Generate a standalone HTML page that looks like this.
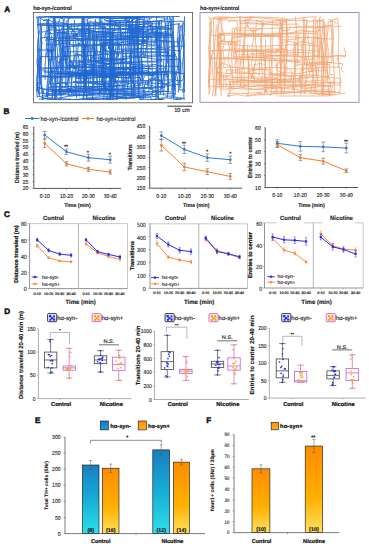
<!DOCTYPE html>
<html><head><meta charset="utf-8"><style>
html,body{margin:0;padding:0;background:#fff;}
svg{display:block;font-family:"Liberation Sans", sans-serif;text-rendering:geometricPrecision;-webkit-font-smoothing:antialiased;}
</style></head><body>
<svg width="369" height="550" viewBox="0 0 369 550">
<rect width="369" height="550" fill="#fff"/>
<text transform="translate(4.30 11.85) scale(0.1)" x="0" y="0" font-size="82.0" text-anchor="start" fill="#111" font-weight="bold" stroke="#111" stroke-width="5.00">A</text>
<text transform="translate(3.60 114.15) scale(0.1)" x="0" y="0" font-size="82.0" text-anchor="start" fill="#111" font-weight="bold" stroke="#111" stroke-width="5.00">B</text>
<text transform="translate(4.00 217.35) scale(0.1)" x="0" y="0" font-size="82.0" text-anchor="start" fill="#111" font-weight="bold" stroke="#111" stroke-width="5.00">C</text>
<text transform="translate(4.20 313.95) scale(0.1)" x="0" y="0" font-size="82.0" text-anchor="start" fill="#111" font-weight="bold" stroke="#111" stroke-width="5.00">D</text>
<text transform="translate(34.90 422.65) scale(0.1)" x="0" y="0" font-size="82.0" text-anchor="start" fill="#111" font-weight="bold" stroke="#111" stroke-width="5.00">E</text>
<text transform="translate(206.30 422.85) scale(0.1)" x="0" y="0" font-size="82.0" text-anchor="start" fill="#111" font-weight="bold" stroke="#111" stroke-width="5.00">F</text>
<text transform="translate(33.20 9.99) scale(0.1)" x="0" y="0" font-size="58.0" text-anchor="start" fill="#111" font-weight="bold" stroke="#111" stroke-width="1.00" textLength="386.0" lengthAdjust="spacingAndGlyphs">hα-syn-/control</text>
<rect x="33.50" y="12.50" width="159.10" height="90.30" fill="none" stroke="#555" stroke-width="0.8" />
<path d="M84.8,84.7 L85.1,82.2 L85.2,79.7 L85.3,77.1 L85.3,74.6 L85.2,72.0 L84.9,69.5 L84.6,66.9 L84.3,64.4 L84.0,61.8 L83.8,59.3 L83.8,56.7 L83.9,54.2 L84.1,51.7 L84.5,49.1 L84.9,46.6 L85.3,44.0 L82.1,45.5 L78.9,44.3 M122.7,80.2 L123.1,77.5 L123.4,74.9 L123.4,72.3 L122.9,69.8 L122.3,67.2 L121.8,64.6 L121.7,62.0 L122.0,59.4 L122.4,56.8 L122.6,54.2 L122.3,51.6 L121.7,49.0 L121.1,46.5 L120.7,43.9 L118.0,43.7 L115.3,42.6 L112.5,43.3 L109.9,42.7 L107.2,42.0 L104.4,42.8 M119.7,25.9 L119.9,28.5 L120.3,31.0 L120.6,33.6 L120.9,36.2 L121.2,38.7 L121.4,41.3 L121.6,43.8 L121.6,46.4 L121.5,49.0 L121.4,51.5 L121.2,54.1 L121.0,56.7 L120.9,59.2 L120.7,61.8 L120.6,64.4 L120.6,66.9 L120.7,69.5 L120.9,72.0 L121.1,74.6 L121.4,77.1 L121.8,79.7 L122.1,82.3 L122.3,84.8 L122.5,87.4 L122.7,89.9 L120.1,90.3 L117.5,89.6 L114.9,89.3 L112.4,89.8 L109.8,90.5 L107.2,90.7 L104.6,90.2 L102.1,89.7 M180.9,34.8 L180.7,37.4 L181.1,40.1 L181.7,42.7 L181.9,45.3 L181.5,47.9 L180.6,50.5 L179.9,53.1 L179.7,55.7 L180.1,58.3 L180.7,60.9 L180.9,63.6 L180.5,66.2 L179.6,68.7 L178.9,71.3 L178.7,73.9 L181.2,73.7 L183.7,73.5 L184.5,73.3 L184.5,73.2 L184.5,73.1 L184.5,73.1 L184.5,73.1 L184.5,73.2 L184.5,73.3 M50.7,88.5 L50.6,85.9 L50.7,83.3 L50.7,80.7 L50.8,78.1 L50.9,75.5 L50.9,72.9 L50.9,70.3 L50.9,67.7 L50.9,65.1 L50.9,62.6 L51.0,60.0 L51.1,57.4 L51.3,54.8 L51.5,52.2 L51.7,49.6 L52.0,47.0 L52.2,44.4 L52.3,41.8 M167.3,97.6 L167.6,95.0 L167.9,92.5 L168.2,90.0 L168.5,87.5 L168.5,85.0 L168.3,82.4 L168.0,79.9 L167.7,77.4 L167.6,74.8 L167.7,72.3 L168.0,69.8 L168.4,67.3 L168.7,64.8 L168.8,62.2 L168.7,59.7 L168.4,57.2 L168.2,54.7 L168.0,52.1 L168.0,49.6 L168.2,47.1 L170.8,46.9 L173.4,46.7 L176.0,46.3 L178.5,46.1 L181.2,46.1 L183.7,45.9 L184.5,45.6 L184.5,45.5 L184.5,45.5 M163.9,78.5 L164.2,75.9 L164.6,73.3 L165.1,70.7 L165.7,68.1 L166.3,65.5 L166.8,62.9 L167.2,60.3 L167.4,57.7 L167.5,55.0 L167.4,52.4 L167.1,49.8 L166.9,47.2 L166.6,44.5 L166.5,41.9 L166.4,39.3 L166.5,36.7 L166.7,34.0 L166.8,31.4 L163.9,32.0 L160.9,32.6 L157.9,32.3 L155.0,31.4 L152.1,30.6 M178.3,24.4 L178.3,26.9 L178.2,29.4 L178.0,32.0 L177.8,34.5 L177.8,37.0 L178.0,39.5 L178.3,42.0 L178.8,44.5 L179.3,47.0 L179.7,49.4 L180.0,51.9 L180.0,54.5 L179.9,57.0 L179.6,59.5 L179.2,62.0 L178.9,64.5 L178.8,67.0 L178.8,69.5 L179.0,72.0 L179.3,74.5 L179.6,77.0 L179.8,79.5 L179.8,82.0 L179.6,84.5 L179.2,87.0 L178.7,89.5 L178.2,92.0 M95.3,19.6 L95.5,22.2 L95.5,24.7 L95.4,27.2 L95.3,29.8 L95.1,32.3 L94.8,34.8 L94.7,37.3 L94.6,39.8 L94.5,42.4 L94.6,44.9 L94.6,47.5 L94.7,50.0 L94.8,52.5 L94.7,55.1 L94.5,57.6 L94.2,60.1 L93.8,62.6 L93.3,65.1 L92.8,67.6 L92.3,70.1 L91.8,72.6 L89.3,71.6 L86.8,72.7 M92.5,33.9 L92.6,36.5 L92.8,39.1 L92.9,41.7 L93.0,44.3 L93.2,46.9 L93.3,49.4 L93.3,52.0 L93.4,54.6 L93.5,57.2 L93.5,59.8 L93.5,62.4 L93.6,65.0 L93.5,67.6 L93.5,70.2 L93.5,72.8 L93.4,75.4 L93.4,78.0 L93.3,80.5 L93.2,83.1 L93.1,85.7 L92.9,88.3 L92.8,90.9 L92.6,93.5 L92.5,96.1 L92.3,98.7 L95.0,98.9 L97.6,99.5 L100.2,99.3 M177.3,38.4 L177.3,41.0 L177.5,43.6 L177.8,46.1 L178.2,48.7 L178.5,51.2 L178.6,53.8 L178.7,56.3 L178.6,58.9 L178.6,61.5 L178.5,64.0 L178.7,66.6 L178.9,69.1 L179.1,71.7 L179.2,74.3 L179.3,76.8 L179.2,79.4 L179.0,82.0 L178.8,84.5 L178.7,87.1 L178.8,89.7 L181.3,89.9 L183.9,89.6 L184.5,89.6 L184.5,90.0 L184.5,90.6 L184.5,91.0 L184.5,90.9 L184.5,90.6 L184.5,90.3 M156.6,17.1 L156.5,19.7 L156.4,22.3 L156.3,24.9 L156.2,27.4 L156.2,30.0 L156.2,32.6 L156.3,35.2 L156.4,37.7 L156.5,40.3 L156.7,42.9 L156.9,45.4 L157.0,48.0 L157.2,50.6 L157.3,53.1 L157.4,55.7 L157.4,58.3 L157.4,60.8 L157.4,63.4 L157.4,66.0 L157.3,68.6 L157.2,71.1 L157.2,73.7 L157.2,76.3 L157.2,78.8 L157.3,81.4 L157.4,84.0 L157.5,86.6 L157.7,89.1 L157.9,91.7 L158.2,94.3 L158.5,96.8 L158.8,99.4 L161.5,98.5 L164.3,99.2 M143.6,98.7 L143.7,96.1 L143.7,93.6 L143.5,91.1 L143.2,88.6 L142.8,86.0 L142.6,83.5 L142.5,81.0 L142.6,78.4 L142.7,75.9 L142.7,73.4 L142.5,70.8 L142.2,68.3 L141.9,65.8 L141.6,63.3 L141.6,60.7 L141.6,58.2 L141.7,55.7 L141.8,53.1 L141.6,50.6 L141.3,48.1 M37.1,18.1 L37.3,20.6 L37.4,23.1 L37.6,25.6 L37.9,28.2 L38.1,30.7 L38.3,33.2 L38.5,35.8 L38.7,38.3 L38.9,40.8 L39.0,43.3 L39.2,45.9 L39.3,48.4 L39.4,50.9 L39.5,53.5 L39.6,56.0 L39.6,58.5 L39.6,61.1 L39.6,63.6 L39.6,66.1 L39.5,68.7 L39.5,71.2 L39.5,73.7 L39.4,76.3 L39.4,78.8 L39.4,81.3 L39.3,83.9 L39.3,86.4 L39.3,88.9 L39.3,91.5 L39.3,94.0 L39.3,96.5 M100.8,18.1 L100.7,20.7 L100.7,23.3 L100.8,25.9 L100.8,28.5 L101.0,31.1 L101.1,33.6 L101.3,36.2 L101.5,38.8 L101.7,41.4 L101.9,44.0 L102.0,46.6 L102.1,49.2 L102.2,51.8 L102.3,54.4 L102.3,57.0 L102.3,59.6 L102.2,62.2 L102.1,64.8 L102.0,67.4 L101.9,70.0 L101.9,72.6 L101.8,75.2 L101.8,77.8 L101.9,80.4 L101.9,82.9 M41.0,26.0 L41.1,28.5 L41.1,31.0 L41.1,33.5 L41.1,36.0 L41.1,38.5 L41.1,41.0 L41.1,43.5 L41.1,46.0 L41.1,48.5 L41.1,51.0 L41.1,53.5 L41.1,56.0 L41.1,58.5 L41.1,61.1 L41.2,63.6 L41.2,66.1 L41.2,68.6 L41.3,71.1 L41.3,73.6 L41.4,76.1 L41.5,78.6 L41.6,81.1 L41.6,83.6 L41.7,86.1 L41.8,88.6 L39.0,87.4 L37.0,88.8 M68.0,73.2 L67.9,70.6 L67.8,68.1 L67.9,65.5 L67.9,63.0 L67.9,60.4 L67.7,57.9 L67.6,55.4 L67.5,52.8 L67.5,50.3 L67.7,47.7 L67.8,45.2 L68.0,42.7 L68.1,40.1 L68.1,37.6 L68.1,35.0 L68.2,32.5 L68.4,30.0 L68.6,27.4 L71.4,28.4 L74.2,29.5 L77.1,28.6 L79.9,29.4 L82.8,29.1 M165.6,23.3 L165.6,25.8 L165.6,28.4 L165.7,31.0 L165.7,33.5 L165.7,36.1 L165.8,38.7 L165.8,41.3 L165.9,43.8 L165.9,46.4 L166.0,49.0 L166.0,51.5 L166.0,54.1 L166.0,56.7 L165.9,59.2 L165.9,61.8 L165.8,64.4 L165.7,66.9 L165.5,69.5 L165.4,72.1 L165.2,74.6 L165.0,77.2 L164.8,79.8 L164.6,82.3 L164.3,84.9 L164.1,87.4 L163.9,90.0 L163.6,92.6 L163.4,95.1 M115.8,36.5 L116.0,39.2 L116.1,41.8 L116.0,44.4 L115.8,47.0 L115.4,49.6 L115.0,52.1 L114.6,54.7 L114.4,57.3 L114.3,59.9 L114.4,62.5 L114.6,65.2 L114.8,67.8 L115.0,70.4 L115.1,73.0 L115.1,75.6 L114.8,78.2 L114.3,80.8 L113.8,83.4 L113.1,85.9 L112.5,88.5 L112.1,91.1 L111.8,93.7 L109.3,93.6 L106.7,93.4 L104.2,93.3 L101.6,93.3 L99.1,93.3 L96.6,93.3 L94.0,93.3 L91.5,93.4 L88.9,93.5 M102.9,27.6 L102.9,30.2 L103.1,32.8 L103.4,35.4 L103.7,38.0 L103.9,40.6 L104.0,43.2 L103.9,45.8 L103.6,48.4 L103.2,51.0 L102.8,53.6 L102.6,56.2 L102.4,58.8 L102.5,61.4 L102.8,64.0 L103.3,66.6 L103.8,69.2 L104.3,71.8 L104.7,74.4 L104.9,77.0 L104.9,79.6 L104.8,82.2 L104.6,84.8 L104.5,87.4 M161.6,61.7 L161.3,59.2 L160.6,56.8 L159.6,54.3 L159.0,51.8 L158.8,49.3 L159.1,46.8 L159.5,44.3 L159.6,41.7 L159.2,39.3 L158.4,36.8 L157.8,34.3 L157.7,31.8 L158.1,29.3 L158.7,26.7 L159.1,24.2 L159.0,21.7 M59.9,94.7 L60.0,92.2 L60.1,89.6 L60.1,87.0 L60.3,84.5 L60.5,82.0 L60.7,79.4 L61.0,76.9 L61.4,74.3 L61.7,71.8 L62.1,69.2 L62.4,66.7 L62.6,64.2 L62.8,61.6 L62.9,59.1 L62.9,56.5 L62.8,53.9 L62.6,51.4 L62.5,48.8 L62.3,46.3 L62.1,43.7 L62.0,41.2 L61.9,38.6 L61.9,36.0 L61.9,33.5 L62.0,30.9 L62.1,28.4 L62.2,25.8 L59.5,25.8 L56.7,25.7 L54.0,25.6 L51.2,25.5 L48.4,25.3 L45.7,25.1 L42.9,24.9 L40.2,24.7 L37.4,24.5 M83.8,16.8 L83.9,19.3 L84.0,21.9 L84.2,24.5 L84.4,27.0 L84.6,29.6 L84.9,32.1 L85.1,34.7 L85.3,37.3 L85.4,39.8 L85.5,42.4 L85.5,45.0 L85.4,47.5 L85.3,50.1 L85.2,52.6 L85.0,55.2 L84.9,57.8 L84.8,60.3 L84.7,62.9 L84.7,65.4 L84.6,68.0 L84.6,70.6 L84.6,73.1 L84.5,75.7 L84.4,78.3 L84.3,80.8 L84.1,83.4 L83.8,85.9 L81.1,87.0 L78.4,87.1 L75.6,87.2 L72.9,87.9 L70.2,88.6 L67.4,88.3 L64.6,87.7 L61.9,87.9 L59.1,88.2 M76.6,34.8 L77.3,37.4 L78.0,40.1 L78.3,42.7 L78.3,45.3 L78.0,48.0 L77.8,50.7 L77.9,53.3 L78.3,55.9 L78.9,58.6 L79.3,61.2 L79.5,63.8 L79.2,66.5 L78.7,69.2 L78.3,71.8 L78.2,74.5 M50.0,84.9 L50.1,82.3 L50.3,79.7 L50.5,77.1 L50.7,74.5 L50.7,71.9 L50.6,69.3 L50.4,66.7 L50.1,64.2 L49.7,61.6 L49.2,59.0 L48.8,56.5 L48.3,53.9 L47.9,51.4 L47.5,48.8 M46.5,95.8 L46.6,93.2 L46.7,90.7 L46.9,88.2 L47.1,85.6 L47.3,83.1 L47.6,80.5 L47.9,78.0 L48.1,75.5 L48.3,72.9 L48.5,70.4 L48.5,67.8 L48.5,65.3 L48.5,62.8 L48.3,60.2 L48.2,57.7 L48.1,55.1 L47.9,52.6 L47.8,50.1 L47.8,47.5 L47.8,45.0 L47.8,42.5 L47.9,39.9 L47.9,37.4 L48.0,34.8 L48.0,32.3 L48.0,29.8 L47.9,27.2 L47.8,24.7 L47.6,22.1 L47.3,19.6 L43.6,20.2 L40.2,18.3 M67.3,90.4 L67.2,87.9 L67.2,85.4 L67.4,82.9 L67.8,80.4 L68.3,77.9 L69.0,75.4 L69.6,72.9 L70.1,70.4 L70.4,67.9 L70.4,65.3 L70.3,62.8 L69.9,60.3 L69.6,57.8 L69.2,55.2 L69.0,52.7 L69.0,50.2 L69.2,47.7 L69.4,45.1 L69.7,42.6 L70.0,40.1 L70.1,37.6 L70.0,35.1 M112.9,33.3 L112.8,35.8 L112.7,38.3 L112.7,40.9 L112.7,43.4 L112.8,45.9 L112.8,48.4 L112.8,51.0 L112.8,53.5 L112.8,56.0 L112.8,58.5 L112.9,61.1 L113.1,63.6 L113.2,66.1 L113.3,68.6 L113.4,71.2 L113.5,73.7 L113.5,76.2 L113.7,78.7 L110.7,77.3 L107.5,77.8 L104.4,77.7 M88.0,58.5 L87.6,55.9 L87.8,53.4 L88.4,50.8 L88.7,48.3 L88.5,45.7 L88.0,43.1 L87.7,40.5 L88.0,38.0 L88.7,35.4 L89.3,32.9 L89.4,30.3 L89.1,27.7 L88.9,25.1 L89.2,22.6 M135.8,72.4 L135.7,69.8 L135.5,67.2 L135.4,64.5 L135.3,61.9 L135.1,59.3 L134.9,56.7 L134.8,54.0 L134.7,51.4 L134.7,48.8 L134.8,46.2 L134.9,43.5 L134.9,40.9 L134.9,38.3 L135.0,35.7 L135.1,33.0 L135.3,30.4 L135.5,27.8 L135.8,25.2 M117.7,98.2 L117.5,95.7 L117.3,93.2 L117.0,90.7 L116.7,88.1 L116.4,85.6 L116.0,83.1 L115.8,80.6 L115.6,78.1 L115.6,75.6 L115.7,73.0 L115.8,70.5 L116.0,68.0 L116.1,65.5 L116.2,62.9 L116.3,60.4 L116.4,57.9 L116.5,55.4 L116.6,52.8 L114.2,51.6 L111.6,51.9 L109.1,51.5 L106.7,50.4 L104.1,50.7 L101.5,51.8 M81.9,18.0 L82.0,20.6 L81.9,23.2 L81.8,25.8 L81.7,28.4 L81.6,31.0 L81.7,33.6 L81.9,36.1 L82.3,38.7 L82.7,41.3 L83.2,43.8 L83.6,46.4 L83.9,49.0 L84.0,51.6 L84.0,54.2 L83.8,56.7 L83.5,59.3 L83.2,61.9 L83.0,64.5 L82.8,67.1 L82.8,69.7 L83.0,72.3 L83.2,74.9 L83.5,77.4 L83.8,80.0 L84.0,82.6 M143.3,23.7 L143.3,26.2 L143.2,28.7 L143.0,31.2 L142.8,33.7 L142.5,36.2 L142.2,38.7 L141.8,41.2 L141.5,43.7 L141.2,46.2 L141.0,48.7 L140.9,51.3 L140.9,53.8 L141.0,56.3 L141.1,58.8 L141.2,61.3 L141.3,63.9 L141.4,66.4 L141.4,68.9 L141.3,71.4 L141.2,73.9 L141.1,76.4 L140.9,78.9 L140.8,81.5 M111.9,19.9 L112.0,22.4 L112.1,24.9 L112.2,27.5 L112.3,30.0 L112.3,32.5 L112.4,35.1 L112.6,37.6 L112.8,40.1 L113.1,42.6 L113.3,45.2 L113.6,47.7 L113.8,50.2 L114.0,52.8 L114.2,55.3 L114.2,57.8 L114.2,60.4 L114.2,62.9 L114.1,65.4 L113.9,68.0 L113.8,70.5 L113.8,73.0 L113.7,75.6 L113.7,78.1 L113.8,80.6 L113.8,83.2 L113.9,85.7 L114.0,88.2 L114.0,90.8 L113.9,93.3 L113.9,95.8 L113.7,98.4 M131.9,18.4 L132.1,20.9 L132.4,23.4 L132.7,25.9 L132.9,28.4 L133.1,30.9 L133.3,33.4 L133.5,35.9 L133.6,38.4 L133.8,40.8 L133.9,43.3 L134.0,45.8 L134.2,48.3 L134.3,50.8 L134.5,53.3 L134.6,55.8 L137.2,55.8 L139.8,56.0 L142.1,54.6 L144.6,54.3 M134.6,87.2 L134.2,84.6 L133.6,82.1 L132.9,79.5 L132.6,76.9 L132.6,74.3 L132.7,71.6 L132.7,69.0 L132.3,66.4 L131.8,63.9 L131.5,61.3 L131.5,58.6 L131.8,56.0 L132.1,53.4 L132.1,50.7 M109.7,31.2 L109.7,33.8 L109.7,36.5 L109.7,39.1 L109.7,41.7 L109.8,44.3 L110.0,46.9 L110.1,49.5 L110.3,52.1 L110.4,54.7 L110.5,57.4 L110.6,60.0 L110.7,62.6 L110.8,65.2 L110.8,67.8 L110.8,70.4 L110.8,73.0 L110.9,75.7 L111.0,78.3 L111.1,80.9 L111.2,83.5 L114.1,83.1 L116.9,82.7 L119.8,82.6 L122.6,82.7 L125.4,82.9 L128.3,83.4 L131.1,84.0 M51.7,35.6 L51.3,38.2 L51.1,40.7 L51.1,43.3 L51.2,45.9 L51.5,48.5 L51.7,51.1 L51.7,53.7 L51.6,56.3 L51.2,58.9 L50.8,61.5 L50.5,64.1 L50.4,66.7 L50.5,69.2 L50.7,71.8 L50.9,74.4 L51.0,77.0 L50.8,79.6 L54.0,78.0 L57.4,77.3 M76.6,97.4 L76.5,94.8 L76.3,92.2 L76.2,89.7 L76.1,87.1 L76.0,84.5 L75.9,81.9 L75.8,79.4 L75.8,76.8 L75.8,74.2 L75.8,71.7 L75.9,69.1 L76.1,66.5 L76.2,64.0 L76.4,61.4 L76.7,58.8 L76.9,56.3 L77.2,53.7 M112.0,97.8 L111.8,95.2 L111.6,92.7 L111.5,90.1 L111.5,87.5 L111.6,84.9 L111.8,82.3 L112.1,79.8 L112.5,77.2 L112.9,74.6 L113.2,72.1 L113.5,69.5 L113.8,66.9 L113.9,64.3 L113.9,61.7 L113.8,59.2 L113.6,56.6 L113.4,54.0 L113.2,51.4 L113.0,48.8 L112.9,46.2 L112.8,43.6 L112.9,41.1 L113.1,38.5 L113.4,35.9 L113.8,33.3 L114.1,30.8 L114.5,28.2 L114.9,25.6 L115.1,23.1 L115.3,20.5 L112.5,20.0 L109.7,21.0 L107.0,20.7 L104.3,19.5 M86.7,97.7 L86.5,95.2 L86.4,92.7 L86.4,90.1 L86.4,87.6 L86.5,85.1 L86.7,82.5 L86.8,80.0 L86.8,77.4 L86.8,74.9 L86.6,72.4 L86.3,69.9 L86.0,67.4 L85.6,64.8 L85.3,62.3 L84.9,59.8 L84.7,57.3 L84.6,54.8 L84.5,52.2 L84.5,49.7 L84.4,47.2 L84.3,44.6 M48.5,19.3 L48.6,21.9 L48.7,24.4 L48.8,27.0 L48.9,29.6 L49.0,32.1 L49.0,34.7 L49.0,37.2 L49.0,39.8 L49.0,42.3 L48.9,44.9 L48.9,47.5 L48.8,50.0 L48.8,52.6 L48.7,55.1 L48.7,57.7 L48.6,60.2 L48.6,62.8 L48.6,65.4 L48.5,67.9 L48.5,70.5 L48.5,73.0 L48.4,75.6 L48.3,78.1 L48.3,80.7 L48.2,83.3 L48.1,85.8 L47.9,88.4 L47.8,90.9 L47.6,93.5 L47.4,96.0 L47.2,98.6 M101.1,42.9 L101.6,45.4 L102.1,48.0 L102.4,50.6 L102.4,53.2 L102.2,55.7 L102.0,58.3 L102.0,60.9 L102.2,63.5 L102.5,66.0 L102.8,68.6 L102.9,71.2 L102.7,73.8 L102.3,76.3 L101.8,78.9 L101.4,81.5 L101.3,84.0 L101.3,86.6 L101.4,89.2 L101.4,91.8 L98.5,90.6 L95.4,90.0 L92.3,89.9 M79.6,96.0 L79.3,93.5 L78.8,90.9 L78.5,88.4 L78.7,85.9 L79.0,83.3 L79.0,80.8 L78.7,78.2 L78.4,75.7 L78.4,73.1 L78.7,70.6 L79.1,68.0 L79.2,65.5 L78.9,62.9 L78.7,60.4 L81.3,61.3 L83.9,60.9 L86.5,60.4 L89.1,60.2 L91.6,60.5 L94.2,60.9 L96.8,61.0 M110.9,95.3 L111.0,92.7 L111.0,90.2 L111.1,87.7 L111.2,85.1 L111.2,82.6 L111.2,80.0 L111.2,77.5 L111.2,75.0 L111.2,72.4 L111.2,69.9 L111.1,67.3 L111.1,64.8 L111.0,62.3 L111.0,59.7 L111.0,57.2 L110.9,54.7 L110.9,52.1 L110.9,49.6 L110.8,47.0 L110.8,44.5 L110.7,42.0 L110.7,39.4 L110.6,36.9 L110.5,34.3 L110.4,31.8 L110.3,29.3 L110.2,26.7 L110.1,24.2 L109.9,21.7 L112.6,21.2 L115.2,20.6 L117.9,20.4 L120.6,20.5 L123.3,20.3 L126.0,20.6 M98.0,85.6 L97.6,83.1 L97.2,80.5 L96.9,77.9 L96.6,75.4 L96.4,72.8 L96.2,70.3 L96.1,67.7 L96.1,65.1 L96.1,62.6 L96.2,60.0 L96.3,57.4 L96.4,54.9 L96.4,52.3 L96.5,49.8 L96.5,47.2 L96.5,44.6 L96.5,42.1 L96.5,39.5 L96.5,36.9 L96.5,34.4 L96.6,31.8 L94.1,30.9 L91.6,30.6 L89.1,30.1 L86.6,29.6 L84.1,29.5 L81.5,30.0 L79.0,30.4 M82.9,99.2 L83.2,96.7 L83.4,94.1 L83.7,91.6 L83.8,89.0 L83.9,86.5 L83.9,83.9 L83.8,81.4 L83.7,78.9 L83.5,76.3 L83.3,73.8 L83.2,71.2 L83.1,68.7 L83.1,66.1 L83.1,63.6 L83.2,61.1 L83.3,58.5 L83.5,56.0 L83.6,53.4 L83.8,50.9 L83.8,48.3 L83.8,45.8 L83.8,43.2 L83.6,40.7 L83.4,38.2 L83.1,35.6 L82.8,33.1 L82.5,30.5 L82.2,28.0 L82.1,25.5 L84.7,24.8 L87.3,25.6 L89.9,26.1 L92.6,25.8 L95.3,25.2 L97.9,25.5 L100.4,26.6 L103.0,27.6 L105.6,27.6 M137.6,18.6 L137.6,21.1 L137.6,23.6 L137.7,26.1 L137.8,28.6 L137.9,31.1 L137.9,33.6 L138.0,36.1 L138.1,38.6 L138.2,41.1 L138.3,43.6 L138.4,46.1 L138.4,48.6 L138.4,51.1 L138.4,53.6 L138.4,56.1 L138.5,58.6 L138.5,61.1 L138.5,63.7 L138.6,66.2 L138.7,68.7 L138.7,71.2 L138.8,73.7 L138.9,76.2 L139.0,78.7 L139.0,81.2 L139.1,83.7 L139.1,86.2 L139.1,88.7 L139.1,91.2 L139.1,93.7 L139.1,96.2 L139.1,98.7 L141.7,99.0 L144.3,99.3 L146.9,99.5 L149.5,99.5 L152.1,99.5 L154.7,99.5 L157.3,99.5 L159.9,99.5 L162.5,99.5 M51.9,97.5 L52.5,95.0 L52.7,92.4 L52.2,89.9 L51.6,87.4 L51.1,84.9 L51.1,82.3 L51.7,79.8 L52.4,77.2 L52.7,74.7 L52.5,72.1 L51.8,69.6 L51.0,67.1 L50.5,64.6 L50.6,62.0 L51.1,59.5 L51.6,56.9 L51.6,54.4 L51.0,51.9 L50.1,49.4 L47.2,50.0 L44.4,50.1 L41.6,49.9 L38.7,49.3 M82.5,40.8 L82.4,43.4 L82.4,46.1 L82.4,48.7 L82.5,51.3 L82.7,54.0 L82.9,56.6 L83.0,59.2 L83.0,61.9 L82.8,64.5 L82.5,67.2 L82.2,69.8 L81.8,72.4 L81.6,75.1 L84.5,75.4 L87.4,74.1 L90.4,74.5 L93.3,74.8 M46.7,21.5 L46.7,24.0 L46.8,26.6 L46.9,29.1 L46.9,31.6 L46.9,34.1 L46.9,36.6 L46.9,39.2 L46.8,41.7 L46.7,44.2 L46.5,46.7 L46.3,49.2 L46.1,51.7 L45.9,54.3 L45.7,56.8 L45.5,59.3 L45.4,61.8 L45.2,64.3 L45.2,66.8 L45.1,69.3 L45.1,71.9 L45.2,74.4 L45.2,76.9 L45.2,79.4 M126.7,19.0 L126.5,21.5 L126.2,24.0 L126.0,26.5 L125.8,29.0 L125.7,31.5 L125.6,34.0 L125.5,36.5 L125.4,39.1 L125.4,41.6 L125.4,44.1 L125.4,46.6 L125.5,49.1 L125.5,51.6 L125.6,54.2 L125.7,56.7 L125.7,59.2 L125.8,61.7 L125.8,64.2 L125.8,66.7 L125.8,69.2 L125.7,71.8 L125.6,74.3 L125.5,76.8 L125.3,79.3 L125.2,81.8 L125.0,84.3 L124.8,86.8 L124.6,89.3 L124.3,91.8 L124.1,94.3 L123.9,96.8 L121.2,96.8 L118.6,96.8 L115.9,96.2 L113.3,95.5 L110.6,95.5 M48.4,24.4 L48.5,27.0 L48.8,29.6 L49.1,32.2 L49.1,34.8 L49.0,37.4 L48.7,40.0 L48.5,42.6 L48.6,45.1 L48.9,47.7 L49.1,50.3 L49.2,52.9 L49.1,55.5 L48.8,58.1 L48.6,60.7 L48.6,63.3 L48.8,65.9 M102.1,58.6 L102.4,56.0 L102.6,53.4 L102.9,50.9 L103.1,48.3 L103.2,45.7 L103.2,43.1 L103.2,40.6 L103.1,38.0 L103.0,35.4 L102.8,32.8 L102.7,30.3 L102.6,27.7 L102.4,25.1 L102.2,22.5 L101.9,20.0 M82.6,17.4 L82.5,19.9 L82.4,22.4 L82.3,24.9 L82.2,27.5 L82.1,30.0 L82.0,32.5 L81.9,35.0 L81.9,37.6 L81.8,40.1 L81.8,42.6 L81.8,45.1 L81.7,47.7 L81.7,50.2 L81.6,52.7 L81.5,55.2 L81.4,57.8 L81.3,60.3 L81.2,62.8 L81.1,65.3 L81.1,67.9 L81.0,70.4 L81.0,72.9 L81.0,75.4 L81.0,78.0 L81.0,80.5 L81.0,83.0 L80.9,85.5 L80.8,88.1 L80.7,90.6 L78.3,91.2 L75.7,91.0 L73.1,90.3 L70.6,89.8 L68.1,90.1 L65.6,91.2 L63.2,92.4 M173.3,44.2 L173.5,46.7 L173.7,49.3 L173.6,51.8 L173.3,54.4 L172.9,56.9 L172.6,59.5 L172.3,62.0 L172.1,64.6 L172.2,67.1 L172.3,69.7 L172.6,72.3 L172.9,74.8 L173.1,77.4 L173.2,80.0 L173.1,82.5 L172.7,85.1 L172.3,87.6 L171.7,90.1 M83.6,16.6 L83.3,19.3 L83.1,21.9 L83.1,24.5 L83.3,27.1 L83.6,29.7 L84.0,32.3 L84.5,34.9 L85.0,37.5 L85.3,40.1 L85.5,42.7 L85.5,45.3 L85.4,47.9 L85.2,50.5 L85.0,53.2 L84.9,55.8 L85.0,58.4 L85.2,61.0 L85.6,63.6 L88.3,64.6 L90.9,64.6 L93.6,64.5 L96.3,65.0 L99.0,65.8 L101.6,66.0 L104.3,65.3 L107.1,64.5 L109.8,64.4 M38.1,17.5 L38.4,20.1 L38.7,22.7 L38.9,25.3 L39.0,27.8 L38.9,30.4 L38.8,33.0 L38.5,35.5 L38.2,38.1 L37.9,40.6 L37.7,43.2 L37.6,45.8 L37.6,48.3 L37.7,50.9 L37.9,53.5 L38.1,56.1 L38.3,58.6 L38.5,61.2 L38.5,63.8 L38.4,66.3 L38.1,68.9 L37.8,71.5 L37.4,74.0 L37.0,76.6 L37.0,79.1 L37.0,81.7 L37.0,84.3 L37.0,86.8 L37.0,89.4 L37.0,92.0 L37.0,94.6 L37.0,97.1 L39.6,96.2 L42.1,97.4 L44.7,97.1 L47.3,96.4 L49.7,97.9 L52.2,98.7 M85.1,17.4 L84.8,19.9 L84.7,22.5 L84.6,25.1 L84.6,27.6 L84.8,30.2 L85.0,32.8 L85.3,35.3 L85.6,37.9 L86.0,40.5 L86.2,43.0 L86.4,45.6 L86.4,48.2 L86.3,50.7 L86.1,53.3 L85.8,55.8 L85.5,58.4 L85.1,61.0 L84.9,63.5 L84.7,66.1 L84.6,68.6 L84.6,71.2 L84.8,73.8 L84.9,76.3 L85.1,78.9 L85.2,81.5 L85.2,84.0 L85.2,86.6 L85.0,89.2 L84.7,91.7 L84.3,94.3 L83.8,96.8 L83.4,99.4 L86.6,99.5 L89.8,99.5 L93.1,99.5 M148.9,91.8 L148.9,89.2 L148.9,86.6 L148.8,84.0 L148.8,81.5 L148.8,78.9 L148.7,76.3 L148.6,73.7 L148.5,71.2 L148.3,68.6 L148.1,66.0 L147.9,63.5 L147.8,60.9 L147.6,58.3 L147.4,55.8 L147.3,53.2 L147.1,50.6 L147.1,48.0 L147.0,45.5 L147.1,42.9 L147.1,40.3 L147.2,37.7 L147.3,35.2 L147.5,32.6 L147.6,30.0 L147.8,27.4 L147.9,24.9 L148.0,22.3 L148.1,19.7 L145.3,20.5 L142.8,18.9 L140.1,19.5 L137.4,19.7 M155.9,99.3 L156.2,96.8 L156.4,94.3 L156.7,91.8 L157.0,89.2 L157.2,86.7 L157.4,84.2 L157.5,81.6 L157.6,79.1 L157.6,76.6 L157.6,74.1 L157.6,71.5 L157.5,69.0 L157.3,66.5 L157.2,63.9 L157.0,61.4 L156.8,58.9 L156.6,56.4 L156.4,53.8 L156.3,51.3 L156.2,48.8 L156.1,46.2 L156.0,43.7 L156.0,41.2 L156.0,38.7 L156.0,36.1 L156.0,33.6 L152.2,32.7 L148.6,33.6 M62.9,31.8 L62.8,34.3 L62.7,36.9 L62.7,39.4 L62.6,41.9 L62.5,44.5 L62.5,47.0 L62.4,49.5 L62.3,52.1 L62.2,54.6 L62.0,57.1 L61.9,59.6 L61.7,62.2 L61.5,64.7 L61.3,67.2 L61.1,69.7 L60.9,72.3 L60.7,74.8 L60.5,77.3 L60.4,79.8 L60.3,82.4 L60.2,84.9 L60.1,87.4 L60.1,90.0 L60.0,92.5 L60.0,95.0 L63.1,94.5 L66.0,93.4 M97.3,87.6 L97.2,85.1 L97.1,82.5 L96.9,79.9 L96.8,77.3 L96.6,74.7 L96.5,72.1 L96.3,69.5 L96.2,67.0 L96.0,64.4 L95.9,61.8 L95.8,59.2 L95.7,56.6 L95.5,54.0 L95.4,51.4 L95.2,48.9 L95.0,46.3 L94.9,43.7 L94.8,41.1 L94.7,38.5 L94.5,35.9 M59.9,91.4 L60.0,88.8 L60.1,86.2 L60.1,83.6 L60.1,81.0 L60.2,78.4 L60.2,75.8 L60.3,73.2 L60.3,70.6 L60.4,68.0 L60.4,65.4 L60.5,62.8 L60.5,60.2 L60.5,57.6 L60.5,55.0 L60.4,52.4 L60.3,49.8 L60.1,47.2 L59.9,44.6 L59.7,42.0 L59.4,39.4 L59.1,36.8 L58.8,34.2 L58.4,31.7 M167.5,17.0 L167.3,19.6 L167.2,22.2 L167.2,24.7 L167.3,27.3 L167.5,29.9 L167.6,32.4 L167.8,35.0 L167.8,37.5 L167.8,40.1 L167.7,42.7 L167.7,45.2 L167.8,47.8 L167.9,50.4 L168.2,52.9 L168.4,55.5 L168.6,58.0 L168.7,60.6 L168.7,63.2 L168.8,65.7 L168.8,68.3 L169.0,70.9 L166.4,72.0 L163.5,71.3 L161.0,72.8 M39.2,30.8 L39.0,33.3 L38.7,35.9 L38.5,38.4 L38.4,40.9 L38.2,43.4 L38.1,46.0 L38.0,48.5 L37.9,51.0 L37.9,53.5 L37.8,56.1 L37.8,58.6 L37.7,61.1 L37.7,63.7 L37.6,66.2 L37.5,68.7 L37.4,71.2 L37.3,73.8 L37.2,76.3 L37.1,78.8 L37.0,81.4 L37.0,83.9 L37.0,86.4 L37.0,88.9 L37.0,91.5 L37.0,90.7 L37.0,90.6 L37.0,91.1 L37.0,90.9 L37.0,90.0 L37.0,89.4 M55.8,99.4 L55.8,96.9 L55.7,94.4 L55.7,91.9 L55.7,89.4 L55.7,86.9 L55.7,84.4 L55.7,81.9 L55.8,79.4 L55.8,76.9 L55.9,74.3 L56.0,71.8 L56.0,69.3 L56.0,66.8 L56.0,64.3 L55.9,61.8 L55.8,59.3 L55.6,56.8 L55.4,54.3 L55.3,51.8 L55.1,49.3 L54.9,46.8 L54.7,44.3 L54.5,41.8 L54.4,39.3 L54.3,36.8 L54.2,34.3 L54.1,31.8 L53.9,29.3 L53.8,26.8 L53.6,24.3 L53.4,21.8 L53.2,19.3 M60.1,91.2 L60.3,88.6 L60.5,86.0 L60.8,83.5 L61.2,80.9 L61.6,78.3 L61.9,75.7 L62.2,73.2 L62.5,70.6 L62.7,68.0 L62.8,65.4 L62.9,62.8 L62.8,60.2 L62.7,57.7 L62.6,55.1 L62.5,52.5 L62.4,49.9 L62.3,47.3 L62.3,44.7 L62.3,42.1 L62.5,39.5 L62.6,37.0 L62.8,34.4 L63.0,31.8 L63.2,29.2 L63.3,26.6 L63.3,24.1 L63.3,21.5 L63.2,18.9 L60.7,18.3 L58.4,16.6 L55.8,17.0 L53.2,16.8 L50.6,17.5 M160.6,94.1 L160.7,91.5 L160.9,89.0 L161.2,86.4 L161.4,83.8 L161.6,81.3 L161.7,78.7 L161.6,76.1 L161.4,73.6 L161.1,71.0 L160.7,68.4 L160.4,65.9 L160.2,63.3 L160.2,60.7 L160.2,58.2 L160.4,55.6 L160.7,53.0 L161.0,50.5 L161.2,47.9 L161.3,45.3 L161.3,42.8 L161.1,40.2 L160.8,37.7 L160.5,35.1 L160.3,32.5 L160.1,30.0 L160.0,27.4 L162.5,27.5 L165.0,27.6 L167.5,27.8 L170.0,28.1 M109.2,45.6 L109.4,48.2 L109.6,50.9 L109.7,53.5 L109.8,56.2 L109.9,58.8 L110.0,61.4 L110.0,64.1 L110.0,66.7 L110.0,69.4 L109.9,72.0 L109.9,74.6 L109.8,77.3 L109.7,79.9 L109.5,82.6 L109.4,85.2 L109.2,87.9 L109.0,90.5 L112.4,90.2 L115.8,90.6 M83.2,17.6 L83.1,20.2 L83.0,22.7 L83.0,25.3 L82.9,27.9 L83.0,30.4 L83.0,33.0 L83.1,35.5 L83.2,38.1 L83.3,40.7 L83.5,43.2 L83.7,45.8 L83.9,48.3 L84.1,50.9 L84.3,53.4 L84.5,56.0 L84.7,58.5 L84.8,61.1 L85.0,63.7 L85.1,66.2 L85.1,68.8 L85.2,71.3 L85.2,73.9 L85.2,76.5 L85.2,79.0 L85.2,81.6 L85.2,84.1 L85.3,86.7 M139.6,22.4 L139.3,24.9 L138.7,27.5 L138.0,30.0 L137.6,32.6 L137.6,35.2 L137.8,37.8 L138.1,40.4 L138.1,42.9 L137.7,45.5 L137.3,48.1 L137.0,50.6 L137.2,53.2 L137.6,55.8 L138.2,58.4 L138.4,61.0 L141.1,61.4 L143.9,61.2 L146.6,61.2 L149.3,61.3 L152.0,61.4 L154.7,61.2 L157.4,60.6 L160.1,59.6 M110.3,96.3 L110.2,93.8 L110.1,91.2 L110.1,88.7 L110.2,86.1 L110.3,83.6 L110.4,81.0 L110.5,78.5 L110.7,76.0 L110.9,73.4 L111.0,70.9 L111.2,68.3 L111.3,65.8 L111.4,63.2 L111.4,60.7 L111.4,58.1 L111.3,55.6 L111.2,53.0 L111.0,50.5 L110.9,47.9 L110.7,45.4 L110.5,42.8 L110.4,40.3 L110.2,37.7 L110.1,35.2 L110.0,32.6 L110.0,30.1 L110.1,27.5 L110.2,25.0 L110.3,22.4 L110.5,19.9 L110.7,17.3 M137.1,17.4 L137.1,19.9 L137.1,22.4 L137.1,24.9 L137.1,27.4 L137.1,29.9 L137.0,32.4 L136.8,34.9 L136.7,37.5 L136.5,40.0 L136.3,42.5 L136.1,45.0 L136.0,47.5 L136.0,50.0 L136.0,52.5 L136.0,55.0 L136.0,57.5 L136.1,60.0 L136.1,62.6 L136.0,65.1 L135.9,67.6 L135.7,70.1 L135.5,72.6 L135.4,75.1 L135.2,77.6 L135.1,80.1 L135.0,82.6 L135.0,85.1 L135.1,87.6 L135.1,90.2 L135.1,92.7 L135.2,95.2 L132.4,95.0 L129.7,94.1 L126.9,94.6 L124.1,95.1 L121.3,94.2 L118.6,93.6 M92.4,72.7 L92.2,70.1 L92.0,67.5 L91.9,64.9 L91.7,62.4 L91.4,59.8 L91.1,57.2 L90.9,54.6 L90.6,52.1 L90.4,49.5 L90.2,46.9 L90.0,44.4 L90.0,41.8 L89.9,39.2 L90.0,36.6 L90.0,34.0 L90.1,31.4 L90.1,28.8 L90.1,26.3 L90.1,23.7 L90.0,21.1 L92.7,22.3 L95.6,21.8 L98.3,22.8 L101.3,21.5 M98.9,69.3 L99.0,66.8 L99.0,64.2 L98.9,61.6 L98.6,59.1 L98.2,56.5 L97.7,53.9 L97.3,51.4 L96.9,48.8 L96.8,46.2 L96.8,43.7 L97.0,41.1 L97.4,38.5 L97.9,36.0 L98.4,33.4 L98.8,30.8 L99.1,28.3 L99.3,25.7 L99.4,23.1 L99.3,20.6 L99.2,18.0 L101.8,18.5 L104.4,17.9 L107.0,18.4 L109.6,19.0 L112.2,18.3 L114.9,17.9 M56.2,97.1 L56.3,94.6 L56.4,92.0 L56.5,89.4 L56.7,86.8 L56.9,84.2 L57.0,81.6 L57.1,79.1 L57.2,76.5 L57.2,73.9 L57.1,71.3 L56.9,68.8 L56.7,66.2 L56.5,63.6 L56.2,61.0 L55.9,58.5 L55.6,55.9 L55.4,53.3 L55.2,50.8 L55.1,48.2 L55.1,45.6 L55.1,43.0 L55.2,40.4 L55.3,37.9 L55.4,35.3 L55.5,32.7 L55.5,30.1 L55.5,27.5 L55.5,25.0 L55.3,22.4 L55.1,19.8 L54.9,17.3 L57.5,17.8 L60.1,17.8 M61.8,52.8 L61.7,50.2 L61.0,47.7 L60.0,45.2 L59.2,42.6 L59.1,40.1 L59.4,37.5 L59.9,34.9 L60.0,32.4 L59.5,29.8 L58.9,27.3 L58.5,24.7 L58.8,22.2 L59.6,19.6 M66.1,31.6 L66.3,34.2 L66.4,36.8 L66.5,39.3 L66.6,41.9 L66.7,44.4 L66.7,47.0 L66.8,49.6 L66.8,52.1 L66.8,54.7 L66.7,57.2 L66.7,59.8 L66.7,62.4 L66.7,64.9 L66.7,67.5 L66.7,70.1 L66.8,72.6 L66.8,75.2 L66.9,77.7 L67.0,80.3 L67.0,82.9 L67.1,85.4 M183.3,23.1 L183.0,25.6 L182.9,28.2 L182.9,30.8 L183.1,33.3 L183.4,35.9 L183.7,38.5 L184.0,41.0 L184.2,43.6 L184.3,46.2 L184.2,48.7 L184.0,51.3 L183.7,53.9 L183.3,56.4 L183.0,59.0 L182.7,61.5 L182.6,64.1 L182.7,66.7 L182.9,69.2 L183.1,71.8 L183.4,74.4 L183.7,76.9 L183.8,79.5 L183.8,82.1 L183.6,84.6 L183.3,87.2 L183.0,89.8 L182.6,92.3 L184.5,91.8 L184.5,90.9 L184.5,90.6 L184.5,90.7 L184.5,90.6 L184.5,90.2 L184.5,90.4 L184.5,91.0 L184.5,91.5 M161.6,20.3 L161.5,22.9 L161.4,25.4 L161.3,27.9 L161.3,30.5 L161.2,33.0 L161.1,35.6 L161.0,38.1 L160.9,40.7 L160.8,43.2 L160.8,45.7 L160.7,48.3 L160.6,50.8 L160.6,53.4 L160.6,55.9 L160.6,58.4 L160.6,61.0 L160.7,63.5 L160.7,66.1 L160.8,68.6 L160.8,71.2 L160.9,73.7 L160.9,76.2 L161.0,78.8 L161.0,81.3 L161.1,83.9 L161.2,86.4 L161.3,89.0 M68.2,93.6 L68.3,91.1 L68.4,88.5 L68.6,85.9 L68.8,83.3 L69.1,80.8 L69.3,78.2 L69.6,75.6 L69.8,73.1 L69.9,70.5 L69.9,67.9 L69.9,65.3 L69.7,62.8 L69.5,60.2 L69.3,57.7 L69.0,55.1 L68.7,52.5 L68.4,50.0 L68.1,47.4 L67.9,44.8 L67.8,42.3 L67.7,39.7 L67.7,37.1 L67.8,34.6 L67.9,32.0 L68.0,29.4 L68.1,26.9 L68.2,24.3 L68.3,21.7 L68.3,19.1 L68.2,16.6 M85.3,50.9 L85.9,53.4 L86.3,55.9 L86.1,58.4 L85.6,60.9 L84.9,63.4 L84.6,66.0 L84.7,68.5 L85.3,71.0 L86.0,73.4 L86.5,75.9 L86.4,78.4 L85.9,81.0 L85.4,83.5 L85.2,86.0 L85.5,88.5 L86.2,91.0 L87.0,93.5 L87.5,96.0 M163.4,36.8 L163.4,39.4 L163.4,42.0 L163.6,44.7 L163.8,47.3 L164.0,49.9 L164.1,52.5 L164.0,55.2 L163.9,57.8 L163.7,60.4 L163.6,63.0 L163.5,65.6 L163.6,68.2 L163.6,70.9 L163.6,73.5 L163.6,76.1 L163.3,78.7 L163.0,81.3 L162.7,83.9 L162.5,86.5 L162.3,89.2 L162.3,91.8 L159.5,92.2 L156.8,93.1 M57.9,82.5 L57.9,80.0 L57.8,77.5 L57.5,75.0 L57.3,72.5 L57.1,69.9 L57.0,67.4 L57.1,64.9 L57.3,62.4 L57.5,59.9 L57.7,57.4 L57.8,54.8 L57.6,52.3 L57.4,49.8 L57.0,47.3 L56.6,44.8 L56.3,42.3 L56.1,39.8 L56.1,37.3 L56.2,34.8 L56.2,32.3 L56.2,29.8 L56.1,27.3 L55.8,24.8 L55.3,22.3 L54.8,19.8 L54.3,17.3 L56.9,16.5 L59.6,16.8 L62.1,16.5 L64.7,16.5 L67.4,16.5 L70.0,16.5 L72.6,16.5 M156.0,31.5 L156.2,34.1 L156.4,36.7 L156.7,39.3 L157.0,41.9 L157.3,44.5 L157.6,47.1 L157.8,49.7 L158.0,52.3 L158.1,54.9 L158.1,57.5 L158.0,60.1 L157.8,62.7 L157.6,65.2 L157.3,67.8 L157.0,70.4 L156.6,73.0 L156.3,75.6 L156.1,78.2 L155.9,80.8 L155.8,83.4 L155.7,85.9 L155.7,88.5 L155.7,91.1 L155.8,93.7 L155.8,96.3 L153.1,96.2 L150.5,94.1 L147.7,95.5 L145.1,94.4 L142.3,96.3 M150.6,89.1 L151.0,86.6 L151.3,84.1 L151.7,81.6 L151.9,79.0 L152.1,76.5 L152.2,74.0 L152.3,71.5 L152.2,68.9 L152.1,66.4 L152.0,63.9 L151.8,61.3 L151.7,58.8 L151.5,56.3 L151.4,53.7 L151.4,51.2 L151.3,48.7 L151.4,46.2 L151.5,43.6 L151.6,41.1 L151.8,38.6 L152.0,36.1 L152.2,33.5 L152.4,31.0 L152.6,28.5 L152.7,26.0 L149.5,25.3 L146.7,26.9 M113.9,90.7 L113.9,88.2 L113.9,85.7 L113.8,83.2 L113.6,80.7 L113.2,78.2 L112.7,75.7 L112.4,73.2 L112.4,70.7 L112.6,68.2 L112.8,65.6 L112.9,63.1 L112.8,60.6 L112.6,58.1 L112.4,55.6 L112.4,53.1 L112.7,50.6 L113.1,48.1 L113.4,45.6 L113.7,43.1 L116.3,43.1 L119.0,43.1 L121.7,42.7 L124.4,42.1 L127.1,41.7 L129.8,41.9 L132.4,42.6 L135.1,43.4 L137.8,44.0 M60.8,98.8 L61.0,96.3 L61.2,93.8 L61.5,91.3 L61.8,88.8 L62.0,86.3 L62.3,83.8 L62.5,81.3 L62.8,78.8 L63.0,76.3 L63.2,73.8 L63.3,71.3 L63.4,68.8 L63.5,66.3 L63.6,63.8 L63.6,61.3 L63.5,58.8 L63.5,56.3 L63.4,53.8 L63.4,51.3 L63.3,48.8 L63.2,46.3 L63.2,43.8 L63.1,41.3 L63.1,38.8 L63.2,36.3 L63.2,33.8 L63.3,31.3 L63.5,28.8 L63.6,26.3 L63.8,23.8 L64.0,21.3 L64.3,18.8 M168.5,21.9 L168.5,24.4 L168.5,26.9 L168.5,29.4 L168.6,31.9 L168.6,34.4 L168.6,36.9 L168.7,39.4 L168.7,41.9 L168.8,44.5 L168.8,47.0 L168.8,49.5 L168.9,52.0 L168.9,54.5 L168.9,57.0 L168.8,59.5 L168.8,62.0 L168.8,64.6 L168.7,67.1 L168.6,69.6 L168.5,72.1 L168.4,74.6 L168.3,77.1 L168.2,79.6 L168.1,82.1 L167.9,84.6 L167.8,87.1 L167.7,89.7 L167.7,92.2 M129.6,16.9 L129.4,19.4 L129.3,21.9 L129.2,24.4 L129.3,26.9 L129.4,29.4 L129.6,31.9 L129.9,34.4 L130.2,36.9 L130.5,39.4 L130.8,41.9 L130.9,44.4 L131.0,46.9 L131.0,49.4 L130.9,51.9 L130.7,54.5 L130.4,57.0 L130.2,59.5 L129.9,62.0 L129.8,64.5 L129.7,67.0 L129.7,69.5 L129.8,72.0 L130.0,74.5 L130.3,77.0 L130.6,79.5 L130.9,82.0 L131.3,84.5 L131.6,87.0 L131.8,89.5 L131.9,92.0 L131.9,94.5 L131.8,97.1 M103.0,84.5 L103.1,81.9 L103.3,79.4 L103.5,76.9 L103.7,74.3 L103.7,71.8 L103.6,69.3 L103.4,66.7 L103.2,64.2 L103.0,61.7 L102.8,59.1 L102.7,56.6 L102.8,54.1 L103.0,51.5 L103.3,49.0 L103.6,46.5 L103.9,43.9 L104.1,41.4 L104.2,38.9 L104.2,36.3 L104.1,33.8 L104.0,31.3 L103.9,28.7 L103.9,26.2 L104.1,23.7 M112.7,44.0 L112.6,46.6 L112.1,49.2 L111.5,51.8 L110.9,54.4 L110.7,57.0 L110.9,59.6 L111.3,62.1 L111.9,64.7 L112.3,67.3 L112.5,69.9 L112.2,72.5 L111.8,75.1 L111.4,77.6 L111.2,80.2 L111.3,82.8 L111.9,85.4 L112.5,88.0 L113.2,90.5 L110.0,89.8 L106.8,88.7 L103.5,88.9 M66.2,63.5 L65.6,60.9 L65.0,58.4 L64.6,55.9 L64.3,53.3 L64.3,50.8 L64.5,48.2 L64.8,45.7 L65.0,43.1 L65.2,40.6 L65.1,38.0 L64.9,35.5 L64.5,33.0 L64.2,30.4 L63.9,27.9 L63.9,25.3 L64.0,22.8 M105.4,92.3 L105.4,89.7 L105.5,87.1 L105.7,84.5 L106.0,81.9 L106.3,79.3 L106.4,76.6 L106.3,74.0 L106.0,71.4 L105.5,68.9 L104.9,66.3 L104.3,63.7 L103.9,61.1 L103.6,58.5 M38.4,48.7 L38.4,51.2 L38.1,53.7 L37.7,56.2 L37.3,58.8 L37.0,61.3 L37.1,63.8 L37.4,66.3 L37.8,68.8 L38.2,71.3 L38.3,73.8 L38.2,76.3 L37.8,78.9 L37.5,81.4 L37.3,83.9 L37.5,86.4 L37.9,88.9 L38.4,91.4 L38.8,93.9 M132.1,83.5 L131.9,80.9 L131.7,78.3 L131.3,75.7 L130.9,73.1 L130.7,70.6 L130.5,68.0 L130.5,65.4 L130.7,62.8 L130.8,60.2 L130.9,57.6 L130.8,55.0 L130.6,52.4 L130.3,49.8 L130.0,47.2 L129.7,44.6 L129.5,42.0 L129.6,39.4 L129.7,36.8 L129.9,34.2 L130.0,31.6 L130.0,29.0 L129.9,26.4 L129.6,23.8 L129.3,21.2 L126.7,21.1 L124.1,21.1 L121.5,20.8 L118.9,20.5 L116.3,20.3 M136.6,17.1 L136.7,19.7 L136.8,22.3 L136.9,24.8 L137.0,27.4 L137.0,30.0 L137.1,32.5 L137.2,35.1 L137.3,37.7 L137.4,40.2 L137.4,42.8 L137.5,45.3 L137.6,47.9 L137.6,50.5 L137.7,53.0 L137.7,55.6 L137.8,58.2 L137.8,60.7 L137.9,63.3 L137.9,65.9 L138.0,68.4 L138.0,71.0 L138.0,73.6 L138.1,76.1 L138.1,78.7 L138.1,81.3 L138.1,83.8 L138.2,86.4 L138.2,89.0 L138.2,91.5 L138.2,94.1 L138.3,96.7 L135.5,97.6 L132.8,97.8 L130.1,96.8 M112.1,31.4 L111.8,33.9 L111.7,36.4 L111.6,38.9 L111.6,41.4 L111.6,43.9 L111.7,46.4 L111.7,48.9 L111.7,51.4 L111.7,53.9 L111.6,56.4 L111.4,58.9 L111.2,61.4 L111.0,63.9 L110.8,66.4 L110.6,68.9 L110.5,71.4 L110.5,73.9 L110.6,76.4 L110.7,78.9 L111.0,81.4 L111.2,83.9 L111.6,86.4 L111.9,88.9 L112.2,91.4 L112.4,93.9 L112.5,96.4 M54.6,99.0 L54.8,96.4 L55.0,93.9 L55.2,91.3 L55.4,88.7 L55.5,86.1 L55.5,83.6 L55.4,81.0 L55.3,78.4 L55.1,75.9 L54.8,73.3 L54.4,70.7 L54.1,68.2 L53.8,65.6 L53.5,63.0 L53.3,60.5 L53.2,57.9 L53.2,55.3 L53.2,52.8 L53.4,50.2 L53.6,47.6 L53.8,45.0 L54.1,42.5 L54.3,39.9 L54.5,37.3 L54.6,34.8 L54.7,32.2 L54.6,29.6 L54.5,27.0 L54.3,24.5 L54.0,21.9 L53.7,19.3 L53.4,16.8 M88.5,24.7 L88.7,27.3 L89.1,29.9 L89.5,32.4 L89.9,35.0 L90.1,37.6 L90.2,40.2 L90.1,42.7 L90.0,45.3 L89.9,47.9 L89.9,50.5 L90.0,53.1 L90.2,55.7 L90.6,58.2 L91.1,60.8 L91.5,63.4 L91.7,65.9 L91.9,68.5 L91.9,71.1 L89.3,71.2 L86.8,71.6 L84.3,72.3 M179.1,37.1 L179.0,39.6 L179.1,42.2 L179.1,44.7 L179.2,47.2 L179.4,49.8 L179.6,52.3 L179.8,54.9 L180.1,57.4 L180.3,59.9 L180.5,62.5 L180.7,65.0 L180.8,67.5 L180.8,70.1 L180.8,72.6 L180.8,75.2 L180.7,77.7 L180.7,80.2 L180.7,82.8 L180.7,85.3 L180.7,87.9 M89.3,94.1 L89.0,91.5 L88.7,89.0 L88.6,86.5 L88.5,84.0 L88.5,81.5 L88.6,78.9 L88.8,76.4 L89.0,73.9 L89.1,71.4 L89.2,68.9 L89.1,66.3 L89.0,63.8 L88.8,61.3 L88.5,58.8 L88.2,56.3 L87.9,53.8 L87.8,51.2 L87.7,48.7 L87.7,46.2 L87.8,43.7 L88.0,41.2 L88.2,38.6 L88.4,36.1 L88.5,33.6 L88.5,31.1 L88.5,28.6 L88.3,26.0 L88.1,23.5 L87.8,21.0 L87.6,18.5 L90.8,18.1 L94.1,17.8 L97.5,17.9 M59.4,78.2 L59.0,75.6 L58.7,73.1 L58.6,70.5 L58.6,68.0 L58.9,65.4 L59.3,62.9 L59.6,60.4 L59.9,57.8 L60.0,55.3 L59.9,52.7 L59.7,50.2 L59.3,47.7 L59.0,45.1 L58.8,42.6 L58.7,40.0 L58.9,37.5 L59.2,34.9 L59.7,32.4 L60.2,29.9 L57.6,30.4 L54.9,30.2 L52.3,29.9 L49.7,30.0 L47.1,30.7 L44.6,31.6 L42.1,32.1 M71.8,92.2 L71.8,89.7 L71.7,87.1 L71.7,84.5 L71.7,81.9 L71.8,79.4 L72.0,76.8 L72.2,74.3 L72.6,71.7 L73.0,69.1 L73.4,66.6 L73.7,64.0 L73.9,61.5 L74.0,58.9 L74.0,56.3 L73.9,53.8 L73.8,51.2 L73.6,48.6 L73.4,46.0 L73.3,43.5 L73.3,40.9 L73.4,38.3 L73.5,35.8 L73.8,33.2 L74.0,30.6 L74.3,28.1 L74.4,25.5 L74.5,22.9 L74.5,20.4 M135.7,20.7 L135.5,23.2 L135.4,25.7 L135.3,28.2 L135.2,30.7 L135.0,33.2 L134.9,35.7 L134.8,38.2 L134.7,40.7 L134.6,43.2 L134.5,45.7 L134.4,48.2 L134.3,50.7 L134.3,53.2 L134.2,55.7 L134.2,58.3 L134.1,60.8 L134.1,63.3 L134.0,65.8 L134.0,68.3 L134.0,70.8 L133.9,73.3 L133.9,75.8 L133.8,78.3 L133.8,80.8 L133.8,83.3 L133.8,85.8 L133.7,88.3 L133.7,90.9 L133.7,93.4 L133.7,95.9 L133.7,98.4 M118.8,71.4 L118.6,68.9 L118.4,66.3 L118.2,63.7 L118.0,61.1 L117.9,58.6 L117.8,56.0 L117.7,53.4 L117.6,50.8 L117.5,48.3 L117.5,45.7 L117.5,43.1 L117.6,40.5 L117.8,38.0 L118.0,35.4 L118.2,32.8 L118.4,30.2 L118.7,27.7 L118.9,25.1 L116.2,25.5 L113.6,25.1 L111.0,24.6 L108.3,24.6 L105.7,24.5 L103.1,23.8 M105.7,45.1 L105.6,47.7 L105.5,50.3 L105.4,52.9 L105.3,55.5 L105.3,58.0 L105.2,60.6 L105.2,63.2 L105.2,65.8 L105.3,68.4 L105.3,71.0 L105.2,73.6 L105.2,76.2 L105.1,78.8 L105.0,81.4 L104.9,84.0 L104.8,86.6 L104.6,89.2 L104.3,91.7 L104.1,94.3 L103.9,96.9 L103.6,99.5 M184.1,90.9 L184.1,88.3 L184.2,85.8 L184.3,83.3 L184.4,80.7 L184.4,78.2 L184.5,75.7 L184.5,73.1 L184.5,70.6 L184.5,68.1 L184.4,65.5 L184.3,63.0 L184.2,60.4 L184.2,57.9 L184.1,55.4 L184.0,52.8 L183.9,50.3 L183.9,47.8 L183.9,45.2 L183.9,42.7 L184.0,40.2 L184.1,37.6 L184.3,35.1 L184.5,32.6 L184.5,30.0 L184.5,27.5 L184.5,25.0 L184.5,22.5 L184.5,19.9 L184.5,17.4 L184.5,17.6 L184.5,17.0 L184.5,17.2 L184.5,17.8 L184.5,17.7 L184.5,17.0 L184.5,16.9 M99.3,95.7 L99.4,93.1 L99.4,90.6 L99.4,88.0 L99.5,85.5 L99.5,83.0 L99.6,80.4 L99.6,77.9 L99.7,75.4 L99.8,72.8 L99.8,70.3 L99.9,67.8 L100.0,65.2 L100.1,62.7 L100.2,60.2 L100.3,57.6 L100.4,55.1 L100.5,52.6 L100.6,50.1 L100.7,47.5 L100.8,45.0 L100.9,42.5 L101.0,39.9 L101.1,37.4 L101.3,34.9 M133.3,92.6 L133.3,90.1 L133.3,87.6 L133.4,85.1 L133.4,82.5 L133.4,80.0 L133.5,77.5 L133.5,75.0 L133.5,72.5 L133.5,70.0 L133.6,67.5 L133.6,65.0 L133.5,62.5 L133.5,60.0 L133.5,57.5 L133.4,55.0 L133.3,52.5 L133.2,50.0 L133.1,47.5 L133.0,45.0 L132.9,42.5 L132.8,40.0 L132.7,37.5 L132.6,35.0 L132.5,32.5 L132.4,29.9 L132.3,27.4 L132.2,24.9 L132.2,22.4 L132.1,19.9 M167.1,78.0 L166.7,75.5 L166.4,73.0 L166.3,70.5 L166.4,68.0 L166.5,65.4 L166.7,62.9 L166.7,60.4 L166.6,57.9 L166.3,55.4 L165.8,52.9 L165.3,50.4 L164.8,47.9 L164.4,45.4 L164.2,42.9 L164.3,40.3 L164.5,37.8 L164.9,35.3 L165.2,32.7 L165.4,30.2 L165.4,27.7 L165.3,25.2 L165.0,22.7 L164.6,20.1 L164.2,17.6 M170.9,28.4 L170.9,31.0 L171.0,33.5 L171.1,36.1 L171.3,38.6 L171.5,41.2 L171.6,43.7 L171.6,46.2 L171.6,48.8 L171.5,51.3 L171.4,53.9 L171.3,56.4 L171.2,59.0 L171.2,61.5 L171.3,64.1 L171.5,66.6 L171.7,69.2 L171.9,71.7 L172.1,74.3 L172.2,76.8 L172.3,79.4 L172.3,81.9 L172.2,84.4 L172.1,87.0 L172.1,89.5 L172.1,92.1 L169.5,91.8 L167.0,91.3 L164.4,91.3 L161.9,91.4 L159.4,91.4 L156.8,91.7 L154.3,92.4 L151.8,92.8 M38.9,94.0 L38.9,91.5 L38.9,88.9 L39.0,86.3 L39.1,83.8 L39.2,81.2 L39.3,78.7 L39.4,76.1 L39.6,73.6 L39.8,71.0 L39.9,68.5 L40.1,65.9 L40.3,63.4 L40.5,60.8 L40.7,58.3 L40.9,55.7 L41.0,53.2 L41.1,50.6 L41.2,48.1 L41.3,45.5 L41.3,42.9 L41.3,40.4 L41.3,37.8 L41.2,35.3 L41.1,32.7 L40.9,30.2 L40.8,27.6 L40.6,25.1 L40.4,22.5 L40.2,19.9 L40.0,17.4 L37.3,17.2 L37.0,16.8 L37.0,17.6 L37.0,17.8 L37.0,16.9 L37.0,17.0 M139.4,18.5 L139.1,21.0 L139.0,23.6 L139.0,26.1 L139.0,28.7 L139.0,31.2 L138.9,33.7 L138.7,36.3 L138.5,38.8 L138.3,41.4 L138.1,43.9 L138.2,46.5 L138.3,49.0 L138.6,51.5 L138.9,54.1 L139.1,56.6 L139.3,59.1 L139.4,61.7 L139.5,64.2 L139.5,66.8 L139.7,69.3 L139.9,71.8 L143.0,70.1 L146.5,70.5 M54.6,16.6 L54.6,19.2 L54.8,21.7 L55.0,24.3 L55.2,26.8 L55.4,29.4 L55.6,31.9 L55.8,34.5 L55.8,37.0 L55.8,39.6 L55.7,42.1 L55.5,44.6 L55.4,47.2 L55.2,49.7 L55.1,52.3 L55.0,54.8 L54.9,57.3 L54.9,59.9 L54.9,62.4 L55.0,65.0 L55.0,67.5 L55.0,70.1 L55.0,72.6 L54.9,75.1 L54.7,77.7 L54.4,80.2 L54.1,82.7 L53.7,85.3 L53.4,87.8 L53.0,90.4 L52.8,92.9 L52.5,95.4 L52.4,98.0 L49.6,99.5 L46.4,98.7 M174.8,52.3 L174.8,54.9 L174.8,57.5 L174.8,60.0 L174.7,62.6 L174.6,65.1 L174.6,67.7 L174.5,70.2 L174.4,72.8 L174.3,75.3 L174.2,77.9 L174.1,80.4 L173.9,83.0 L173.7,85.5 L173.4,88.1 L173.1,90.6 L172.7,93.1 L172.2,95.7 L171.7,98.2 L168.9,98.2 L166.0,97.9 L163.2,97.8 L160.4,98.4 L157.6,98.6 L154.9,99.2 L152.1,99.5 M143.8,20.9 L143.6,23.4 L143.6,26.0 L143.6,28.6 L143.6,31.2 L143.5,33.7 L143.3,36.3 L143.0,38.9 L142.5,41.4 L142.1,44.0 L141.7,46.6 L141.3,49.1 L141.1,51.7 L141.1,54.3 L141.3,56.8 L141.5,59.4 L141.8,62.0 L142.1,64.6 L142.3,67.2 L142.4,69.8 L142.3,72.3 L142.2,74.9 L142.0,77.5 M103.5,90.6 L103.6,88.0 L103.8,85.4 L103.9,82.8 L104.0,80.2 L103.9,77.6 L103.8,75.0 L103.5,72.4 L103.3,69.8 L103.2,67.2 L103.2,64.6 L103.3,62.0 L103.3,59.4 L103.3,56.8 L103.3,54.2 L103.0,51.6 L102.7,49.1 L102.4,46.5 L102.2,43.9 M144.3,23.9 L143.7,26.5 L143.1,29.2 L142.8,31.8 L142.7,34.4 L142.9,37.0 L143.1,39.6 L143.4,42.2 L143.4,44.8 L143.3,47.4 L143.2,50.1 L143.4,52.7 L143.8,55.3 L144.4,57.9 M70.8,91.0 L70.8,88.5 L71.0,85.9 L71.2,83.4 L71.4,80.9 L71.3,78.3 L71.0,75.8 L70.5,73.3 L69.9,70.8 L69.4,68.3 L69.2,65.7 L69.2,63.2 L69.6,60.7 L70.0,58.1 L70.3,55.6 L70.5,53.0 L70.4,50.5 L70.1,48.0 L69.7,45.5 L69.4,42.9 L69.3,40.4 L69.4,37.9 L69.9,35.3 L67.4,34.0 L64.8,33.3 L62.1,34.2 M87.4,41.7 L87.3,44.4 L87.6,47.1 L87.9,49.8 L87.8,52.4 L87.2,55.1 L86.4,57.7 L85.8,60.4 L85.7,63.1 L86.1,65.8 L86.7,68.5 L87.1,71.2 L86.9,73.8 L86.3,76.5 L85.8,79.1 M104.9,26.6 L105.5,29.1 L106.2,31.7 L106.7,34.2 L106.8,36.8 L106.5,39.3 L106.1,41.9 L105.8,44.5 L105.9,47.1 L106.4,49.6 L107.1,52.1 L107.6,54.7 L107.6,57.2 L107.3,59.8 L106.8,62.4 L106.5,65.0 L106.7,67.5 L107.2,70.1 L110.0,70.4 L112.7,70.6 L115.5,70.9 L118.3,71.1 L121.0,71.4 L123.8,71.6 M65.4,87.3 L65.4,84.7 L65.3,82.0 L65.3,79.4 L65.3,76.8 L65.2,74.1 L65.2,71.5 L65.2,68.8 L65.2,66.2 L65.3,63.6 L65.3,60.9 L65.4,58.3 L65.4,55.7 L65.5,53.0 L65.6,50.4 L65.7,47.7 L65.8,45.1 M92.1,44.7 L91.8,47.2 L91.5,49.8 L91.3,52.3 L91.1,54.9 L91.0,57.5 L91.0,60.0 L90.9,62.6 L90.9,65.2 L90.9,67.8 L90.8,70.3 L90.7,72.9 L90.6,75.5 L90.4,78.0 L90.2,80.6 L90.0,83.1 L92.8,83.3 L95.5,82.5 L98.3,81.9 L101.1,81.7 L103.8,82.1 L106.6,82.8 L109.3,83.5 L112.1,83.9 L114.8,83.8 M103.5,91.6 L103.4,89.1 L103.2,86.6 L103.0,84.0 L102.8,81.5 L102.6,79.0 L102.4,76.5 L102.3,74.0 L102.3,71.5 L102.3,68.9 L102.4,66.4 L102.6,63.9 L102.8,61.4 L103.1,58.9 L103.4,56.4 L103.7,53.9 L104.0,51.4 L104.4,48.9 L104.7,46.4 L104.9,43.9 L105.1,41.4 L105.3,38.9 L105.4,36.4 L105.5,33.9 L105.5,31.4 L105.4,28.8 L108.5,30.1 L111.6,29.3 L114.7,30.2 L117.8,28.2 M173.0,86.2 L172.6,83.7 L172.2,81.1 L171.8,78.6 L171.5,76.1 L171.3,73.6 L171.1,71.0 L171.1,68.5 L171.1,66.0 L171.1,63.4 L171.2,60.9 L171.3,58.4 L171.4,55.8 L171.5,53.3 L171.6,50.8 L171.7,48.2 L171.6,45.7 L171.6,43.2 L171.5,40.6 L171.3,38.1 L171.2,35.6 L171.0,33.0 L170.8,30.5 L170.7,28.0 L170.6,25.4 L170.6,22.9 L170.6,20.4 L170.7,17.8 M92.0,88.9 L92.6,86.3 L93.2,83.6 L93.7,81.0 L94.0,78.4 L94.2,75.8 L94.2,73.1 L94.2,70.5 L94.1,67.8 L93.9,65.1 L93.9,62.5 L93.8,59.8 L93.9,57.2 L94.0,54.5 L94.2,51.9 L94.4,49.3 L94.6,46.6 L94.8,44.0 M75.1,34.4 L75.3,37.0 L75.6,39.5 L75.8,42.1 L76.0,44.6 L76.1,47.2 L76.2,49.8 L76.2,52.3 L76.2,54.9 L76.1,57.4 L76.0,60.0 L76.0,62.5 L75.9,65.1 L75.8,67.6 L75.8,70.2 L75.8,72.7 L75.8,75.3 L75.8,77.9 L75.8,80.4 L75.7,83.0 L75.7,85.5 L75.6,88.1 L75.4,90.6 L75.3,93.2 M123.8,89.8 L123.8,87.3 L123.9,84.8 L123.9,82.3 L123.9,79.8 L123.8,77.3 L123.7,74.8 L123.6,72.3 L123.4,69.8 L123.3,67.3 L123.1,64.8 L123.1,62.3 L123.0,59.7 L123.1,57.2 L123.1,54.7 L123.2,52.2 L123.3,49.7 L123.4,47.2 L123.4,44.7 L123.4,42.2 L123.3,39.7 L123.3,37.2 L123.2,34.7 M171.6,19.0 L171.6,21.5 L171.6,24.0 L171.7,26.5 L172.0,29.0 L172.3,31.5 L172.6,34.0 L173.0,36.5 L173.3,39.0 L173.6,41.5 L173.9,44.0 L174.0,46.5 L174.1,49.0 L174.0,51.5 L173.9,54.0 L173.7,56.6 L173.5,59.1 L173.4,61.6 L173.3,64.1 L173.3,66.6 L173.4,69.1 L173.5,71.6 L173.7,74.1 L174.0,76.6 L174.2,79.1 L174.3,81.6 L174.4,84.1 L174.4,86.6 L174.3,89.1 L174.1,91.6 L173.9,94.1 L173.6,96.6 L176.1,97.2 L178.6,97.8 L181.0,98.4 L183.5,98.9 L184.5,99.2 L184.5,99.1 L184.5,98.7 L184.5,98.3 M180.8,73.6 L180.7,71.1 L180.5,68.5 L180.2,65.9 L179.8,63.3 L179.5,60.7 L179.3,58.1 L179.3,55.5 L179.3,52.9 L179.5,50.3 L179.7,47.7 L179.8,45.1 L179.9,42.5 L179.8,39.9 L179.7,37.4 L179.5,34.8 L179.3,32.2 L179.1,29.6 L179.1,27.0 L179.3,24.4 M102.1,74.8 L101.8,72.3 L101.5,69.8 L101.2,67.2 L100.9,64.7 L100.7,62.2 L100.6,59.6 L100.5,57.1 L100.5,54.5 L100.5,52.0 L100.5,49.4 L100.3,46.9 L100.1,44.3 L99.7,41.8 L99.3,39.3 L98.9,36.8 L98.6,34.2 L101.4,34.0 L104.4,35.7 L107.1,34.2 L109.9,33.8 L112.7,33.2 M68.1,80.9 L68.6,78.3 L68.7,75.7 L68.5,73.1 L68.0,70.6 L67.3,68.0 L66.6,65.4 L66.4,62.8 L66.5,60.2 L66.9,57.6 L67.4,55.0 L67.7,52.4 L67.6,49.8 L67.2,47.3 L66.5,44.7 L66.0,42.1 L65.7,39.5 L65.8,36.9 L66.2,34.3 L66.8,31.7 L67.2,29.1 L67.3,26.5 L66.9,23.9 L64.3,23.4 L61.7,22.4 L59.0,21.8 L56.1,22.2 M155.8,71.3 L156.3,68.8 L156.8,66.3 L156.9,63.8 L156.8,61.3 L156.5,58.7 L156.3,56.2 L156.2,53.7 L156.5,51.2 L157.0,48.7 L157.5,46.2 L157.8,43.7 L157.8,41.2 L157.5,38.7 L157.2,36.1 L157.0,33.6 L157.2,31.1 L157.6,28.6 L158.1,26.1 L158.5,23.6 L158.6,21.1 L155.8,21.3 L153.0,21.1 L150.4,22.1 L147.6,22.2 L144.8,21.8 L142.2,22.7 M159.5,20.5 L159.6,23.0 L159.7,25.5 L159.7,28.0 L159.7,30.5 L159.7,33.0 L159.7,35.5 L159.7,38.0 L159.6,40.5 L159.6,43.0 L159.5,45.5 L159.4,48.0 L159.3,50.5 L159.2,53.0 L159.2,55.5 L159.1,58.0 L159.1,60.5 L159.0,63.0 L159.0,65.5 L158.9,68.0 L158.9,70.5 L158.9,73.0 L158.8,75.5 L158.8,78.0 L158.7,80.5 L158.6,83.0 L158.5,85.5 L158.3,88.0 L158.1,90.5 L157.9,93.0 L157.7,95.5 L157.5,98.0 L159.8,99.5 L162.7,99.4 M131.6,97.0 L131.5,94.5 L131.4,92.0 L131.2,89.5 L131.1,87.0 L130.9,84.5 L130.8,82.0 L130.7,79.5 L130.6,76.9 L130.6,74.4 L130.6,71.9 L130.7,69.4 L130.7,66.9 L130.9,64.4 L131.0,61.9 L131.1,59.4 L131.2,56.9 L131.3,54.4 L131.4,51.9 L131.4,49.3 L131.4,46.8 L131.4,44.3 L131.4,41.8 L131.4,39.3 L131.5,36.8 L131.5,34.3 L131.7,31.8 L131.8,29.3 L132.0,26.8 L132.2,24.3 L132.5,21.8 L132.8,19.3 L133.0,16.7 M42.0,25.0 L41.6,27.5 L41.3,30.1 L41.0,32.6 L40.9,35.1 L40.9,37.6 L40.9,40.2 L41.1,42.7 L41.3,45.2 L41.4,47.7 L41.5,50.3 L41.6,52.8 L41.6,55.3 L41.5,57.8 L41.3,60.4 L41.0,62.9 L40.8,65.4 L40.5,67.9 L40.2,70.5 L40.1,73.0 L40.0,75.5 L40.1,78.0 L40.2,80.6 L40.5,83.1 L40.9,85.6 L41.3,88.1 L41.7,90.7 L42.1,93.2 L44.7,93.8 L47.4,94.4 L50.1,94.7 L52.8,94.8 L55.5,94.8 L58.2,94.8 L60.9,94.7 L63.7,94.4 M52.6,92.1 L52.4,89.5 L52.3,86.9 L52.3,84.3 L52.3,81.8 L52.5,79.2 L52.6,76.6 L52.8,74.0 L52.9,71.4 L53.0,68.9 L53.0,66.3 L52.9,63.7 L52.8,61.1 L52.6,58.5 L52.5,56.0 L52.4,53.4 L52.5,50.8 L52.6,48.2 L52.8,45.6 L53.1,43.1 L53.5,40.5 L53.8,37.9 L54.2,35.4 L54.4,32.8 L54.6,30.2 L54.7,27.6 L54.7,25.1 L54.7,22.5 L51.9,21.5 L49.3,20.0 L46.4,20.3 L43.4,20.6 M130.4,79.2 L130.3,76.6 L130.3,74.1 L130.3,71.5 L130.4,68.9 L130.4,66.4 L130.3,63.8 L130.2,61.3 L129.9,58.7 L129.5,56.2 L129.2,53.6 L128.9,51.0 L128.7,48.5 L128.7,45.9 L128.8,43.4 L129.1,40.8 L129.4,38.2 L129.7,35.7 L130.0,33.1 L130.2,30.5 L130.3,28.0 L130.3,25.4 L130.1,22.9 L127.6,22.3 L125.0,23.2 L122.5,22.8 L120.1,21.7 L117.5,22.3 L114.9,22.5 L112.5,21.3 L109.9,20.9 M58.6,94.1 L59.0,91.5 L59.3,89.0 L59.7,86.4 L59.9,83.8 L60.0,81.3 L60.2,78.7 L60.2,76.1 L60.3,73.6 L60.5,71.0 L60.6,68.4 L60.9,65.9 L61.1,63.3 L61.2,60.7 L61.3,58.1 L61.3,55.6 L61.2,53.0 L61.1,50.4 L61.0,47.8 L60.9,45.3 L60.8,42.7 L60.8,40.1 L60.8,37.5 L60.9,35.0 L60.9,32.4 L58.3,32.5 L55.7,33.3 L53.2,33.9 L50.5,33.2 L47.9,33.5 M181.7,25.4 L181.9,27.9 L182.1,30.4 L182.3,33.0 L182.5,35.5 L182.8,38.0 L183.0,40.5 L183.2,43.0 L183.3,45.6 L183.5,48.1 L183.7,50.6 L183.8,53.1 L183.9,55.7 L184.0,58.2 L184.1,60.7 L184.1,63.2 L184.2,65.8 L184.2,68.3 L184.3,70.8 L184.3,73.4 L184.3,75.9 L184.3,78.4 L184.3,80.9 L184.2,83.5 L184.2,86.0 L184.1,88.5 L184.0,91.1 L183.9,93.6 L183.9,96.1 L183.8,98.7 L181.1,97.7 L178.4,98.9 L175.7,98.3 L173.1,97.5 L170.3,98.8 M40.4,58.0 L40.1,60.6 L39.8,63.1 L39.8,65.6 L40.3,68.1 L40.9,70.6 L41.2,73.1 L41.1,75.6 L40.8,78.2 L40.6,80.7 L40.9,83.2 L41.5,85.7 L42.2,88.2 L42.5,90.7 L42.5,93.2 L42.2,95.7 L42.2,98.2 L44.7,98.6 L47.2,99.1 L49.7,99.5 L52.3,99.5 L54.9,99.5 L57.4,99.5 L60.0,99.5 M51.6,56.4 L51.1,53.8 L50.7,51.2 L50.4,48.6 L50.2,46.0 L50.0,43.3 L49.8,40.7 L49.6,38.1 L49.5,35.5 L49.3,32.9 L49.1,30.2 L49.0,27.6 L48.9,25.0 L48.8,22.4 L48.8,19.7 L48.8,17.1 M172.9,16.9 L173.0,19.4 L173.1,22.0 L173.1,24.5 L173.2,27.0 L173.3,29.5 L173.4,32.0 L173.5,34.5 L173.7,37.1 L173.8,39.6 L173.9,42.1 L174.0,44.6 L174.0,47.1 L174.1,49.7 L174.2,52.2 L174.3,54.7 L174.4,57.2 L174.4,59.7 L174.5,62.3 L174.6,64.8 L174.7,67.3 L174.8,69.8 L174.8,72.3 L174.9,74.8 L175.0,77.4 L175.1,79.9 L175.1,82.4 L175.2,84.9 L175.2,87.4 L175.3,90.0 L175.4,92.5 L175.4,95.0 L172.8,95.7 L170.2,96.2 L167.6,96.1 L164.9,96.0 M93.9,24.7 L93.7,27.3 L93.5,29.8 L93.3,32.3 L93.3,34.8 L93.3,37.3 L93.5,39.9 L93.6,42.4 L93.8,44.9 L94.0,47.4 L94.1,50.0 L94.1,52.5 L94.1,55.0 L93.9,57.5 L93.7,60.1 L93.5,62.6 L93.2,65.1 L92.9,67.6 L92.7,70.1 L92.6,72.6 L92.5,75.2 L92.5,77.7 L92.7,80.2 L92.8,82.7 L93.0,85.3 L95.6,84.5 L98.2,83.7 L100.9,84.4 L103.6,83.7 L106.1,82.8 L108.9,83.6 M110.0,99.1 L109.6,96.4 L109.0,93.8 L108.6,91.1 L108.4,88.5 L108.5,85.8 L108.8,83.2 L109.2,80.6 L109.7,78.0 L110.0,75.4 L110.1,72.7 L110.0,70.1 L109.8,67.4 L109.5,64.8 L109.4,62.2 L109.6,59.5 L109.9,56.9 L110.6,54.3 L111.3,51.7 L113.8,52.0 L116.4,52.2 L119.0,52.1 L121.5,51.6 L124.0,51.1 M175.1,89.9 L175.0,87.3 L174.8,84.7 L174.6,82.2 L174.5,79.6 L174.3,77.0 L174.2,74.5 L174.1,71.9 L174.0,69.3 L174.0,66.7 L174.0,64.2 L174.0,61.6 L174.0,59.0 L174.1,56.4 L174.1,53.9 L174.1,51.3 L174.0,48.7 L173.9,46.2 L173.7,43.6 L173.5,41.0 L173.3,38.5 L173.0,35.9 M173.1,16.6 L173.1,19.1 L173.1,21.6 L173.1,24.1 L173.0,26.6 L173.0,29.1 L172.9,31.6 L172.8,34.1 L172.8,36.6 L172.7,39.1 L172.7,41.6 L172.6,44.2 L172.6,46.7 L172.6,49.2 L172.6,51.7 L172.6,54.2 L172.7,56.7 L172.7,59.2 L172.8,61.7 L172.9,64.2 L173.0,66.7 L173.1,69.2 L173.1,71.7 L173.2,74.3 L173.3,76.8 L173.3,79.3 L173.4,81.8 L173.4,84.3 L173.4,86.8 L173.4,89.3 L173.5,91.8 L173.5,94.3 L173.6,96.8 L173.6,99.3 L176.0,99.5 L178.5,99.5 L181.0,99.5 M126.6,82.6 L126.7,80.0 L126.7,77.4 L126.7,74.8 L126.6,72.2 L126.5,69.5 L126.4,66.9 L126.4,64.3 L126.3,61.7 L126.4,59.1 L126.5,56.5 L126.6,53.9 L126.8,51.3 L127.0,48.7 L127.2,46.1 L127.3,43.5 L127.5,40.9 L127.6,38.3 L127.6,35.7 L127.7,33.1 L127.8,30.5 L130.4,30.2 L133.0,30.0 L135.5,29.8 L138.1,29.6 L140.7,29.6 L143.3,29.7 L145.9,29.9 L148.5,30.0 M166.1,48.2 L163.5,48.0 L160.9,47.7 L158.2,47.7 L155.6,48.0 L153.0,48.5 L150.5,48.9 L147.8,49.0 L145.2,48.8 L142.6,48.6 L140.0,48.7 L137.4,49.1 L134.8,49.7 L132.2,50.2 L129.6,50.3 L127.0,50.2 L124.3,50.0 L121.7,50.2 M68.5,96.1 L71.3,96.1 L74.0,95.7 L76.7,95.2 L79.5,95.1 L82.2,95.4 L84.9,95.5 L87.7,95.2 L90.4,94.6 L93.1,94.3 M139.4,77.2 L136.9,77.5 L134.4,77.8 L131.8,77.9 L129.3,77.9 L126.8,77.9 L124.2,77.8 L121.7,77.6 L119.1,77.3 L116.6,77.1 L114.1,76.9 L111.5,76.7 L109.0,76.6 L106.5,76.7 L103.9,76.8 L101.4,77.0 L98.9,77.3 L96.3,77.6 L93.8,77.9 L91.3,78.2 L88.7,78.5 L86.2,78.6 L83.7,78.7 L81.1,78.7 L78.6,78.6 L76.1,78.4 L77.0,75.9 L77.8,73.5 L78.2,71.0 L78.3,68.5 L78.0,65.9 L77.6,63.4 M86.0,98.4 L88.5,98.5 L91.0,98.8 L93.5,99.0 L96.0,99.2 L98.5,99.2 L101.0,99.0 L103.5,98.6 L106.0,98.1 L108.5,97.6 L111.0,97.1 L113.5,96.8 L116.0,96.7 L118.5,96.9 L121.0,97.2 L123.5,97.5 L126.1,97.9 L128.6,98.1 L131.1,98.1 L133.6,97.9 L136.1,97.6 L138.5,97.1 L141.0,96.7 L140.9,99.3 L141.0,99.5 L140.8,99.5 L140.3,99.5 L139.9,99.5 L139.9,99.5 L140.6,99.5 L141.8,99.5 L142.9,99.5 M146.7,40.4 L144.2,40.4 L141.6,40.4 L139.1,40.4 L136.5,40.3 L134.0,40.2 L131.5,40.0 L128.9,39.8 L126.4,39.6 L123.8,39.5 L121.3,39.3 L118.8,39.3 L116.2,39.3 L113.7,39.3 L111.1,39.3 L108.6,39.3 L106.0,39.3 L103.5,39.2 L101.0,39.0 L98.4,38.9 L95.9,38.8 L93.3,38.7 L90.8,38.7 L88.3,38.7 L85.7,38.7 L83.2,38.8 L80.6,38.9 L78.1,38.9 L75.5,38.8 M166.2,19.7 L163.7,20.1 L161.1,20.5 L158.6,20.9 L156.0,21.2 L153.4,21.5 L150.9,21.7 L148.3,21.8 L145.8,21.8 L143.2,21.7 L140.6,21.7 L138.1,21.7 L135.5,21.7 L132.9,21.8 L130.4,22.0 L127.8,22.1 L125.2,22.3 L122.7,22.3 L120.1,22.3 L117.5,22.1 L115.0,21.9 L112.4,21.6 L109.8,21.3 L107.2,21.0 L104.7,20.8 M149.8,33.2 L147.2,33.5 L144.6,33.7 L142.1,33.8 L139.5,33.7 L136.9,33.6 L134.3,33.3 L131.7,33.0 L129.1,32.7 L126.5,32.5 L123.9,32.3 L121.3,32.2 L118.8,32.3 L116.2,32.4 L113.6,32.7 L111.0,33.1 L108.4,33.4 L105.8,33.8 L103.2,34.1 L100.7,34.2 L98.1,34.3 L95.5,34.2 L92.9,34.1 L90.3,33.8 L87.7,33.5 L85.1,33.2 L82.5,33.0 L79.9,32.9 L78.5,30.3 L77.1,27.8 L78.8,24.6 M68.6,51.8 L71.2,51.7 L73.7,51.7 L76.2,51.7 L78.8,51.6 L81.3,51.6 L83.8,51.6 L86.4,51.6 L88.9,51.7 L91.4,51.7 L94.0,51.7 L96.5,51.8 L99.0,51.8 L101.6,51.8 L104.1,51.8 L106.6,51.8 L109.2,51.9 L111.7,51.9 L114.3,51.9 L116.8,51.9 L119.3,51.9 L121.9,51.8 L124.4,51.8 L126.9,51.8 L129.5,51.8 L132.0,51.7 L134.5,51.7 L137.1,51.7 L139.6,51.7 L142.1,51.7 L144.7,51.7 L147.2,51.7 L149.7,51.7 L152.3,51.7 L154.8,51.8 L157.3,51.9 L159.9,52.0 L162.4,52.1 L164.9,52.2 L167.5,52.3 M152.2,88.1 L149.7,88.1 L147.1,88.1 L144.6,88.1 L142.1,88.0 L139.6,88.0 L137.1,88.1 L134.6,88.1 L132.1,88.2 L129.6,88.4 L127.1,88.6 L124.5,88.8 L122.0,89.0 L119.5,89.2 L117.0,89.4 L114.5,89.6 L112.0,89.8 L109.5,89.9 L107.0,90.0 L104.5,90.0 L102.0,90.0 L99.4,89.9 L96.9,89.8 L94.4,89.7 L91.9,89.5 L89.4,89.4 L86.9,89.3 L84.4,89.2 L81.9,89.1 L79.4,89.1 L76.8,89.1 L74.3,89.2 L71.8,89.3 L69.3,89.3 L66.8,89.4 L64.3,89.5 L61.8,89.6 L59.3,89.6 L56.8,89.6 L54.2,89.6 L51.7,89.5 L49.2,89.3 L46.7,89.1 L44.2,88.9 L41.7,88.7 L39.2,88.4 L37.0,85.7 L38.9,82.2 M51.3,91.9 L53.8,92.0 L56.3,92.0 L58.8,91.9 L61.3,91.8 L63.9,91.7 L66.4,91.6 L68.9,91.5 L71.4,91.4 L73.9,91.2 L76.4,91.2 L78.9,91.1 L81.4,91.1 L84.0,91.2 L86.5,91.3 L89.0,91.4 L91.5,91.6 L94.0,91.9 L96.5,92.1 L99.0,92.4 L101.5,92.7 L104.0,92.9 L106.5,93.1 L109.0,93.3 L111.5,93.5 L114.0,93.6 L116.5,93.7 L119.0,93.7 L121.5,93.7 L124.1,93.6 L126.6,93.5 L129.1,93.4 L131.6,93.3 L134.1,93.1 L136.6,93.0 L139.1,92.9 L141.7,92.9 L144.2,92.9 L146.7,92.9 L149.2,93.0 L151.7,93.2 M172.6,35.3 L170.0,35.4 L167.4,35.3 L164.8,35.3 L162.2,35.3 L159.6,35.3 L157.0,35.4 L154.4,35.6 L151.9,35.9 L149.3,36.2 L146.7,36.5 L144.1,36.8 L141.5,37.1 L139.0,37.2 L136.4,37.3 L133.8,37.3 L131.2,37.1 L128.6,36.9 L126.0,36.7 L123.4,36.4 L120.8,36.2 M45.2,40.1 L47.7,39.8 L50.3,39.7 L52.8,39.8 L55.3,40.0 L57.9,40.4 L60.4,40.7 L62.9,40.9 L65.5,41.0 L68.0,40.9 L70.5,40.7 L73.1,40.4 L75.6,40.0 L78.1,39.6 L80.7,39.3 L83.2,39.2 L85.7,39.3 L88.3,39.5 L90.8,39.8 L93.3,40.1 L95.9,40.4 L98.4,40.6 L100.9,40.7 L103.5,40.6 L106.0,40.3 L108.5,40.0 L111.0,39.6 L113.6,39.3 L116.1,39.2 L118.6,39.2 L121.2,39.3 L120.8,36.0 L120.7,32.8 L120.9,29.4 M95.6,83.3 L93.1,83.2 L90.5,83.1 L88.0,83.0 L85.5,82.8 L83.0,82.7 L80.5,82.6 L78.0,82.5 L75.4,82.5 L72.9,82.6 L70.4,82.7 L67.9,82.8 L65.4,82.8 L62.9,82.8 L60.3,82.9 L57.8,83.0 L55.3,83.2 L52.8,83.4 L50.3,83.7 L49.5,80.5 L50.7,77.5 L50.8,74.4 L50.5,71.3 M127.8,58.8 L125.2,59.3 L122.7,59.5 L120.1,59.5 L117.5,59.4 L114.9,59.1 L112.3,58.9 L109.7,58.9 L107.1,59.0 L104.6,59.4 L102.0,59.8 L99.4,60.2 L96.8,60.5 L94.3,60.5 L91.7,60.3 L89.1,59.9 L86.5,59.5 L83.9,59.1 L84.1,56.2 L83.8,53.3 L84.2,50.4 L83.3,47.6 L83.0,44.8 L82.6,41.9 M38.5,77.2 L41.0,77.0 L43.5,76.9 L46.0,76.8 L48.5,76.7 L51.0,76.7 L53.6,76.6 L56.1,76.6 L58.6,76.5 L61.1,76.5 L63.6,76.3 L66.1,76.2 L68.6,76.0 L71.1,75.7 L73.6,75.5 L76.1,75.3 L78.6,75.0 L81.2,74.9 L83.7,74.8 L86.2,74.7 L88.7,74.7 L91.2,74.7 L93.7,74.8 L96.2,74.9 L98.8,75.0 L101.3,75.2 L103.8,75.2 L106.3,75.3 L108.8,75.3 L111.3,75.3 L113.8,75.2 L116.3,75.1 L118.9,75.1 L121.4,75.0 L123.9,74.9 L126.4,74.9 L128.9,74.9 L131.4,75.0 L133.9,75.2 L134.9,71.9 L133.5,69.2 L132.4,66.4 M70.7,76.3 L73.3,75.6 L75.8,75.2 L78.4,75.5 L80.9,76.0 L83.5,76.1 L86.0,75.7 L88.6,75.0 L91.1,74.8 L93.7,75.1 L96.2,75.7 L98.8,76.1 L101.3,75.9 M155.2,88.0 L152.7,87.8 L150.1,87.7 L147.6,87.5 L145.0,87.4 L142.5,87.4 L139.9,87.5 L137.4,87.6 L134.8,87.7 L132.3,87.9 L129.8,88.1 L127.2,88.4 L124.7,88.6 L122.1,88.7 L119.6,88.9 L117.1,89.0 L114.5,89.0 L112.0,88.9 L109.4,88.9 L106.9,88.7 L104.3,88.6 L101.8,88.4 L99.2,88.2 L96.7,88.1 L94.1,88.0 L91.6,87.9 L89.0,87.9 L86.5,88.0 L84.0,88.1 L81.4,88.3 L78.9,88.6 L76.3,88.8 L73.8,89.1 L71.3,89.4 L68.7,89.6 L66.2,89.8 L63.6,90.0 L61.1,90.1 L58.5,90.1 L56.0,90.1 L53.5,90.0 L50.9,89.9 L48.4,89.8 L45.8,89.7 L43.3,89.6 L43.5,92.1 L42.6,94.6 L42.3,97.1 L42.9,99.5 L43.1,99.5 L42.4,99.5 L42.0,99.5 L42.6,99.5 L43.2,99.5 L42.7,99.5 M129.7,77.7 L127.2,77.6 L124.7,77.6 L122.2,77.6 L119.7,77.5 L117.2,77.5 L114.7,77.4 L112.2,77.4 L109.6,77.3 L107.1,77.3 L104.6,77.2 L102.1,77.2 L99.6,77.2 L97.1,77.2 L94.6,77.1 L92.1,77.1 L89.5,77.1 L87.0,77.1 L84.5,77.1 L82.0,77.1 L79.5,77.1 L77.0,77.1 L74.5,77.1 L71.9,77.1 L69.4,77.0 L66.9,77.0 L64.4,76.9 L61.9,76.9 L59.4,76.8 L56.9,76.7 L54.4,76.5 L51.9,76.4 L49.3,76.3 L46.8,76.1 L44.3,75.9 L41.8,75.7 L39.3,75.5 L39.0,73.0 L38.7,70.4 L38.6,67.9 L38.7,65.4 L38.8,62.8 L39.2,60.3 L39.6,57.8 M180.0,72.6 L177.4,72.4 L174.8,72.1 L172.2,71.9 L169.7,71.6 L167.1,71.5 L164.5,71.4 L161.9,71.5 L159.4,71.7 L156.8,71.9 L154.2,72.2 L151.6,72.6 L149.1,72.8 L146.5,73.0 L143.9,73.1 L141.3,73.1 L138.8,73.0 L136.2,72.8 L133.6,72.6 L131.0,72.4 L128.4,72.3 L125.9,72.2 L123.3,72.2 L120.7,72.4 L118.1,72.6 L115.6,72.9 L113.0,73.3 L110.4,73.7 L107.9,74.0 L105.3,74.3 L102.7,74.4 M126.6,97.0 L124.1,97.3 L121.5,97.7 L119.0,98.1 L116.4,98.4 L113.8,98.5 L111.2,98.6 L108.7,98.6 L106.1,98.4 L103.5,98.2 L100.9,98.0 L98.4,97.8 L95.8,97.7 L93.2,97.7 L90.7,97.8 L88.1,97.9 L85.5,98.2 L82.9,98.5 L80.4,98.9 L77.8,99.2 L75.2,99.4 L72.7,99.5 L70.1,99.5 L67.5,99.5 L65.0,99.3 L62.4,99.0 L59.8,98.8 L57.2,98.5 L54.7,98.3 L52.1,98.2 L49.5,98.3 L46.9,98.4 L44.4,98.6 L41.8,98.9 L39.2,99.2 M135.2,67.6 L132.7,67.6 L130.1,67.7 L127.6,67.9 L125.1,68.3 L122.5,68.7 L120.0,69.0 L117.4,69.1 L114.9,69.1 L112.3,69.0 L109.8,69.1 L107.2,69.2 L104.7,69.5 L102.2,69.9 L99.6,70.1 L97.1,70.3 L94.5,70.3 L91.9,70.2 M159.7,68.4 L157.2,68.5 L154.7,68.5 L152.1,68.6 L149.6,68.6 L147.1,68.6 L144.5,68.5 L142.0,68.4 L139.5,68.3 L136.9,68.2 L134.4,68.0 L131.9,67.9 L129.3,67.8 L126.8,67.6 L124.3,67.6 L121.7,67.5 L119.2,67.5 L116.7,67.6 L114.1,67.7 L111.6,67.9 L109.1,68.1 L106.5,68.3 L104.0,68.6 L101.5,68.9 L99.0,69.2 L96.4,69.4 L93.9,69.6 L91.4,69.8 L88.8,70.0 M125.3,84.9 L122.7,85.1 L120.2,85.4 L117.7,85.6 L115.2,85.9 L112.7,86.0 L110.1,86.2 L107.6,86.3 L105.1,86.4 L102.6,86.5 L100.0,86.5 L97.5,86.5 L95.0,86.5 L92.5,86.5 L89.9,86.4 L87.4,86.4 L84.9,86.4 L82.4,86.3 L79.8,86.3 L77.3,86.3 L74.8,86.4 L72.3,86.4 L69.7,86.5 L67.2,86.6 L64.7,86.7 L62.2,86.8 L59.6,86.9 L57.1,87.0 L54.6,87.0 L52.1,87.1 L49.5,87.1 L48.3,90.4 L48.1,93.9 M44.9,16.8 L47.4,16.7 L49.9,16.5 L52.5,16.5 L55.0,16.5 L57.5,16.5 L60.0,16.5 L62.6,16.5 L65.1,16.5 L67.6,16.5 L70.1,16.5 L72.7,16.5 L75.2,16.6 L77.7,16.6 L80.2,16.7 L82.8,16.8 L85.3,16.8 L87.8,16.8 L90.3,16.9 L92.9,16.9 L95.4,16.9 L97.9,16.9 L100.5,16.9 L103.0,16.8 L105.5,16.8 L108.0,16.8 L110.6,16.9 L113.1,16.9 L115.6,17.0 L118.1,17.0 L120.7,17.2 L123.2,17.3 L125.7,17.5 L128.2,17.6 L130.8,17.8 L133.3,18.1 M116.7,26.6 L119.2,26.5 L121.7,26.4 L124.2,26.3 L126.7,26.2 L129.3,26.2 L131.8,26.2 L134.3,26.2 L136.8,26.3 L139.3,26.4 L141.9,26.6 L144.4,26.7 L146.9,26.9 L149.4,27.0 L151.9,27.0 L154.5,27.0 L157.0,26.9 L159.5,26.7 L162.0,26.4 L164.5,26.1 L167.0,25.7 L169.5,25.2 L172.0,24.8 L174.5,24.4 L177.0,24.0 L179.5,23.6 M40.4,17.6 L43.0,17.3 L45.5,17.1 L48.0,16.8 L50.6,16.6 L53.1,16.5 L55.7,16.5 L58.2,16.5 L60.8,16.5 L63.3,16.5 L65.9,16.5 L68.4,16.5 L71.0,16.5 L73.5,16.5 L76.1,16.5 L78.6,16.5 L81.2,16.5 L83.7,16.5 L86.3,16.5 L88.8,16.5 L91.4,16.5 L93.9,16.5 L96.4,16.5 L99.0,16.5 L101.5,16.5 L104.1,16.5 L106.6,16.5 L109.2,16.5 L110.3,19.3 L109.0,22.0 L110.1,24.8 L109.9,27.6 L107.8,30.1 L108.5,32.9 M92.5,23.4 L95.0,23.3 L97.5,23.2 L100.1,23.2 L102.6,23.1 L105.1,23.1 L107.6,23.1 L110.2,23.0 L112.7,23.0 L115.2,23.0 L117.7,22.9 L120.3,22.8 L122.8,22.8 L125.3,22.7 L127.8,22.6 L130.4,22.5 L132.9,22.4 L135.4,22.3 L137.9,22.2 L140.5,22.1 L143.0,22.0 L145.5,21.9 L148.0,21.9 L150.6,21.8 L153.1,21.8 L155.6,21.8 L158.1,21.7 L160.7,21.7 L163.2,21.7 L165.7,21.7 L168.2,21.6 L170.8,21.6 L173.3,21.5 L175.8,21.4 L178.3,21.3 L180.9,21.2 L183.4,21.1 L182.8,23.7 L182.7,26.3 L182.7,28.9 L182.5,31.5 L182.4,34.1 L182.4,36.7 L182.7,39.3 L183.3,41.9 L184.1,44.5 M132.0,27.8 L134.8,27.7 L137.5,27.3 L140.3,26.6 L143.0,26.4 L145.8,26.6 L148.5,26.5 L151.3,26.2 L154.0,26.6 L156.8,27.0 L157.2,29.6 L158.0,32.2 L158.1,34.8 L157.6,37.4 L157.3,40.0 L157.7,42.5 L158.3,45.1 L158.3,47.7 M63.8,47.0 L66.4,46.8 L68.9,46.6 L71.5,46.4 L74.1,46.2 L76.7,46.1 L79.3,46.0 L81.9,45.9 L84.4,45.7 L87.0,45.6 L89.6,45.4 L92.2,45.2 L94.8,45.1 L97.4,44.9 L99.9,44.8 L102.5,44.8 L105.1,44.8 L107.7,44.8 L110.3,44.8 L112.9,44.9 L115.5,45.0 L118.1,45.0 L120.6,45.1 L123.2,45.1 L125.8,45.1 L128.4,45.1 L131.0,45.2 L133.6,45.2 L136.2,45.3 L138.7,45.4 M166.9,91.6 L164.4,91.5 L161.9,91.5 L159.4,91.5 L156.9,91.5 L154.4,91.5 L151.9,91.5 L149.4,91.5 L146.9,91.5 L144.4,91.6 L141.9,91.6 L139.4,91.6 L136.8,91.6 L134.3,91.6 L131.8,91.6 L129.3,91.6 L126.8,91.6 L124.3,91.5 L121.8,91.5 L119.3,91.4 L116.8,91.3 L114.3,91.2 L111.8,91.2 L109.3,91.1 L106.8,91.0 L104.3,90.9 L101.8,90.9 L99.3,90.8 L96.8,90.8 L94.3,90.8 L91.8,90.7 L89.3,90.7 L86.7,90.7 L84.2,90.6 L81.7,90.6 L79.2,90.5 L76.7,90.5 L74.2,90.4 L71.7,90.3 L69.2,90.2 L66.7,90.1 L64.2,90.0 L61.7,89.9 L59.2,89.7 L56.7,89.6 L54.2,89.5 L54.6,92.3 L54.9,95.2 L54.6,98.0 L53.6,99.5 L52.7,99.5 M75.3,16.7 L77.8,16.6 L80.3,16.5 L82.8,16.5 L85.3,16.5 L87.8,16.5 L90.3,16.5 L92.8,16.5 L95.3,16.5 L97.8,16.5 L100.3,16.5 L102.8,16.5 L105.4,16.5 L107.9,16.5 L110.4,16.5 L112.9,16.5 L115.4,16.5 L117.9,16.5 L120.4,16.5 L122.9,16.5 L125.4,16.5 L127.9,16.5 L130.4,16.5 L132.9,16.5 L135.4,16.5 L137.9,16.5 L140.4,16.5 L142.9,16.5 L145.4,16.5 L148.0,16.5 L150.5,16.5 L153.0,16.5 L155.5,16.5 L158.0,16.5 L160.5,16.5 L163.0,16.5 L165.5,16.5 L168.0,16.5 L170.5,16.5 L173.0,16.5 L175.5,16.5 L178.0,16.5 L178.1,16.5 L177.4,16.5 L178.2,16.5 L178.9,16.5 L179.3,16.5 M86.9,45.9 L84.4,45.0 L81.8,44.2 L79.3,43.9 L76.7,44.2 L74.2,44.7 L71.6,44.7 L69.1,44.2 L66.5,43.4 L64.0,43.1 L61.4,43.5 L58.8,44.3 L56.3,44.9 L53.7,45.0 L51.2,44.6 L48.6,44.2 L46.1,44.5 M39.9,67.9 L42.4,67.9 L45.0,67.9 L47.5,67.9 L50.1,67.9 L52.7,67.9 L55.2,67.9 L57.8,67.9 L60.3,67.8 L62.9,67.8 L65.5,67.8 L68.0,67.7 L70.6,67.7 L73.2,67.6 L75.7,67.6 L78.3,67.5 L80.8,67.5 L83.4,67.5 L86.0,67.5 L88.5,67.5 L91.1,67.6 L93.7,67.6 L96.2,67.7 L98.8,67.7 L101.3,67.8 L103.9,67.9 L106.5,67.9 L109.0,68.0 L111.6,68.1 L114.1,68.1 L116.7,68.2 L119.3,68.2 L121.8,68.3 L124.4,68.3 L126.9,68.3 L129.5,68.3 L132.1,68.4 L134.6,68.4 L137.2,68.4 L139.8,68.5 M173.9,41.4 L171.4,41.3 L168.9,41.1 L166.4,40.9 L163.9,40.7 L161.4,40.5 L158.9,40.4 L156.4,40.2 L153.9,40.1 L151.4,40.0 L148.9,40.0 L146.4,39.9 L143.9,39.9 L141.4,39.8 L138.9,39.7 L136.4,39.7 L133.9,39.6 L131.4,39.5 L128.9,39.4 L126.3,39.4 L123.8,39.4 L121.3,39.5 L118.8,39.5 L119.1,42.3 L119.2,45.1 L119.3,47.9 L119.2,50.6 L118.8,53.4 L118.2,56.1 M158.0,96.4 L155.4,96.4 L152.8,96.7 L150.2,97.2 L147.6,97.6 L145.0,97.7 L142.4,97.4 L139.8,97.1 L137.2,96.9 L134.6,97.1 L132.0,97.6 L129.4,98.2 L126.8,98.6 L124.2,98.7 L121.6,98.6 L119.0,98.4 L116.4,98.4 L117.4,95.6 L117.8,92.8 L118.2,89.9 L117.9,87.1 L117.3,84.2 M93.6,82.9 L96.1,83.5 L98.6,84.0 L101.0,84.4 L103.5,84.6 L106.0,84.7 L108.5,84.9 L111.0,85.1 L113.5,85.4 L116.0,85.6 L118.5,85.7 L121.0,85.5 L123.6,85.3 L126.1,85.0 L128.6,84.7 L128.4,82.0 L128.4,79.3 L128.6,76.6 L128.8,73.9 L129.2,71.3 L129.8,68.6 L130.5,66.0 M102.0,67.9 L99.4,67.8 L96.9,67.7 L94.4,67.6 L91.8,67.4 L89.3,67.3 L86.7,67.2 L84.2,67.1 L81.7,67.1 L79.1,67.0 L76.6,67.0 L74.0,67.0 L71.5,67.0 L69.0,67.1 L66.4,67.2 L63.9,67.3 L61.4,67.4 L58.8,67.6 L56.3,67.8 L53.8,68.0 L51.2,68.2 L48.7,68.5 L46.2,68.7 L43.6,68.9 L41.1,69.1 M160.1,23.6 L157.5,23.7 L155.0,23.8 L152.5,23.9 L149.9,24.1 L147.4,24.2 L144.8,24.3 L142.3,24.4 L139.7,24.5 L137.2,24.5 L134.7,24.6 L132.1,24.6 L129.6,24.6 L127.0,24.6 L124.5,24.5 L122.0,24.5 L119.4,24.5 L116.9,24.5 L114.3,24.5 L111.8,24.5 L109.2,24.6 L106.7,24.6 L104.2,24.7 L101.6,24.8 L99.1,24.9 L96.5,25.0 L94.0,25.1 L91.5,25.2 L88.9,25.2 L86.4,25.3 L83.8,25.3 L81.3,25.3 L78.8,25.3 L76.2,25.2 L73.7,25.2 L71.1,25.1 L68.6,25.0 L66.0,25.0 L63.5,24.9 L61.0,24.9 L58.4,24.9 L55.9,24.9 L53.3,25.0 L50.8,25.0 L48.2,25.1 L45.7,25.1 L43.2,25.2 M61.1,17.5 L63.7,17.4 L66.3,17.3 L68.9,17.3 L71.5,17.2 L74.1,17.2 L76.7,17.1 L79.3,17.1 L81.9,17.1 L84.5,17.1 L87.0,17.1 L89.6,17.2 L92.2,17.2 L94.8,17.3 L97.4,17.3 L100.0,17.4 L102.6,17.4 L105.2,17.5 L107.8,17.6 L108.5,16.5 L107.7,16.5 L107.5,16.5 L105.6,16.5 M50.5,17.9 L53.0,17.8 L55.5,17.7 L58.1,17.6 L60.6,17.6 L63.2,17.6 L65.7,17.6 L68.2,17.7 L70.8,17.8 L73.3,17.8 L75.9,17.8 L78.4,17.8 L81.0,17.7 L83.5,17.6 L86.0,17.5 L88.6,17.3 L91.1,17.2 L93.7,17.0 L96.2,16.8 L98.7,16.7 L101.3,16.6 L103.8,16.5 L106.4,16.5 L108.9,16.6 L111.5,16.7 L114.0,16.8 L116.5,17.0 L119.1,17.1 L121.6,17.3 L124.2,17.4 L126.7,17.5 L129.2,17.6 L131.8,17.6 L134.3,17.5 L136.9,17.5 L139.4,17.4 L142.0,17.3 L144.5,17.3 L147.0,17.2 L149.6,17.2 L152.1,17.3 L154.7,17.4 L157.2,17.5 L159.7,17.7 L162.3,17.9 L164.8,18.1 L167.4,18.3 M165.9,72.2 L163.3,72.2 L160.8,72.1 L158.2,72.1 L155.7,72.0 L153.1,72.0 L150.5,71.9 L148.0,71.9 L145.4,71.9 L142.8,71.9 L140.3,71.9 L137.7,71.9 L135.2,71.9 L132.6,72.0 L130.1,72.0 L127.5,72.1 L124.9,72.2 L122.4,72.3 L119.8,72.4 L117.3,72.5 L114.7,72.7 L112.2,72.8 L109.6,73.0 L107.1,73.1 L104.5,73.3 L101.9,73.4 L99.4,73.6 L96.8,73.7 L94.3,73.9 L91.7,74.0 L89.2,74.2 L86.6,74.3 L84.1,74.4 L81.5,74.5 L78.9,74.6 L76.4,74.7 L73.8,74.8 L71.3,74.9 L68.7,75.0 L66.2,75.0 L63.6,75.1 M39.5,56.8 L42.0,56.6 L44.6,56.6 L47.1,56.6 L49.7,56.6 L52.2,56.7 L54.7,56.8 L57.3,56.8 L59.8,56.7 L62.4,56.6 L64.9,56.4 L67.4,56.2 L70.0,56.0 L72.5,55.8 L75.0,55.7 L77.6,55.7 L80.1,55.7 L82.7,55.7 L85.2,55.7 L87.7,55.7 L90.3,55.6 L92.8,55.4 L95.3,55.1 L97.9,54.9 L100.4,54.6 L102.9,54.4 L105.5,54.3 L108.0,54.2 M55.9,74.1 L58.4,74.0 L60.9,73.9 L63.4,73.9 L65.9,73.8 L68.4,73.8 L70.9,73.7 L73.4,73.7 L75.9,73.7 L78.4,73.6 L80.9,73.6 L83.4,73.6 L85.9,73.6 L88.4,73.6 L91.0,73.6 L93.5,73.7 L96.0,73.7 L98.5,73.7 L101.0,73.8 L103.5,73.8 L106.0,73.9 L108.5,73.9 L111.0,74.0 L113.5,74.0 L116.0,74.0 L118.5,74.1 L121.0,74.1 M171.7,34.3 L169.2,34.2 L166.7,34.0 L164.2,33.8 L161.7,33.6 L159.1,33.4 L156.6,33.2 L154.1,33.1 L151.6,32.9 L149.1,32.8 L146.6,32.7 L144.0,32.7 L141.5,32.7 L139.0,32.7 L136.5,32.7 L134.0,32.7 L131.5,32.8 L128.9,32.8 L126.4,32.9 L123.9,32.9 L121.4,33.0 L118.9,33.0 L116.4,33.0 L113.8,33.0 L111.3,32.9 L108.8,32.9 L106.3,32.8 L103.8,32.8 L101.3,32.8 L98.7,32.7 L96.2,32.7 L93.7,32.8 L91.2,32.8 L88.7,32.9 L86.2,33.0 L83.6,33.1 L81.1,33.3 L78.6,33.4 L76.1,33.6 L73.6,33.8 L71.1,34.0 L72.5,30.7 L71.6,27.3 L71.5,24.0 M89.3,98.4 L91.8,98.6 L94.4,98.8 L97.0,99.0 L99.6,99.2 L102.1,99.3 L104.7,99.4 L107.3,99.3 L109.8,99.2 L112.4,99.0 L114.9,98.7 L117.5,98.4 L120.0,98.1 L122.6,97.7 L125.1,97.4 L127.7,97.1 L130.2,96.9 L132.8,96.8 L135.4,96.7 L137.9,96.7 L140.5,96.7 L143.1,96.8 L145.6,96.8 L145.6,94.1 L144.3,91.5 L145.2,88.7 L144.3,86.0 L145.6,83.3 M110.5,73.1 L113.0,73.3 L115.6,73.4 L118.1,73.5 L120.7,73.5 L123.3,73.4 L125.8,73.3 L128.4,73.3 L131.0,73.2 L133.5,73.2 L136.1,73.3 L138.7,73.4 L141.2,73.5 L143.8,73.6 L146.3,73.7 L148.9,73.6 L151.5,73.6 L154.0,73.4 L156.6,73.2 L159.2,73.0 L161.7,72.9 L161.5,75.9 L161.7,78.9 L162.3,81.8 L163.3,84.6 M59.8,99.4 L62.4,99.3 L65.0,99.1 L67.6,99.1 L70.2,99.2 L72.8,99.5 L75.5,99.5 L78.1,99.5 L80.7,99.4 L83.3,99.5 L85.9,99.5 L88.5,99.5 L91.1,99.5 L93.8,99.5 L96.4,99.5 L95.6,99.5 L95.8,99.5 L95.2,99.5 M169.3,33.1 L166.7,33.1 L164.2,33.1 L161.7,33.0 L159.2,32.8 L156.7,32.6 L154.2,32.3 L151.6,32.1 L149.1,31.8 L146.6,31.6 L144.1,31.4 L141.6,31.3 L139.1,31.3 L136.5,31.3 L134.0,31.4 L131.5,31.6 L129.0,31.8 L126.5,32.0 L123.9,32.2 L121.4,32.5 L118.9,32.6 L116.4,32.7 L113.9,32.8 L111.3,32.8 L108.8,32.7 L106.3,32.5 L103.8,32.3 L101.3,32.0 L98.8,31.7 L96.2,31.5 L93.7,31.2 L91.2,31.0 L88.7,30.9 L86.2,30.9 L83.7,30.9 L81.1,31.0 L78.6,31.1 L76.1,31.3 L73.6,31.5 L71.1,31.7 L68.5,31.9 L66.0,32.1 L63.5,32.2 L61.0,32.3 L58.5,32.2 M53.6,86.3 L56.1,86.5 L58.6,86.6 L61.1,86.6 L63.6,86.7 L66.2,86.7 L68.7,86.7 L71.2,86.8 L73.7,86.8 L76.2,86.8 L78.7,86.8 L81.2,86.8 L83.7,86.8 L86.2,86.8 L88.8,86.9 L91.3,86.9 L93.8,86.9 L96.3,86.9 L98.8,86.8 L101.3,86.8 L103.8,86.7 L106.3,86.6 L106.9,89.4 L106.0,92.3 L107.3,95.0 L106.7,97.9 L108.3,99.5 M132.3,66.5 L135.0,66.6 L137.7,65.8 L140.4,64.8 L143.1,64.7 L145.8,65.2 L148.5,65.3 L151.2,64.8 L153.9,64.3 L156.6,64.8 L159.4,65.6 L162.1,65.9 M71.3,93.4 L74.0,93.3 L76.6,93.2 L79.3,93.0 L81.9,92.9 L84.6,92.9 L87.3,92.9 L89.9,92.9 L92.6,93.0 L95.2,93.2 L97.9,93.4 L100.5,93.6 L103.2,93.8 L105.8,94.0 L108.5,94.1 L111.1,94.1 L113.8,94.1 L113.0,97.3 L115.1,99.5 M151.6,18.1 L149.1,17.9 L146.6,17.8 L144.1,17.7 L141.6,17.7 L139.1,17.7 L136.6,17.8 L134.1,17.9 L131.6,18.0 L129.1,18.1 L126.6,18.2 L124.1,18.3 L121.6,18.3 L119.1,18.3 L116.6,18.3 L114.1,18.2 L111.6,18.0 L109.1,17.9 L106.6,17.8 L104.1,17.7 L101.6,17.6 L99.1,17.6 L98.7,16.5 L98.5,16.5 L98.7,16.5 L98.1,16.5 L98.6,16.5 L98.6,16.5 M171.2,29.2 L168.7,29.2 L166.2,29.2 L163.6,29.1 L161.1,29.1 L158.6,29.0 L156.0,29.0 L153.5,28.9 L151.0,28.9 L148.5,28.9 L145.9,28.8 L143.4,28.8 L140.9,28.7 L138.4,28.7 L135.8,28.7 L133.3,28.6 L130.8,28.6 L128.2,28.6 L125.7,28.6 L123.2,28.6 L120.7,28.6 L118.1,28.6 L115.6,28.6 L113.1,28.7 L110.6,28.7 L108.0,28.7 L105.5,28.7 L103.0,28.8 L100.5,28.8 L97.9,28.9 L95.4,28.9 L92.9,28.9 L90.4,29.0 L87.8,29.0 L85.3,29.1 L82.8,29.1 L80.2,29.2 L77.7,29.2 L75.2,29.3 L72.7,29.4 L70.1,29.4 L67.6,29.5 L65.1,29.6 L62.6,29.7 L60.0,29.8 L57.5,29.9 L55.0,29.9 M159.1,61.9 L156.5,61.9 L154.0,61.9 L151.4,61.9 L148.8,62.0 L146.3,62.0 L143.7,62.0 L141.1,62.1 L138.6,62.2 L136.0,62.3 L133.4,62.4 L130.9,62.5 L128.3,62.6 L125.7,62.8 L123.2,62.9 L120.6,63.0 L118.0,63.1 L115.5,63.2 L112.9,63.2 L110.3,63.3 L107.8,63.3 L105.2,63.3 L102.6,63.3 L100.1,63.2 L97.5,63.2 L94.9,63.1 L92.4,63.0 L89.8,62.8 L87.2,62.7 L84.6,62.6 L82.1,62.4 L79.5,62.3 L76.9,62.2 L74.4,62.1 L71.8,61.9 L69.2,61.9 M143.3,97.4 L140.7,97.3 L138.1,97.3 L135.4,97.4 L132.8,97.6 L130.2,97.7 L127.6,97.7 L124.9,97.7 L122.3,97.8 L119.7,98.0 L117.1,98.5 L114.5,99.1 L112.0,99.5 L109.4,99.5 L106.8,99.5 L107.4,99.5 L106.9,99.5 L107.7,99.5 L108.7,99.5 L108.3,99.5 L107.8,99.5 L108.5,99.5 L109.1,99.5 M40.2,93.0 L42.7,93.2 L45.2,93.4 L47.8,93.5 L50.3,93.6 L52.8,93.7 L55.3,93.7 L57.8,93.7 L60.3,93.6 L62.8,93.4 L65.4,93.2 L67.9,92.9 L70.4,92.6 L72.9,92.2 L75.4,91.8 L77.9,91.4 M175.4,54.5 L172.9,55.0 L170.3,55.4 L167.8,55.7 L165.3,55.9 L162.8,56.0 L160.2,56.0 L157.7,56.1 L155.2,56.2 L152.6,56.4 L150.1,56.6 L147.6,56.9 L145.1,57.0 L142.5,57.0 L140.0,56.9 L137.4,56.6 L134.9,56.4 L132.4,56.3 L129.8,56.3 L127.3,56.3 L124.8,56.4 L122.2,56.3 L122.6,59.0 L122.8,61.8 L123.2,64.5 L123.7,67.2 L124.1,69.9 L124.0,72.6 M141.0,17.9 L138.5,18.0 L136.0,18.1 L133.5,18.3 L131.0,18.4 L128.5,18.4 L126.0,18.5 L123.5,18.5 L121.0,18.5 L118.5,18.5 L116.0,18.4 L113.5,18.3 L111.0,18.2 L108.5,18.0 L106.0,17.9 L103.4,17.8 L100.9,17.6 L98.4,17.6 L95.9,17.5 L93.4,17.5 L90.9,17.5 L88.4,17.6 L85.9,17.7 L83.4,17.7 L80.9,17.8 L78.4,17.9 L75.9,17.9 L73.4,18.0 L70.9,18.0 L68.4,17.9 L65.9,17.8 L63.4,17.7 L60.9,17.5 L58.4,17.4 L55.9,17.2 L53.4,17.0 L50.9,16.9 M111.4,81.9 L113.9,81.9 L116.4,81.8 L118.9,81.7 L121.4,81.7 L124.0,81.7 L126.5,81.7 L129.0,81.8 L131.5,81.8 L134.0,81.9 L136.5,82.1 L139.0,82.2 L141.6,82.4 L144.1,82.5 L146.6,82.7 L149.1,82.9 L151.6,83.0 L154.1,83.2 L156.6,83.4 L159.1,83.5 L161.7,83.7 L164.2,83.8 L166.7,84.0 L169.2,84.1 L171.7,84.2 L174.2,84.4 L176.7,84.5 L179.2,84.7 M94.8,36.8 L97.3,36.8 L99.8,36.8 L102.3,36.8 L104.8,36.6 L107.4,36.3 L109.9,35.8 L112.4,35.3 L114.9,34.9 L117.4,34.7 L119.9,34.7 L122.4,34.8 L124.9,35.1 L127.4,35.3 L130.0,35.4 L132.5,35.3 L135.0,35.1 L137.5,34.9 L140.0,34.7 L142.5,34.8 L145.1,35.0 L147.6,35.4 L146.6,37.9 L146.8,40.4 L146.9,43.0 L146.7,45.6 L146.1,48.1 L145.5,50.6 L145.2,53.2 L145.5,55.8 M37.3,25.1 L39.8,25.1 L42.3,25.0 L44.8,25.1 L47.3,25.2 L49.9,25.3 L52.4,25.5 L54.9,25.7 L57.4,25.9 L59.9,26.0 L62.4,26.2 L64.9,26.3 L67.5,26.4 L70.0,26.4 L72.5,26.4 L75.0,26.3 L77.5,26.2 L80.0,26.0 L82.5,25.8 L85.0,25.6 L87.5,25.3 L90.1,25.1 L92.6,24.9 L95.1,24.8 L97.6,24.7 L100.1,24.6 L102.6,24.6 L105.1,24.6 L107.6,24.7 L110.1,24.8 L112.7,25.0 L115.2,25.1 L117.7,25.2 L120.2,25.3 L122.7,25.4 L125.2,25.3 L127.7,25.3 L130.3,25.2 L132.8,25.0 L135.3,24.8 L137.8,24.5 L140.3,24.3 L142.8,24.0 L145.3,23.7 L147.8,23.4 L150.3,23.2 L152.8,23.0 L151.4,26.2 L152.9,29.0 L152.4,32.0 L154.7,34.7 M124.2,73.7 L121.6,74.7 L119.0,75.2 L116.5,74.9 L113.9,74.3 L111.3,73.8 L108.7,74.0 L106.2,74.5 L103.6,74.8 L101.0,74.5 L98.5,73.5 M116.5,25.9 L114.0,25.8 L111.4,25.8 L108.9,25.8 L106.3,26.0 L103.8,26.1 L101.2,26.2 L98.7,26.2 L96.1,26.1 L93.6,25.9 L91.0,25.7 L88.5,25.4 L85.9,25.0 L83.4,24.7 L80.9,24.4 L78.3,24.3 L75.8,24.2 L73.2,24.2 L70.7,24.4 L68.1,24.6 L65.5,24.8 L63.0,25.0 L60.4,25.2 L57.9,25.2 L55.3,25.2 L52.8,25.1 L50.2,24.9 L47.7,24.6 L48.9,27.5 L49.4,30.5 L50.7,33.4 L48.7,36.8 M149.4,35.3 L146.7,35.1 L144.1,34.3 L141.5,33.2 L138.9,32.9 L136.2,33.2 L133.6,33.5 L130.9,33.1 L128.3,32.6 L125.7,32.7 L123.0,33.5 L120.3,34.2 M94.3,38.7 L91.7,38.8 L89.2,38.9 L86.6,38.9 L84.1,38.8 L81.5,38.7 L79.0,38.6 L76.5,38.5 L73.9,38.5 L71.4,38.5 L68.8,38.6 L66.3,38.6 L63.7,38.6 L61.2,38.5 L58.7,38.3 L56.1,38.1 L53.6,37.9 L51.1,37.8 L48.5,37.6 L46.0,37.6 L43.4,37.5 L40.9,37.5 L41.0,40.2 L42.2,42.9 L41.2,45.6 L41.5,48.3 L40.2,50.9 M52.4,91.0 L54.9,91.3 L57.4,91.6 L59.9,91.9 L62.5,92.0 L65.0,92.1 L67.5,92.1 L70.0,92.1 L72.5,92.1 L75.1,92.0 L77.6,92.0 L80.1,92.1 L82.6,92.2 L85.1,92.4 L87.6,92.7 L90.1,93.0 L92.6,93.2 L95.1,93.5 L97.7,93.6 L100.2,93.7 L102.7,93.7 L105.2,93.6 L107.7,93.5 L110.3,93.4 L112.8,93.3 L115.3,93.3 L117.8,93.3 L120.3,93.4 L122.8,93.5 L125.4,93.7 L127.9,93.9 L130.4,94.1 L132.9,94.3 L135.4,94.4 M39.2,23.8 L41.8,23.7 L44.3,23.6 L46.9,23.5 L49.4,23.4 L52.0,23.4 L54.5,23.4 L57.1,23.5 L59.6,23.6 L62.2,23.7 L64.7,23.8 L67.3,23.9 L69.8,24.0 L72.4,24.0 L74.9,23.9 L77.5,23.8 L80.0,23.7 L82.6,23.6 L85.1,23.4 L87.7,23.3 L90.2,23.2 L92.8,23.2 L95.3,23.2 L97.9,23.2 L100.5,23.3 L103.0,23.4 L105.6,23.5 L108.1,23.6 L110.7,23.6 L113.2,23.6 L115.8,23.5 L118.3,23.4 L120.9,23.3 L120.5,26.0 L120.3,28.8 L120.3,31.6 L120.6,34.3 L121.2,37.1 L121.8,39.8 M167.8,36.0 L165.2,36.1 L162.7,36.1 L160.1,36.2 L157.5,36.3 L154.9,36.3 L152.3,36.4 L149.8,36.4 L147.2,36.5 L144.6,36.5 L142.0,36.6 L139.5,36.6 L136.9,36.7 L134.3,36.8 L131.7,36.8 L129.2,36.9 L126.6,36.9 L124.0,37.0 L121.4,37.0 L118.8,37.1 L116.3,37.1 L113.7,37.1 L111.1,37.1 L108.5,37.1 L106.0,37.1 L103.4,37.1 L100.8,37.1 L98.2,37.1 L95.6,37.2 L93.1,37.2 L90.5,37.2 L87.9,37.2 L85.3,37.3 L85.5,34.8 L86.4,32.3 L87.2,29.8 L86.7,27.3 L87.1,24.8 L87.5,22.3 L86.7,19.7 M76.3,45.1 L78.8,45.1 L81.4,45.1 L83.9,45.1 L86.4,45.2 L89.0,45.2 L91.5,45.2 L94.1,45.3 L96.6,45.3 L99.2,45.3 L101.7,45.3 L104.2,45.3 L106.8,45.3 L109.3,45.3 L111.8,45.2 L114.4,45.1 L116.9,45.0 L119.5,44.9 L122.0,44.7 L124.5,44.5 L127.1,44.4 L129.6,44.2 L132.1,44.0 L134.7,43.8 L137.2,43.6 L139.7,43.5 L142.3,43.3 L144.8,43.2 L147.3,43.0 L149.9,42.9 L152.4,42.8 L154.9,42.7 L155.3,40.1 L155.2,37.4 L155.2,34.8 L155.8,32.1 L155.8,29.5 L155.8,26.8 L156.4,24.2 M83.3,87.9 L85.9,87.9 L88.5,88.2 L91.1,88.5 L93.8,88.8 L96.4,88.9 L99.0,88.8 L101.7,88.7 L104.3,88.8 L106.9,89.3 L109.5,90.1 L110.2,92.7 L110.3,95.4 L110.4,98.0 L110.7,99.5 L110.7,99.5 L110.2,99.5 L109.6,99.5 L109.4,99.5 M100.5,53.8 L103.0,53.9 L105.5,53.9 L108.0,54.0 L110.6,54.0 L113.1,53.9 L115.6,53.9 L118.1,53.8 L120.6,53.7 L123.2,53.6 L125.7,53.5 L128.2,53.3 L130.7,53.2 L133.2,53.1 L135.7,53.0 L138.3,52.9 L140.8,52.9 L143.3,52.8 L145.8,52.8 L148.3,52.7 L150.8,52.7 L153.4,52.6 L155.9,52.5 L158.4,52.5 L160.9,52.3 L163.4,52.2 L166.0,52.0 L168.5,51.9 L167.2,54.7 L168.7,57.8 L166.8,60.6 L168.2,63.7 M178.4,41.9 L175.9,41.9 L173.3,41.9 L170.7,41.9 L168.2,41.9 L165.6,41.8 L163.0,41.8 L160.5,41.8 L157.9,41.7 L155.3,41.7 L152.8,41.7 L150.2,41.6 L147.7,41.6 L145.1,41.5 L142.5,41.4 L140.0,41.4 L137.4,41.3 L134.8,41.3 L132.3,41.2 L129.7,41.1 L127.1,41.1 L124.6,41.0 L122.0,41.0 L119.5,40.9 L116.9,40.9 L114.3,40.8 L111.8,40.7 L109.2,40.7 L106.6,40.6 L104.1,40.6 L103.7,43.3 L103.6,45.9 L104.4,48.6 L105.3,51.3 L105.5,54.0 L104.8,56.7 L104.0,59.4 L103.9,62.1 L104.5,64.7 M76.6,75.7 L79.1,75.9 L81.6,75.9 L84.2,75.8 L86.7,75.7 L89.2,75.6 L91.7,75.6 L94.3,75.8 L96.8,76.0 L99.3,76.2 L101.8,76.3 L104.3,76.4 L106.9,76.3 L109.4,76.3 L111.9,76.4 L114.4,76.6 L117.0,76.9 L119.5,77.2 L122.0,77.4 L124.5,77.5 L127.0,77.5 L126.5,80.2 L127.0,83.0 L127.7,85.8 L127.7,88.5 L126.9,91.2 L126.0,93.8 L125.8,96.6 L126.0,99.3 L125.9,99.5 M117.1,49.1 L119.7,49.1 L122.3,49.1 L124.9,49.0 L127.4,49.0 L130.0,48.9 L132.6,48.8 L135.2,48.7 L137.8,48.6 L140.4,48.6 L142.9,48.6 L145.5,48.7 L148.1,48.8 L150.7,49.0 L153.2,49.1 L155.8,49.3 L158.4,49.4 L161.0,49.5 L163.6,49.6 L166.1,49.8 L168.7,49.9 L171.3,50.1 L173.9,50.3 L176.4,50.6 L179.0,50.9 L179.1,48.1 L179.2,45.3 L179.3,42.6 L179.5,39.8 L179.7,37.0 L179.9,34.3 L180.1,31.5 L180.3,28.7 L180.6,26.0 M152.0,72.6 L149.4,72.6 L146.9,72.6 L144.4,72.6 L141.9,72.5 L139.4,72.4 L136.9,72.4 L134.3,72.3 L131.8,72.2 L129.3,72.1 L126.8,72.1 L124.3,72.0 L121.8,72.0 L119.2,71.9 L116.7,71.9 L114.2,71.9 L111.7,72.0 L109.2,72.0 L106.7,72.1 L104.1,72.2 L101.6,72.3 L99.1,72.4 L96.6,72.5 L94.1,72.7 L91.6,72.8 L89.0,72.9 L86.5,73.0 L84.0,73.2 L81.5,73.3 L79.0,73.3 L76.5,73.4 L73.9,73.5 L71.4,73.5 L68.9,73.5 L66.4,73.5 L63.9,73.5 L61.4,73.4 L58.8,73.4 L57.1,70.3 L56.9,66.9 M154.9,73.0 L152.4,73.0 L149.9,73.0 L147.4,73.0 L144.9,73.1 L142.4,73.1 L139.9,73.2 L137.4,73.3 L134.9,73.4 L132.3,73.5 L129.8,73.6 L127.3,73.7 L124.8,73.8 L122.3,73.8 L119.8,73.8 L117.3,73.8 L114.8,73.8 L112.3,73.8 L109.8,73.7 L107.3,73.7 L104.8,73.8 L102.2,73.8 L99.7,73.8 L97.2,73.9 L94.7,74.0 L92.2,74.1 L89.7,74.1 L87.2,74.2 L84.7,74.2 L82.2,74.2 L79.7,74.2 L77.2,74.2 L74.7,74.1 L72.1,74.1 L69.6,74.1 L67.1,74.0 L64.6,74.0 M139.6,29.0 L137.0,29.1 L134.4,29.2 L131.8,29.3 L129.2,29.3 L126.6,29.4 L124.1,29.5 L121.5,29.7 L118.9,30.0 L116.3,30.3 L113.8,30.6 L111.2,30.9 L108.6,31.2 L106.1,31.4 L103.5,31.5 L100.9,31.6 L98.3,31.6 L95.7,31.5 L93.1,31.4 L90.5,31.3 L87.9,31.2 L85.3,31.1 M140.2,63.0 L137.7,62.8 L135.1,62.4 L132.6,62.1 L130.1,61.8 L127.5,61.5 L125.0,61.2 L122.5,61.0 L119.9,60.9 L117.4,60.8 L114.8,60.8 L112.3,60.8 L109.8,60.9 L107.2,61.0 L104.7,61.1 L102.1,61.2 L99.6,61.3 L97.0,61.4 L94.5,61.4 L92.0,61.4 L89.4,61.4 L86.9,61.3 L84.3,61.2 L81.8,61.1 L79.3,61.0 L76.7,60.9 L74.2,60.9 L71.6,60.9 L69.1,60.9 L69.2,64.1 L70.9,66.9 M94.7,45.1 L97.2,44.6 L99.8,44.1 L102.3,43.7 L104.9,43.6 L107.4,43.8 L109.9,44.0 L112.5,44.4 L115.0,44.7 L117.5,44.8 L120.0,44.7 L122.6,44.5 L125.1,44.1 L127.7,43.8 L130.2,43.5 L132.8,43.5 L135.3,43.6 L137.8,44.1 L140.3,44.6 L142.9,45.2 L145.4,45.6 L147.9,45.9 L150.4,46.0 L153.0,45.9 L155.5,45.7 L158.1,45.6 L160.6,45.5 L159.3,48.6 L160.0,51.8 L159.2,54.9 M174.4,93.5 L171.8,93.6 L169.2,93.7 L166.6,93.9 L164.0,94.0 L161.5,94.2 L158.9,94.3 L156.3,94.4 L153.7,94.4 L151.1,94.4 L148.5,94.3 L145.9,94.2 L143.3,94.0 L140.7,93.8 L138.1,93.5 L135.5,93.3 L133.0,93.1 L130.4,92.9 L127.8,92.8 L125.2,92.7 L122.6,92.7 L120.0,92.8 L117.4,92.9 L114.8,93.1 L112.2,93.3 L109.6,93.5 L109.8,90.7 L110.4,87.8 L109.4,84.9 M175.3,86.2 L172.8,86.0 L170.2,85.8 L167.6,85.8 L165.0,86.1 L162.4,86.4 L159.8,86.6 L157.2,86.6 L154.6,86.2 L152.1,85.7 L149.5,85.0 L147.0,84.4 L144.4,84.1 L141.8,84.0 L139.2,83.9 M172.4,37.2 L169.9,37.2 L167.3,37.2 L164.8,37.2 L162.3,37.3 L159.7,37.4 L157.2,37.4 L154.7,37.5 L152.1,37.6 L149.6,37.6 L147.0,37.6 L144.5,37.6 L142.0,37.5 L139.4,37.4 L136.9,37.3 L134.4,37.1 L131.8,36.9 L129.3,36.7 L126.8,36.5 L124.3,36.3 L121.7,36.0 L119.2,35.8 L116.7,35.6 L114.1,35.4 L111.6,35.2 L109.1,35.0 L106.5,34.9 L104.0,34.8 L101.5,34.8 L98.9,34.8 L96.4,34.9 L93.9,34.9 L91.3,35.0 L88.8,35.1 L86.2,35.3 L83.7,35.4 L81.2,35.6 L78.6,35.7 L76.1,35.8 L73.5,35.9 L71.0,36.0 L68.5,36.1 L65.9,36.1 L63.4,36.0 L63.1,38.8 L62.9,41.6 L63.5,44.4 L63.4,47.2 L63.4,49.9 L64.4,52.7 M172.9,34.9 L170.4,34.9 L167.9,34.9 L165.4,34.9 L162.9,34.8 L160.4,34.8 L157.8,34.7 L155.3,34.6 L152.8,34.6 L150.3,34.6 L147.8,34.7 L145.3,34.8 L142.8,34.9 L140.3,35.1 L137.8,35.3 L135.3,35.5 L132.8,35.8 L130.3,36.0 L127.8,36.3 L125.3,36.5 L122.8,36.6 L120.3,36.8 L117.8,36.8 L115.3,36.9 L112.8,36.8 L110.2,36.8 L107.7,36.7 L105.2,36.6 L102.7,36.5 L100.2,36.4 L97.7,36.3 L95.2,36.2 L92.7,36.2 L90.2,36.2 L87.7,36.2 L85.2,36.3 L82.7,36.5 L80.2,36.6 L77.6,36.8 L75.1,37.0 L72.6,37.2 L70.1,37.4 L67.6,37.6 L65.1,37.7 L62.6,37.7 L60.1,37.8 M93.8,32.7 L91.2,32.9 L88.6,33.2 L86.0,33.6 L83.4,33.9 L80.8,34.2 L78.2,34.3 L75.6,34.3 L73.0,34.1 L70.4,33.8 L67.8,33.5 L65.2,33.1 L62.6,32.8 L60.0,32.5 L57.4,32.3 M124.1,59.3 L121.4,59.2 L118.8,59.5 L116.1,60.0 L113.5,60.3 L110.8,60.2 L108.2,59.9 L105.5,59.6 L102.8,59.6 L100.2,60.2 L97.6,61.2 L95.0,62.2 L95.2,59.4 L94.4,56.7 L94.2,53.9 L94.6,51.1 L93.5,48.4 L94.2,45.5 M143.9,65.1 L141.3,65.0 L138.8,64.8 L136.3,64.6 L133.7,64.3 L131.2,64.0 L128.7,63.8 L126.1,63.7 L123.6,63.6 L121.0,63.6 L118.5,63.7 L115.9,63.8 L113.3,63.8 L110.8,63.8 L108.2,63.8 L105.7,63.6 L103.2,63.3 L100.6,62.9 L98.1,62.4 L95.6,61.9 L93.1,61.3 L93.9,64.2 L94.9,67.1 L94.7,70.0 L93.9,73.0 L93.7,76.0 M101.1,63.0 L103.7,63.5 L106.3,63.8 L108.9,63.8 L111.5,63.5 L114.1,63.1 L116.8,62.7 L119.4,62.4 L122.0,62.4 L124.6,62.7 L127.2,63.2 L129.8,63.7 L132.4,64.2 M139.2,27.2 L136.7,27.5 L134.2,27.9 L131.7,28.2 L129.2,28.4 L126.7,28.6 L124.2,28.8 L121.7,28.9 L119.2,29.0 L116.7,29.0 L114.2,28.9 L111.7,28.8 L109.2,28.7 L106.7,28.6 L104.2,28.5 L101.7,28.4 L99.2,28.4 L96.7,28.4 L94.2,28.4 L91.7,28.5 L89.2,28.7 L86.7,28.8 L84.2,29.0 L81.7,29.1 L79.2,29.2 L76.7,29.3 L74.2,29.3 L71.7,29.3 L69.2,29.2 L66.7,29.1 L64.2,28.9 L61.7,28.7 M117.0,89.0 L114.5,89.2 L112.0,89.4 L109.4,89.6 L106.9,89.8 L104.4,90.0 L101.9,90.2 L99.3,90.4 L96.8,90.6 L94.3,90.7 L91.8,90.9 L89.3,91.0 L86.7,91.1 L84.2,91.2 L81.7,91.3 L79.2,91.4 L76.6,91.4 L74.1,91.5 L71.6,91.5 L69.1,91.5 L66.5,91.5 L64.0,91.5 L61.5,91.5 L58.9,91.4 L56.4,91.4 L53.9,91.4 L51.4,91.3 L48.8,91.3 L48.9,88.5 L48.0,85.7 L49.4,83.0 M126.2,27.1 L128.8,26.4 L131.3,26.0 L133.8,26.1 L136.3,26.5 L138.8,27.0 L141.3,27.4 L143.8,27.3 L146.3,26.9 L148.9,26.4 L151.4,26.2 L153.9,26.4 L156.4,27.1 L158.9,28.0 L161.3,28.7 L163.8,29.0 L166.3,29.0 L168.9,28.7 L171.4,28.7 L171.3,26.0 L170.3,23.4 L169.1,20.8 L169.2,18.1 L170.0,16.5 L169.9,16.5 L169.3,16.5 M135.1,67.9 L132.6,68.3 L130.1,69.0 L127.6,69.5 L125.1,69.7 L122.6,69.6 L120.0,69.4 L117.5,69.2 L115.0,69.4 L112.5,69.7 L110.0,70.0 L107.5,70.0 L105.0,69.7 L102.4,69.2 M106.0,85.2 L103.4,84.6 L100.8,83.9 L98.2,83.2 L95.5,82.7 L92.9,82.6 L90.2,82.6 L87.6,82.9 L84.9,83.2 L82.2,83.4 L79.6,83.4 L76.9,83.2 M71.2,66.0 L73.9,66.0 L76.5,65.6 L79.2,65.1 L81.9,64.7 L84.5,64.5 L87.2,64.6 L89.8,64.9 L92.4,65.4 L95.1,65.8 L97.7,66.0 L100.4,66.0 L103.0,66.0 L105.6,66.1 L108.3,66.4 L110.9,67.1 L111.0,64.4 L111.5,61.8 L111.9,59.1 L111.9,56.5 L111.5,53.9 L110.8,51.3 L110.1,48.7 L109.4,46.1 M38.5,16.8 L41.1,16.7 L43.6,16.7 L46.2,16.6 L48.7,16.5 L51.2,16.5 L53.8,16.5 L56.3,16.5 L58.8,16.5 L61.4,16.5 L63.9,16.5 L66.4,16.5 L69.0,16.5 L71.5,16.5 L74.1,16.5 L76.6,16.5 L79.1,16.5 L81.7,16.5 L84.2,16.5 L86.7,16.5 L89.3,16.5 L91.8,16.5 L94.4,16.5 L96.9,16.5 L99.4,16.5 L102.0,16.5 L104.5,16.5 L107.0,16.5 L109.6,16.5 L112.1,16.5 L114.6,16.5 L117.2,16.5 L119.7,16.5 L122.3,16.5 L124.8,16.5 L127.3,16.5 L129.9,16.5 L132.4,16.5 L135.0,16.5 L137.5,16.5 L140.0,16.5 L142.6,16.5 L145.1,16.5 L144.0,19.5 L143.8,22.6 L143.4,25.7 L143.3,28.8 M44.3,72.0 L46.8,72.2 L49.3,72.5 L51.9,72.9 L54.4,73.2 L56.9,73.5 L59.4,73.8 L62.0,74.0 L64.5,74.1 L67.0,74.1 L69.5,74.1 L72.1,74.1 L74.6,74.1 L77.1,74.1 L79.7,74.1 L82.2,74.1 L84.7,74.2 L87.3,74.4 L89.8,74.6 L92.3,74.8 L94.8,75.0 L97.4,75.2 L99.9,75.4 L102.4,75.5 L104.9,75.6 L107.5,75.5 L110.0,75.5 L112.5,75.3 L115.1,75.2 L117.6,75.0 L120.2,74.8 L122.7,74.7 L125.2,74.7 L127.8,74.7 L130.3,74.7 L132.8,74.8 L135.3,74.9 L137.9,75.1 L138.1,77.8 L137.9,80.6 L137.9,83.3 L138.5,86.0 L139.1,88.7 M73.4,81.4 L75.9,81.4 L78.5,81.4 L81.0,81.5 L83.5,81.5 L86.1,81.5 L88.6,81.5 L91.2,81.5 L93.7,81.5 L96.2,81.4 L98.8,81.4 L101.3,81.3 L103.9,81.3 L106.4,81.2 L108.9,81.1 L111.5,81.1 L114.0,81.0 L116.6,81.0 L119.1,80.9 L121.6,80.9 L124.2,80.9 L126.7,80.8 L129.3,80.8 L131.8,80.8 L134.3,80.8 L136.9,80.8 L139.4,80.8 L142.0,80.7 L144.5,80.7 L147.0,80.6 L149.6,80.6 L152.1,80.5 L154.6,80.4 L157.2,80.3 L159.7,80.2 L162.3,80.2 L164.8,80.1 L167.3,80.0 L169.9,79.9 L172.4,79.8 M144.0,90.5 L141.2,90.0 L138.5,89.8 L135.8,90.1 L133.2,90.1 L130.4,89.7 L127.8,89.8 L125.1,90.3 L122.4,90.7 L119.7,90.7 L117.0,90.8 L116.6,93.5 L116.1,96.1 L116.0,98.8 L116.3,99.5 L116.6,99.5 L117.0,99.5 L117.5,99.5 M180.3,66.4 L177.8,66.4 L175.3,66.3 L172.8,66.3 L170.3,66.2 L167.7,66.2 L165.2,66.2 L162.7,66.2 L160.2,66.2 L157.7,66.2 L155.2,66.3 L152.6,66.3 L150.1,66.4 L147.6,66.5 L145.1,66.6 L142.6,66.7 L140.0,66.8 L137.5,66.9 L135.0,67.0 L132.5,67.1 L130.0,67.2 L127.5,67.2 L124.9,67.3 L122.4,67.4 L119.9,67.4 L117.4,67.5 L114.9,67.5 L112.3,67.5 L109.8,67.5 L107.3,67.4 L104.8,67.4 L102.3,67.3 L99.8,67.2 L97.2,67.1 L94.7,67.0 L92.2,66.9 L89.7,66.8 L87.2,66.6 L84.7,66.5 L82.1,66.3 L79.6,66.2 L77.1,66.0 L74.6,65.9 L72.1,65.8 L69.6,65.6 L67.0,65.5 L66.1,62.7 L65.2,59.9 L65.8,57.0 L65.6,54.1 L65.9,51.2 M42.8,70.8 L45.3,70.9 L47.9,71.0 L50.4,71.2 L53.0,71.5 L55.6,71.7 L58.1,71.8 L60.7,71.9 L63.2,71.9 L65.8,71.9 L68.3,71.7 L70.9,71.5 L73.4,71.2 L76.0,71.0 L78.5,70.8 L81.1,70.7 L83.6,70.6 L86.2,70.6 L88.7,70.7 L91.3,70.8 L93.9,71.0 L96.4,71.1 L99.0,71.2 L101.5,71.2 L104.1,71.1 L106.6,71.0 L109.2,70.7 L111.7,70.4 L114.3,70.1 L116.8,69.7 L119.3,69.4 L121.9,69.2 L124.4,69.1 L127.0,69.0 L129.5,69.0 L132.1,69.1 L134.7,69.1 L137.2,69.2 L139.8,69.2 L142.3,69.2 L142.2,72.3 L142.0,75.5 L142.2,78.7 M164.7,87.4 L162.1,87.5 L159.6,87.5 L157.0,87.6 L154.5,87.7 L151.9,87.8 L149.4,88.0 L146.8,88.2 L144.2,88.4 L141.7,88.6 L139.1,88.9 L136.6,89.1 L134.0,89.3 L131.5,89.5 L128.9,89.7 L126.4,89.8 L123.8,89.9 L121.3,89.9 L118.7,89.9 L116.2,89.9 L113.6,89.9 L111.1,89.8 L108.5,89.7 L105.9,89.7 L103.4,89.6 L100.8,89.6 L98.3,89.5 L95.7,89.6 L93.2,89.6 L90.6,89.7 L88.1,89.8 L85.5,89.9 L82.9,90.0 L80.4,90.1 L77.8,90.2 L75.3,90.3 L72.7,90.4 L70.2,90.4 L67.6,90.4 L65.1,90.4 L62.5,90.3 L60.0,90.2 L57.4,90.1 L54.8,89.9 L52.3,89.7 L49.7,89.6 M59.8,73.1 L62.3,73.0 L64.8,72.9 L67.4,72.8 L69.9,72.7 L72.4,72.6 L75.0,72.4 L77.5,72.3 L80.0,72.1 L82.6,72.0 L85.1,71.9 L87.6,71.8 L90.2,71.7 L92.7,71.6 L95.2,71.6 L97.8,71.6 L100.3,71.6 L102.8,71.6 L105.4,71.7 L107.9,71.8 L110.4,71.9 L113.0,72.0 L115.5,72.1 L118.0,72.2 L120.6,72.3 L123.1,72.4 L125.6,72.5 L128.2,72.6 L130.7,72.7 L133.2,72.7 L135.8,72.7 L138.3,72.7 L140.8,72.7 L143.4,72.7 L145.9,72.7 L148.4,72.7 L151.0,72.6 L153.5,72.6 L156.0,72.6 L158.6,72.6 L161.1,72.7 L163.6,72.7 L166.2,72.8 L168.7,72.9 L171.2,73.0 L173.7,73.1 L176.3,73.3 L177.0,76.2 L177.5,79.1 L178.2,81.9 L177.8,85.0 M178.9,59.2 L176.3,59.2 L173.8,59.3 L171.2,59.4 L168.7,59.6 L166.1,59.7 L163.5,59.7 L161.0,59.6 L158.4,59.4 L155.9,59.1 L153.3,58.8 L150.8,58.4 L148.2,58.0 L145.6,57.7 L143.1,57.4 L140.5,57.3 L138.0,57.3 L135.4,57.3 L132.8,57.5 L130.3,57.8 L127.7,58.1 L125.2,58.4 L122.6,58.7 L120.0,58.8 L117.5,58.9 L114.9,58.9 L112.4,58.8 L109.8,58.6 L107.3,58.4 L104.7,58.2 L102.1,58.1 L99.6,58.0 L97.0,58.0 L94.5,58.2 L91.9,58.4 L92.9,55.7 L93.8,52.9 L92.9,50.1 L92.3,47.2 L93.0,44.5 M42.8,95.8 L45.3,95.7 L47.8,95.6 L50.3,95.5 L52.8,95.3 L55.3,95.2 L57.8,95.1 L60.3,94.9 L62.8,94.8 L65.3,94.7 L67.8,94.6 L70.3,94.5 L72.8,94.5 L75.3,94.5 L77.8,94.5 L80.3,94.5 L82.8,94.5 L85.3,94.5 L87.8,94.6 L90.3,94.6 L92.8,94.6 L95.3,94.6 L97.8,94.7 L100.3,94.7 L102.8,94.7 L105.3,94.7 L107.8,94.7 L110.3,94.7 L112.8,94.7 L115.3,94.7 L117.8,94.7 L120.3,94.7 L122.8,94.8 L125.3,94.8 L127.8,94.9 L130.3,95.1 L132.8,95.2 L135.3,95.3 L137.8,95.5 L140.4,95.7 L142.9,95.8 L145.4,96.0 L147.9,96.1 L150.4,96.2 L151.1,98.7 L151.7,99.5 L152.2,99.5 L152.3,99.5 L152.3,99.5 L152.1,99.5 L151.8,99.5 L151.5,99.5 M68.6,95.6 L71.1,95.6 L73.6,95.6 L76.2,95.6 L78.7,95.6 L81.2,95.6 L83.8,95.6 L86.3,95.6 L88.8,95.7 L91.3,95.7 L93.9,95.8 L96.4,96.0 L98.9,96.1 L101.5,96.2 L104.0,96.3 L106.5,96.4 L109.1,96.4 L111.6,96.4 L114.1,96.4 L116.6,96.3 L119.2,96.2 L121.7,96.0 L124.2,95.8 L126.7,95.7 L129.3,95.5 L131.8,95.3 L134.3,95.1 L136.9,95.0 L139.4,94.9 L141.9,94.8 L144.4,94.8 L147.0,94.7 L149.5,94.7 L152.0,94.7 L152.8,92.0 L152.9,89.3 L151.6,86.8 L152.0,84.2 L152.2,81.5 L150.4,79.0 M59.5,73.4 L62.1,73.4 L64.6,73.3 L67.1,73.2 L69.7,73.1 L72.2,73.0 L74.8,72.9 L77.3,72.8 L79.8,72.8 L82.4,72.8 L84.9,72.8 L87.5,72.9 L90.0,73.0 L92.5,73.2 L95.1,73.3 L97.6,73.4 L100.1,73.6 L102.7,73.6 L105.2,73.7 L107.8,73.7 L110.3,73.7 L112.8,73.6 L115.4,73.6 L117.9,73.5 L120.5,73.4 L123.0,73.4 L125.5,73.3 L128.1,73.4 L130.6,73.4 L133.1,73.5 L135.7,73.7 L138.2,73.8 L140.8,74.0 L143.3,74.2 L145.8,74.4 L148.4,74.5 L150.9,74.6 L153.4,74.7 L156.0,74.7 L158.5,74.7 L161.1,74.6 L163.6,74.6 L166.1,74.5 L168.7,74.5 L168.1,77.4 L168.1,80.3 L168.1,83.2 L167.7,86.1 L168.3,89.0 L168.3,91.9 M143.1,56.1 L145.6,55.8 L148.2,55.4 L150.7,55.1 L153.2,54.9 L155.7,54.9 L158.3,55.0 L160.8,55.3 L163.3,55.7 L165.9,55.9 L168.4,56.1 L170.9,56.2 L173.5,56.1 L176.0,55.9 L176.7,58.5 L176.9,61.1 L176.9,63.7 L177.4,66.3 L177.3,69.0 L176.8,71.6 M53.9,40.5 L56.4,40.5 L58.9,40.5 L61.4,40.4 L63.9,40.4 L66.4,40.3 L68.9,40.3 L71.4,40.4 L73.9,40.4 L76.4,40.4 L78.9,40.5 L81.4,40.5 L83.9,40.4 L86.4,40.4 L88.9,40.3 L91.4,40.2 L93.9,40.1 L96.4,39.9 L98.9,39.8 L101.4,39.7 L103.9,39.6 L106.4,39.5 L108.9,39.4 L111.4,39.3 L113.9,39.2 L116.4,39.1 L118.9,39.0 L121.4,38.8 L123.9,38.6 L126.4,38.4 L128.9,38.2 L131.4,38.0 L133.9,37.7 L136.4,37.6 L135.8,34.1 L136.5,30.9 L138.0,27.7 M154.3,76.0 L151.8,75.7 L149.2,75.5 L146.7,75.3 L144.2,75.1 L141.6,74.9 L139.1,74.8 L136.6,74.8 L134.1,74.8 L131.5,74.9 L129.0,75.1 L126.5,75.3 L123.9,75.5 L121.4,75.7 L118.9,75.9 L116.4,76.0 L113.8,76.1 L111.3,76.1 L108.8,76.0 L106.2,75.9 L103.7,75.8 L101.2,75.6 L98.6,75.4 L96.1,75.2 L93.6,75.1 L91.0,75.0 L88.5,75.0 L86.0,75.1 L83.5,75.2 L80.9,75.4 L78.4,75.7 L75.9,75.9 L73.4,76.2 L70.8,76.5 L68.3,76.7 L65.8,76.9 L63.2,77.0 L60.7,77.0 L58.2,77.0 L55.7,76.9 L53.1,76.8 L50.6,76.6 L48.1,76.5 L45.5,76.4 L43.0,76.3 M140.9,85.5 L138.4,85.6 L135.9,85.7 L133.4,85.9 L130.9,86.2 L128.4,86.5 L125.9,86.7 L123.3,86.9 L120.8,87.0 L118.3,86.9 L115.8,86.8 L113.2,86.6 L110.7,86.4 L108.2,86.3 L105.7,86.2 L103.1,86.3 L100.6,86.5 L98.1,86.8 L95.6,87.2 L93.1,87.6 L90.6,88.0 L88.1,88.4 L85.6,88.6 L83.0,88.8 L80.5,88.8 M108.6,40.6 L111.1,40.2 L113.5,39.7 L116.0,39.2 L118.5,38.8 L121.0,38.4 L123.5,38.1 L126.0,37.9 L128.5,37.8 L131.0,37.7 L133.5,37.6 L136.0,37.6 L138.5,37.5 L141.0,37.5 L143.6,37.5 L146.1,37.5 L148.6,37.6 L151.1,37.8 L150.7,35.0 L151.5,32.1 L151.0,29.4 L150.4,26.6 L150.9,23.7 L150.1,21.0 L149.3,18.2 M175.7,75.7 L174.1,79.8 L170.9,81.9 L166.5,83.4 L166.5,85.0 L157.2,80.1 L158.8,79.4 L159.3,79.9 L158.2,78.5 L157.9,70.8 L155.7,75.1 L159.4,69.7 L164.6,68.0 M160.1,36.8 L157.5,40.8 L156.2,43.5 L152.7,45.1 L150.0,44.6 L142.7,42.9 L142.8,37.3 L145.2,42.4 L141.7,35.5 L144.0,32.7 L145.7,30.9 L154.9,28.9 L147.0,29.7 M87.2,62.4 L86.1,66.6 L84.1,66.3 L79.3,70.7 L79.2,69.2 L72.7,68.2 L76.0,69.3 L70.3,59.6 L72.5,65.4 L75.3,53.8 L81.5,55.0 L82.5,57.0 L82.1,56.2 M87.7,23.0 L86.0,26.6 L82.7,29.6 L81.5,30.9 L76.6,33.6 L69.9,28.3 L67.2,24.1 L67.9,27.9 L66.9,21.5 L65.9,21.8 L67.2,21.3 L70.1,16.5 L82.8,16.5 M54.5,74.4 L54.0,76.0 L53.3,76.7 L51.5,77.2 L51.7,77.4 L49.8,77.9 L48.0,75.6 L48.5,77.1 L49.0,76.0 L50.9,70.8 L52.6,70.7 L49.5,72.2 L53.6,72.1 M148.3,35.1 L148.5,39.8 L147.6,40.4 L140.6,44.2 L137.9,42.2 L139.1,43.1 L134.6,41.7 L133.6,42.8 L132.4,33.9 L131.2,34.6 L143.6,27.9 L131.5,30.2 L146.4,32.1 M88.4,77.2 L86.8,78.2 L86.2,80.4 L84.9,81.1 L82.6,81.5 L80.1,80.2 L80.6,78.7 L79.9,75.8 L79.1,78.4 L81.7,74.0 L80.8,74.9 L82.5,73.0 L88.0,76.4 M183.5,76.4 L184.0,78.5 L182.6,80.2 L179.1,81.4 L180.0,80.9 L175.9,80.4 L174.5,76.7 L173.7,76.4 L173.0,76.2 L178.5,72.1 L174.0,74.2 L175.4,71.8 L176.4,71.8 M144.4,76.0 L143.5,79.3 L141.4,83.3 L138.8,84.7 L137.4,82.8 L136.8,83.0 L133.3,84.8 L129.5,75.4 L130.4,78.4 L129.0,72.4 L136.6,66.3 L132.7,70.0 L143.7,72.0 M156.7,70.5 L157.3,72.2 L155.1,73.8 L155.6,74.4 L151.2,74.7 L152.1,76.1 L149.7,74.6 L148.2,69.8 L147.8,71.5 L148.0,71.0 L148.5,67.4 L149.5,67.2 L152.5,65.2 M110.7,85.0 L110.0,85.9 L109.4,87.0 L108.6,87.5 L107.3,87.8 L106.6,88.3 L103.5,85.2 L103.9,87.0 L104.2,82.2 L102.9,85.3 L104.3,83.1 L104.9,82.8 L110.1,84.3 M57.8,54.6 L58.1,56.3 L55.4,58.2 L53.5,59.5 L50.6,59.0 L49.5,59.4 L49.4,60.0 L46.3,53.9 L49.3,51.0 L48.1,51.4 L48.4,52.3 L48.6,51.1 L55.3,50.2 M144.9,22.4 L143.8,28.1 L140.8,30.9 L140.9,30.7 L136.8,31.3 L131.6,31.8 L132.3,30.3 L127.9,19.7 L126.1,24.3 L131.1,16.5 L124.3,20.4 L127.5,16.6 L143.0,20.0 M72.2,64.2 L71.5,66.9 L68.1,68.6 L65.3,69.2 L65.4,71.5 L60.3,68.1 L58.2,65.5 L59.9,65.3 L59.4,61.1 L63.6,58.9 L58.0,63.2 L60.1,60.5 L63.0,58.4 M143.2,26.9 L141.0,30.6 L140.6,33.7 L139.9,34.8 L136.1,36.5 L133.4,36.3 L127.9,28.0 L127.2,30.5 L128.5,29.8 L128.6,25.6 L129.9,21.7 L136.0,18.4 L134.7,18.9 M68.8,56.7 L69.1,58.4 L68.2,59.3 L66.2,60.1 L66.3,60.2 L64.0,59.6 L63.7,57.9 L62.8,57.1 L63.9,58.0 L64.8,54.3 L63.2,54.7 L63.6,55.4 L68.8,56.4 M119.2,44.9 L118.7,46.5 L117.8,49.0 L114.7,50.4 L113.3,51.8 L111.1,49.1 L108.6,47.3 L108.4,48.7 L108.4,47.2 L110.3,39.2 L109.4,41.9 L114.0,39.7 L116.3,39.5 M81.6,40.4 L79.9,42.8 L79.1,45.2 L75.5,45.9 L73.8,45.4 L73.6,46.9 L68.5,42.7 L70.2,43.4 L69.8,42.9 L69.3,41.5 L77.7,34.9 L71.5,36.2 L77.2,34.3 M118.3,78.1 L118.5,79.3 L117.5,80.9 L115.3,81.7 L112.8,81.6 L114.4,82.0 L112.9,81.6 L111.8,76.7 L111.6,76.9 L112.9,74.9 L111.2,77.5 L117.3,76.2 L117.4,76.4 M57.5,33.5 L57.5,36.3 L56.4,38.5 L54.9,39.7 L48.4,39.5 L45.8,36.8 L46.0,38.0 L47.4,38.9 L44.9,36.2 L45.7,32.5 L54.5,26.7 L48.8,27.1 L51.2,27.0 M162.7,84.5 L162.2,87.7 L159.4,89.8 L157.6,90.6 L155.0,90.8 L149.5,88.8 L147.3,85.4 L147.7,81.2 L148.6,80.1 L147.6,83.4 L156.1,77.5 L151.3,78.7 L162.4,81.4 M69.8,90.0 L68.5,93.8 L67.7,96.4 L61.7,97.7 L61.8,97.6 L60.9,97.3 L58.5,98.3 L54.7,94.8 L53.8,85.0 L55.1,83.8 L63.9,82.8 L66.9,85.0 L65.9,82.9 M116.6,51.9 L118.6,55.7 L116.9,56.6 L110.8,61.5 L108.2,61.1 L100.8,57.5 L102.9,60.4 L100.0,58.3 L99.9,50.9 L107.5,43.5 L100.8,46.8 L108.6,42.1 L102.6,42.7 M123.5,79.6 L122.7,81.9 L121.8,82.4 L119.5,84.6 L118.6,83.9 L118.5,84.3 L115.8,82.1 L115.6,81.8 L115.6,79.0 L114.7,78.0 L115.8,77.5 L115.8,76.3 L117.3,75.3 M154.1,73.5 L153.9,76.0 L150.2,79.0 L146.4,81.2 L142.9,80.8 L139.9,78.4 L141.2,80.7 L139.0,76.9 L138.8,76.9 L139.4,68.8 L139.3,67.2 L151.3,69.2 L148.6,67.6" fill="none" stroke="#1f68d0" stroke-width="0.9" stroke-linejoin="round" stroke-linecap="round"/>
<text transform="translate(200.00 9.99) scale(0.1)" x="0" y="0" font-size="58.0" text-anchor="start" fill="#111" font-weight="bold" stroke="#111" stroke-width="1.00" textLength="393.0" lengthAdjust="spacingAndGlyphs">hα-syn+/control</text>
<rect x="200.00" y="12.50" width="159.00" height="89.80" fill="none" stroke="#a27cc0" stroke-width="0.9" />
<path d="M271.0,94.4 L271.3,91.9 L271.6,89.4 L271.7,86.8 L271.6,84.3 L271.4,81.8 L271.1,79.3 L270.9,76.7 L270.7,74.2 L270.7,71.7 L270.8,69.1 L271.1,66.6 L271.4,64.1 L271.6,61.6 L271.8,59.0 L271.8,56.5 L271.6,54.0 L271.4,51.5 L271.1,48.9 L270.8,46.4 L270.6,43.9 L270.5,41.3 L270.6,38.8 L270.9,36.3 M222.1,20.0 L221.8,22.6 L221.7,25.1 L221.9,27.7 L222.5,30.2 L223.3,32.7 L224.1,35.3 L224.5,37.8 L224.5,40.4 L224.1,42.9 L223.5,45.5 L223.1,48.1 L223.0,50.6 L223.3,53.2 L223.7,55.7 L224.1,58.3 L224.3,60.8 L224.0,63.4 L223.3,66.0 M230.4,74.0 L230.7,71.3 L230.7,68.6 L230.1,65.9 L229.2,63.3 L228.4,60.6 L228.1,57.9 L228.4,55.2 L229.0,52.5 L229.5,49.7 L229.3,47.0 L228.7,44.4 L228.1,41.7 M280.1,25.5 L279.7,28.1 L279.5,30.7 L279.5,33.3 L279.8,35.8 L280.3,38.4 L280.9,41.0 L281.3,43.6 L281.5,46.2 L281.4,48.8 L281.0,51.3 L280.5,53.9 L280.0,56.5 L279.8,59.1 L279.8,61.7 L280.1,64.2 L280.5,66.8 L281.0,69.4 L281.2,72.0 L281.2,74.6 L280.9,77.2 L280.3,79.7 L279.7,82.3 L279.2,84.9 L279.0,87.5 M252.6,70.1 L252.1,67.5 L251.7,65.0 L251.7,62.5 L252.2,60.0 L252.8,57.5 L253.1,55.1 L253.0,52.5 L252.5,50.0 L252.2,47.5 L252.3,45.0 L252.8,42.5 L253.5,40.1 L253.8,37.6 L253.7,35.1 L253.4,32.5 L253.1,30.0 L253.2,27.5 M209.6,92.7 L210.0,90.1 L209.8,87.5 L209.3,84.8 L209.0,82.2 L209.0,79.6 L209.6,77.0 L210.4,74.5 L211.0,71.9 L211.0,69.3 L210.7,66.7 L210.3,64.0 L210.3,61.4 L210.8,58.8 L211.6,56.3 L212.4,53.7 L212.7,51.1 L216.2,50.5 L219.6,49.9 M211.4,29.4 L211.1,31.9 L210.7,34.5 L210.2,37.0 L209.7,39.5 L209.3,42.1 L209.1,44.6 L209.0,47.2 L209.2,49.8 L209.5,52.3 L209.8,54.9 L210.1,57.5 L210.2,60.0 L210.2,62.6 L209.9,65.1 L209.5,67.7 L209.0,70.2 L209.0,72.8 L209.0,75.3 L209.0,77.8 L209.0,80.4 L209.0,83.0 L209.0,81.5 L209.0,81.6 L209.0,80.3 L209.0,81.2 L209.0,80.5 M211.9,55.4 L212.0,57.9 L212.0,60.4 L212.1,62.9 L212.2,65.5 L212.3,68.0 L212.6,70.5 L212.8,73.1 L213.1,75.6 L213.3,78.1 L213.5,80.6 L213.6,83.2 L213.6,85.7 L213.5,88.2 L213.2,90.8 L212.8,93.3 L212.3,95.8 M322.9,69.1 L322.8,66.4 L322.6,63.8 L322.4,61.2 L322.2,58.5 L322.0,55.9 L321.8,53.3 L321.6,50.7 L321.5,48.0 L321.5,45.4 L321.5,42.8 L321.6,40.1 L321.8,37.5 L322.0,34.9 L322.3,32.3 L322.6,29.7 L322.9,27.0 L323.2,24.4 L323.5,21.8 L323.8,19.2 L321.1,20.3 L318.4,20.3 L315.7,20.0 L313.0,20.9 L310.4,21.5 L307.6,20.6 L304.8,20.3 L302.2,21.1 M243.6,45.4 L243.5,48.0 L243.1,50.5 L242.5,53.0 L241.7,55.5 L241.0,58.0 L240.6,60.5 L240.4,63.1 L240.6,65.6 L240.9,68.2 L241.3,70.7 L241.5,73.3 L241.5,75.8 L241.2,78.4 L240.9,80.9 L240.7,83.4 L240.7,86.0 L243.8,86.5 L246.5,85.3 M248.8,85.1 L248.5,82.4 L248.5,79.8 L248.6,77.1 L248.9,74.4 L249.1,71.7 L249.3,69.1 L249.2,66.4 L249.0,63.8 L248.5,61.1 L248.0,58.5 L247.6,55.8 L247.4,53.2 L247.3,50.5 L247.5,47.8 L247.7,45.1 M237.0,61.9 L236.7,59.2 L236.3,56.6 L235.8,53.9 L235.3,51.2 L234.8,48.5 L234.5,45.8 L234.2,43.1 L234.2,40.4 L234.2,37.7 L234.4,35.0 L234.5,32.3 L234.5,29.5 L237.1,29.9 L239.6,30.1 L242.1,30.2 L244.7,30.3 L247.2,30.3 L249.7,30.3 L252.3,30.3 L254.8,30.4 L257.4,30.3 M211.4,20.0 L211.3,22.6 L211.1,25.1 L211.0,27.7 L210.9,30.3 L210.7,32.9 L210.6,35.4 L210.5,38.0 L210.4,40.6 L210.3,43.2 L210.1,45.7 L210.0,48.3 L209.9,50.9 L209.8,53.5 L209.7,56.1 L209.6,58.6 L209.5,61.2 L209.4,63.8 L209.3,66.4 L209.2,68.9 L209.1,71.5 L209.0,74.1 L209.0,76.7 L209.0,79.3 L209.0,81.8 L209.0,84.4 L209.0,87.0 L209.0,89.6 L209.0,92.1 L209.0,94.7 M219.6,32.9 L219.4,35.4 L219.1,37.9 L218.9,40.4 L218.8,42.9 L218.7,45.4 L218.7,47.9 L218.9,50.4 L219.1,52.9 L219.3,55.4 L219.6,57.9 L219.8,60.4 L220.0,62.9 L220.0,65.4 L220.0,67.9 L220.0,70.4 L219.9,72.9 L219.8,75.4 L219.7,77.9 L219.7,80.4 L219.8,82.9 L220.0,85.4 L220.2,87.9 L220.5,90.3 M332.3,19.6 L332.4,22.1 L332.5,24.6 L332.7,27.1 L332.8,29.6 L332.9,32.1 L333.0,34.6 L333.0,37.1 L333.0,39.7 L333.0,42.2 L332.9,44.7 L332.9,47.2 L332.9,49.7 L333.0,52.2 L333.0,54.8 L333.1,57.3 L333.3,59.8 L333.5,62.3 L333.6,64.8 L333.8,67.3 L333.9,69.8 L334.1,72.3 L334.1,74.8 L334.2,77.4 L334.2,79.9 L334.2,82.4 L334.2,84.9 L334.2,87.4 L334.3,89.9 L334.4,92.4 M220.2,34.0 L220.4,36.5 L220.6,39.1 L220.7,41.7 L220.7,44.3 L220.7,46.9 L220.6,49.4 L220.5,52.0 L220.4,54.6 L220.4,57.2 L220.5,59.8 L220.6,62.4 L220.8,64.9 L221.0,67.5 L221.2,70.1 L221.4,72.7 L221.6,75.2 L221.6,77.8 L221.6,80.4 L221.5,83.0 L221.4,85.6 L221.2,88.1 L221.1,90.7 L221.0,93.3 L220.9,95.9 M220.5,17.4 L220.7,19.9 L220.9,22.5 L221.1,25.1 L221.2,27.7 L221.2,30.3 L221.1,32.9 L221.0,35.4 L220.9,38.0 L220.9,40.6 L220.8,43.2 L220.9,45.8 L221.0,48.4 L221.1,50.9 L221.3,53.5 L221.4,56.1 L221.5,58.7 L221.5,61.3 L221.4,63.8 L221.2,66.4 L221.0,69.0 L220.7,71.6 L220.5,74.2 L220.3,76.8 L220.2,79.3 L220.2,81.9 L220.2,84.5 M244.7,31.1 L244.9,33.8 L244.5,36.5 L244.0,39.2 L243.6,41.8 L243.7,44.5 L244.1,47.2 L244.5,49.9 L244.4,52.6 L243.8,55.3 L242.9,57.9 L242.0,60.5 L241.6,63.2 M254.2,83.3 L254.2,80.8 L254.1,78.3 L254.0,75.7 L254.1,73.2 L254.2,70.7 L254.5,68.2 L254.9,65.6 L255.4,63.1 L255.8,60.6 L256.2,58.1 L256.5,55.6 L256.6,53.0 L256.5,50.5 L256.3,48.0 L256.0,45.4 L255.7,42.9 L255.5,40.4 L255.4,37.8 L255.4,35.3 L255.5,32.8 L255.8,30.3 L256.0,27.7 L256.2,25.2 L256.3,22.7 L256.3,20.2 L259.0,21.5 L261.6,21.6 L264.0,19.7 M321.6,36.8 L321.8,39.5 L322.0,42.1 L322.2,44.7 L322.4,47.4 L322.6,50.0 L322.8,52.6 L323.0,55.3 L323.1,57.9 L323.2,60.6 L323.3,63.2 L323.3,65.8 L323.4,68.5 L323.5,71.1 L323.6,73.8 M294.3,90.5 L294.6,87.9 L295.0,85.3 L295.3,82.7 L295.5,80.1 L295.4,77.5 L295.2,74.9 L295.1,72.3 L295.0,69.7 L295.1,67.1 L295.4,64.5 L295.6,61.9 L295.8,59.3 L295.9,56.7 L295.7,54.1 L295.4,51.5 L295.1,48.9 L294.9,46.3 L294.9,43.7 L297.4,43.4 L300.0,42.2 L302.5,41.6 L305.1,41.9 L307.6,42.8 L310.2,43.5 L312.7,43.7 M216.2,24.8 L216.2,27.4 L216.1,30.0 L215.9,32.5 L215.6,35.1 L215.3,37.6 L215.0,40.2 L214.7,42.8 L214.4,45.3 L214.2,47.9 L214.1,50.5 L214.1,53.0 L214.3,55.6 L214.5,58.1 L214.8,60.7 L215.1,63.3 L215.5,65.8 L215.9,68.4 L216.2,70.9 L216.4,73.5 L216.6,76.0 L216.6,78.6 L216.6,81.1 L216.6,83.7 L216.4,86.3 L213.5,86.3 L210.6,86.1 L209.0,87.8 M282.6,18.3 L282.4,20.8 L282.3,23.3 L282.2,25.9 L282.1,28.4 L282.1,31.0 L282.0,33.5 L282.0,36.1 L281.9,38.6 L281.8,41.2 L281.7,43.7 L281.6,46.3 L281.4,48.8 L281.2,51.4 L281.0,53.9 L280.8,56.5 L280.6,59.0 L280.5,61.6 L280.4,64.1 L280.3,66.7 L280.3,69.2 L280.4,71.8 L280.5,74.3 L280.6,76.9 L280.7,79.4 L280.9,82.0 L281.0,84.5 L281.1,87.1 L281.2,89.6 L281.2,92.2 L281.2,94.7 M262.2,22.1 L262.2,24.7 L262.1,27.2 L261.9,29.7 L261.6,32.2 L261.3,34.7 L261.0,37.2 L260.8,39.8 L260.7,42.3 L260.7,44.8 L260.7,47.3 L260.7,49.9 L260.6,52.4 L260.4,54.9 L260.1,57.4 L259.8,59.9 L259.5,62.5 L259.4,65.0 L259.4,67.5 L259.5,70.0 L259.5,72.6 L259.5,75.1 L256.8,73.4 L253.8,73.3 L250.9,73.6 L248.0,73.2 M242.6,69.7 L243.0,67.2 L243.3,64.7 L243.5,62.2 L243.7,59.7 L243.9,57.2 L244.0,54.7 L244.2,52.2 L244.3,49.6 L244.4,47.1 L244.5,44.6 L244.6,42.1 L244.8,39.6 L244.9,37.1 L245.1,34.6 L245.2,32.1 L245.3,29.6 L245.4,27.1 L245.5,24.6 L245.5,22.1 L245.5,19.6 L248.3,20.5 L251.2,19.7 M217.8,88.2 L218.1,85.6 L218.2,83.0 L218.2,80.4 L218.1,77.9 L217.9,75.3 L217.5,72.7 L217.2,70.1 L217.0,67.5 L216.8,64.9 L216.8,62.4 L217.0,59.8 L217.3,57.2 L217.6,54.7 L218.0,52.1 L218.2,49.5 L218.4,47.0 L218.4,44.4 L218.3,41.8 L218.2,39.2 L218.0,36.6 L217.9,34.1 L218.0,31.5 L218.2,28.9 L218.5,26.3 L218.9,23.8 L219.4,21.2 L219.9,18.6 M303.4,18.3 L303.4,20.8 L303.4,23.4 L303.5,25.9 L303.5,28.5 L303.5,31.0 L303.5,33.6 L303.5,36.1 L303.4,38.7 L303.4,41.2 L303.3,43.8 L303.3,46.3 L303.2,48.9 L303.1,51.4 L303.1,54.0 L303.0,56.5 L302.9,59.1 L302.8,61.6 L302.8,64.2 L302.7,66.7 L302.6,69.2 L302.4,71.8 L302.3,74.3 L302.1,76.9 L302.0,79.4 L301.8,82.0 L301.6,84.5 L301.4,87.1 L301.3,89.6 L301.1,92.1 L300.9,94.7 M281.3,92.7 L281.4,90.2 L281.3,87.6 L281.1,85.1 L280.8,82.5 L280.6,80.0 L280.4,77.4 L280.5,74.8 L280.7,72.3 L281.0,69.7 L281.4,67.2 L281.8,64.6 L282.0,62.0 L282.0,59.5 L281.9,56.9 L281.6,54.4 L281.2,51.8 L280.8,49.3 L280.5,46.7 L280.3,44.2 L280.3,41.6 L280.5,39.0 L280.7,36.5 L280.9,33.9 L281.1,31.4 L281.0,28.8 L280.8,26.3 L280.5,23.7 L280.0,21.1 M280.7,21.1 L281.0,23.6 L281.3,26.2 L281.5,28.7 L281.5,31.3 L281.3,33.8 L280.9,36.4 L280.5,39.0 L280.1,41.5 L279.8,44.1 L279.7,46.6 L279.7,49.2 L280.0,51.7 L280.4,54.3 L280.8,56.8 L281.2,59.4 L281.4,61.9 L281.4,64.5 L281.3,67.1 L281.0,69.6 L280.6,72.2 L280.3,74.7 L280.1,77.3 L280.0,79.8 L277.4,78.8 L274.7,79.1 L272.1,79.9 L269.5,79.9 L266.9,79.0 L264.2,78.6 L261.6,79.4 L259.0,80.4 M339.8,93.4 L339.8,90.8 L340.0,88.3 L340.1,85.8 L340.1,83.3 L340.1,80.8 L340.1,78.3 L340.0,75.7 L339.8,73.2 L339.5,70.7 L339.3,68.2 L339.0,65.7 L338.7,63.2 L338.5,60.7 L338.3,58.2 L338.2,55.7 L338.2,53.2 L338.2,50.7 L338.3,48.1 L338.4,45.6 L338.6,43.1 L338.7,40.6 L338.8,38.1 L338.8,35.6 L338.7,33.0 L338.6,30.5 L338.4,28.0 L338.2,25.5 L338.0,23.0 L337.7,20.5 L337.5,18.0 L334.7,19.4 L331.8,20.4 L328.6,19.2 M240.4,85.9 L240.4,83.4 L240.3,80.8 L240.1,78.2 L239.9,75.7 L239.6,73.1 L239.4,70.5 L239.1,68.0 L239.0,65.4 L238.9,62.8 L238.9,60.3 L239.0,57.7 L239.2,55.1 L239.4,52.6 L239.6,50.0 L239.8,47.4 L239.9,44.9 L240.0,42.3 L240.0,39.7 L240.0,37.2 L239.9,34.6 L239.9,32.0 L240.0,29.5 L240.1,26.9 L240.3,24.3 L240.6,21.8 L243.8,22.0 L246.5,20.3 L249.6,20.1 M327.7,78.7 L327.4,76.1 L327.1,73.6 L326.9,71.0 L326.9,68.4 L327.1,65.8 L327.4,63.2 L327.8,60.6 L328.1,58.0 L328.3,55.5 L328.3,52.9 L328.2,50.3 L327.9,47.7 L327.5,45.1 L327.2,42.5 L327.1,39.9 L327.1,37.3 L327.4,34.8 L327.7,32.2 L328.0,29.6 L328.2,27.0 L328.3,24.4 L328.1,21.8 L331.2,21.3 L334.0,22.0 L336.7,23.8 M330.7,58.5 L331.0,56.0 L331.2,53.5 L331.5,50.9 L331.7,48.4 L331.9,45.9 L332.0,43.3 L332.0,40.8 L331.9,38.3 L331.8,35.8 L331.6,33.2 L331.4,30.7 L331.2,28.2 L330.9,25.7 L330.7,23.1 L330.4,20.6 M318.2,77.6 L318.1,75.0 L318.2,72.4 L318.5,69.8 L318.8,67.2 L319.1,64.7 L319.2,62.1 L319.2,59.5 L319.1,56.9 L319.1,54.3 L319.1,51.7 L319.4,49.1 L319.8,46.6 L320.2,44.0 L320.7,41.4 M323.2,91.2 L323.1,88.6 L323.0,86.0 L322.9,83.4 L322.9,80.8 L322.9,78.2 L323.0,75.7 L323.1,73.1 L323.3,70.5 L323.5,67.9 L323.8,65.4 L324.1,62.8 L324.4,60.2 L324.6,57.6 L324.9,55.1 L325.0,52.5 L325.1,49.9 L325.1,47.3 L325.1,44.7 L325.0,42.2 L324.8,39.6 L324.6,37.0 L324.5,34.4 L324.3,31.8 L324.1,29.2 L324.0,26.7 L324.0,24.1 L324.0,21.5 L320.8,20.5 L317.9,21.1 L315.5,23.5 M272.3,88.5 L272.4,86.0 L272.4,83.5 L272.4,81.0 L272.4,78.4 L272.3,75.9 L272.2,73.4 L272.1,70.9 L272.0,68.4 L272.0,65.9 L272.0,63.4 L272.0,60.9 L272.1,58.3 L272.1,55.8 L272.2,53.3 L272.3,50.8 L272.3,48.3 L272.3,45.8 L272.3,43.3 L272.2,40.7 L272.2,38.2 L272.1,35.7 L272.1,33.2 L272.1,30.7 L272.2,28.2 L272.2,25.7 L272.4,23.2 L272.5,20.6 M233.8,89.3 L233.6,86.7 L233.4,84.2 L233.2,81.7 L232.9,79.2 L232.7,76.6 L232.5,74.1 L232.3,71.6 L232.2,69.1 L232.1,66.5 L232.0,64.0 L231.9,61.5 L231.8,58.9 L231.8,56.4 L231.7,53.9 L231.7,51.3 L231.7,48.8 L231.8,46.3 L231.8,43.7 L231.9,41.2 L232.0,38.7 L232.0,36.1 M304.7,93.5 L304.9,91.0 L305.1,88.4 L305.4,85.8 L305.6,83.2 L305.9,80.6 L306.2,78.0 L306.4,75.5 L306.5,72.9 L306.6,70.3 L306.6,67.7 L306.5,65.1 L306.3,62.5 L306.1,59.9 L305.9,57.4 L305.6,54.8 L305.4,52.2 L305.2,49.6 L305.1,47.0 L305.1,44.4 L305.1,41.8 L305.3,39.2 L305.5,36.7 L305.7,34.1 L306.0,31.5 L306.3,28.9 L306.6,26.3 L306.8,23.7 L306.9,21.2 M310.6,94.0 L310.9,91.5 L311.3,89.0 L311.7,86.5 L312.0,83.9 L312.4,81.4 L312.6,78.9 L312.7,76.3 L312.8,73.8 L312.8,71.3 L312.8,68.7 L312.8,66.2 L312.8,63.6 L312.9,61.1 L313.1,58.6 L313.3,56.0 L313.6,53.5 L313.8,51.0 L313.9,48.4 L313.9,45.9 L313.9,43.4 L313.7,40.8 L313.5,38.3 L313.3,35.7 L313.2,33.2 L313.1,30.6 L313.1,28.1 L313.2,25.6 L310.5,26.7 L307.6,26.0 L304.9,26.4 L302.1,27.5 L299.3,26.3 L296.5,26.9 L293.8,27.3 M332.8,29.3 L332.9,31.9 L333.0,34.5 L333.0,37.2 L333.0,39.8 L332.9,42.4 L332.8,45.0 L332.7,47.6 L332.6,50.2 L332.5,52.8 L332.3,55.4 L332.2,58.0 L331.9,60.6 L331.6,63.3 L328.6,62.5 L325.6,63.7 L322.6,62.2 L319.7,63.8 L316.7,64.3 M309.5,74.9 L309.6,72.4 L310.0,69.8 L310.3,67.2 L310.2,64.6 L309.6,62.0 L308.9,59.5 L308.4,56.9 L308.4,54.4 L308.9,51.8 L309.3,49.2 L309.4,46.6 L309.0,44.0 L308.3,41.5 L307.8,38.9 L307.8,36.3 L308.3,33.7 L308.8,31.1 L306.3,30.5 L303.8,31.2 L301.2,29.8 L298.7,30.8 L296.2,31.6 L293.7,30.9 M215.3,93.2 L215.3,90.7 L215.2,88.2 L215.2,85.6 L215.0,83.1 L214.9,80.6 L214.7,78.1 L214.6,75.6 L214.4,73.0 L214.4,70.5 L214.4,68.0 L214.4,65.5 L214.4,62.9 L214.4,60.4 L214.4,57.9 L214.4,55.4 L214.3,52.8 L214.1,50.3 L214.0,47.8 L213.8,45.3 L213.7,42.8 L213.6,40.2 L213.5,37.7 L213.5,35.2 L213.6,32.7 L213.6,30.1 L213.6,27.6 L213.6,25.1 L213.5,22.6 L213.4,20.0 L213.2,17.5 L215.8,17.0 L218.4,17.0 L221.0,17.0 L223.6,17.0 L226.2,17.0 L228.8,17.0 M307.5,63.1 L306.8,60.6 L306.1,58.1 L305.8,55.6 L305.7,53.0 L305.7,50.5 L305.8,47.9 L305.6,45.4 L305.1,42.9 L304.6,40.4 L304.2,37.8 L304.1,35.3 L304.3,32.7 L304.6,30.2 L304.8,27.6 L304.8,25.1 L304.5,22.6 L304.1,20.0 L304.0,17.5 M215.9,96.0 L215.9,93.4 L216.0,90.9 L216.0,88.4 L216.1,85.8 L216.1,83.3 L216.2,80.8 L216.2,78.2 L216.3,75.7 L216.4,73.2 L216.5,70.7 L216.5,68.1 L216.6,65.6 L216.7,63.1 L216.8,60.5 L216.9,58.0 L217.0,55.5 L217.0,52.9 L217.1,50.4 L217.2,47.9 L217.3,45.3 L217.4,42.8 L217.4,40.3 L217.5,37.7 L217.6,35.2 L217.7,32.7 L217.8,30.2 L217.9,27.6 L218.0,25.1 L218.1,22.6 L218.2,20.0 L218.3,17.5 L221.0,18.2 L223.6,18.2 L226.2,18.0 L228.9,17.8 L231.5,17.6 L234.2,17.5 L236.8,17.4 L239.4,17.1 L242.0,17.0 M265.8,90.2 L266.1,87.5 L266.3,84.9 L266.0,82.2 L265.4,79.6 L264.7,77.0 L264.2,74.3 L264.2,71.6 L264.6,69.0 L264.9,66.3 L265.0,63.6 L264.6,61.0 L264.0,58.3 L263.5,55.7 L263.5,53.0 M302.5,39.4 L302.1,42.0 L301.8,44.6 L301.7,47.1 L301.8,49.7 L302.1,52.3 L302.4,54.9 L302.7,57.5 L302.8,60.1 L302.6,62.6 L302.3,65.2 L301.8,67.7 L301.3,70.3 L300.9,72.8 L300.6,75.4 L300.6,78.0 L300.7,80.6 L300.9,83.2 L301.0,85.7 L300.9,88.3 L303.4,88.1 L306.0,88.6 L308.5,88.5 L311.0,87.9 L313.5,87.3 L316.1,87.4 M247.4,51.3 L247.7,53.8 L247.9,56.4 L248.1,58.9 L248.2,61.4 L248.3,63.9 L248.3,66.5 L248.3,69.0 L248.3,71.5 L248.3,74.0 L248.3,76.6 L248.3,79.1 L248.3,81.6 L248.3,84.2 L248.3,86.7 L248.4,89.2 L248.4,91.7 L248.3,94.3 L245.5,93.8 L242.7,93.1 M284.1,85.1 L284.0,82.5 L284.0,79.9 L284.0,77.4 L284.0,74.8 L284.0,72.2 L284.0,69.7 L283.9,67.1 L283.9,64.5 L283.8,62.0 L283.7,59.4 L283.5,56.8 L283.4,54.3 L283.2,51.7 L283.0,49.2 L282.8,46.6 L282.7,44.0 L282.5,41.5 L282.4,38.9 L282.3,36.4 L282.3,33.8 L282.3,31.2 L282.4,28.7 L282.5,26.1 L282.6,23.5 L279.9,23.4 L277.3,23.0 L274.6,22.6 L272.0,22.5 L269.3,22.6 L266.7,22.9 L264.0,23.2 L261.4,23.4 M323.7,22.6 L324.0,25.2 L324.3,27.8 L324.5,30.4 L324.6,33.0 L324.7,35.6 L324.7,38.2 L324.8,40.8 L324.9,43.4 L325.0,46.0 L325.1,48.6 L325.3,51.2 L325.5,53.8 L325.7,56.4 L325.8,59.0 L326.0,61.6 L326.0,64.2 L326.0,66.8 L325.9,69.4 L325.7,72.0 L325.6,74.6 L325.4,77.2 L325.3,79.8 L325.3,82.5 L327.9,82.2 L330.6,82.5 L333.2,82.8 L335.9,82.3 L338.5,82.8 L341.1,82.8 M219.8,83.4 L219.8,80.8 L219.7,78.2 L219.6,75.6 L219.4,73.0 L219.3,70.4 L219.3,67.8 L219.2,65.1 L219.3,62.5 L219.3,59.9 L219.4,57.3 L219.4,54.7 L219.3,52.1 L219.2,49.5 L218.9,46.9 L218.6,44.3 L218.3,41.7 L221.1,41.7 L223.9,41.6 L226.7,41.9 L229.4,42.1 L232.2,42.3 L235.0,42.9 L237.8,43.3 M304.0,35.1 L304.0,37.8 L303.7,40.4 L303.3,43.0 L303.0,45.7 L302.9,48.3 L303.1,50.9 L303.6,53.6 L304.2,56.2 L304.6,58.9 L304.6,61.5 L304.3,64.1 L303.7,66.8 L303.1,69.4 L302.6,72.0 L302.4,74.7 L302.5,77.3 L302.9,79.9 L300.2,80.1 L297.5,79.9 L294.8,79.9 L292.1,80.1 L289.4,80.1 L286.7,79.7 L284.0,79.4 L281.3,79.5 M317.5,35.2 L317.4,37.8 L317.3,40.4 L317.3,43.0 L317.3,45.6 L317.3,48.2 L317.3,50.8 L317.4,53.4 L317.4,56.0 L317.3,58.6 L317.2,61.2 L317.1,63.8 L316.9,66.4 L316.7,69.0 L316.5,71.6 L316.3,74.2 L316.1,76.8 L315.9,79.4 L315.7,82.0 L315.6,84.6 L315.5,87.2 L315.6,89.8 L315.6,92.4 L318.2,93.4 L320.9,92.9 L323.5,93.7 L326.1,94.6 L328.9,93.9 L331.6,93.9 M316.8,20.6 L317.2,23.1 L317.8,25.6 L318.4,28.1 L318.9,30.6 L319.1,33.2 L319.1,35.7 L319.2,38.3 L319.4,40.8 L319.6,43.3 L319.8,45.9 L319.8,48.4 L319.6,51.0 L319.3,53.6 L319.1,56.1 M242.6,45.3 L242.9,47.9 L243.2,50.5 L243.3,53.1 L243.3,55.8 L243.2,58.4 L243.2,61.0 L243.4,63.7 L243.7,66.3 L244.0,68.9 L244.2,71.5 L244.2,74.2 L244.1,76.8 L243.9,79.4 L243.8,82.1 L243.9,84.7 L244.2,87.3 L241.5,87.0 L238.9,86.5 L236.2,86.4 L233.6,86.9 L231.0,87.4 L228.4,88.0 M326.0,24.7 L326.0,27.3 L326.1,29.8 L326.1,32.4 L326.1,35.0 L326.2,37.6 L326.2,40.2 L326.3,42.8 L326.4,45.4 L326.5,48.0 L326.6,50.5 L326.7,53.1 L326.8,55.7 L326.9,58.3 L327.0,60.9 L327.1,63.5 L327.2,66.1 L327.2,68.6 L327.4,71.2 L327.5,73.8 L327.6,76.4 L327.8,79.0 L327.9,81.6 L328.1,84.1 L328.3,86.7 L328.4,89.3 L328.6,91.9 L328.7,94.5 L326.0,94.9 L323.3,94.8 L320.6,94.9 L317.9,94.4 L315.3,93.2 M262.6,23.1 L262.6,25.7 L262.4,28.3 L262.1,30.8 L261.7,33.4 L261.5,36.0 L261.4,38.6 L261.5,41.1 L261.7,43.7 L261.9,46.3 L261.9,48.9 L261.9,51.5 L261.7,54.0 L261.4,56.6 L261.3,59.2 L261.3,61.8 L261.5,64.3 L261.7,66.9 L262.0,69.5 L262.2,72.1 L262.3,74.6 L262.2,77.2 L262.1,79.8 M312.0,39.4 L312.1,42.1 L312.3,44.8 L312.6,47.5 L312.8,50.3 L312.8,53.0 L312.5,55.6 L312.2,58.3 L312.0,61.0 L312.0,63.7 L311.9,66.4 L311.6,69.1 L311.1,71.8 L313.6,71.3 L316.0,70.3 L318.6,70.5 L321.2,71.0 L323.7,70.5 L326.2,70.0 M284.2,91.5 L284.5,89.0 L284.8,86.5 L285.0,84.0 L285.2,81.5 L285.2,79.0 L285.3,76.4 L285.3,73.9 L285.5,71.4 L285.7,68.9 L285.9,66.4 L286.2,63.9 L286.5,61.4 L286.7,58.9 L286.8,56.4 L286.8,53.9 L286.8,51.3 L286.6,48.8 L286.5,46.3 L286.5,43.8 L286.5,41.3 L286.5,38.8 L286.6,36.3 L286.8,33.7 L286.9,31.2 L286.9,28.7 L286.8,26.2 L286.7,23.7 L286.5,21.2 L283.1,22.2 L280.1,21.1 L277.1,19.6 M314.8,17.6 L315.0,20.1 L315.2,22.7 L315.4,25.2 L315.5,27.8 L315.6,30.3 L315.6,32.9 L315.5,35.5 L315.4,38.0 L315.3,40.6 L315.1,43.1 L314.9,45.7 L314.7,48.3 L314.6,50.8 L314.5,53.4 L314.6,55.9 L314.7,58.5 L314.8,61.0 L315.1,63.6 L315.4,66.1 L315.8,68.7 L316.2,71.2 L316.7,73.8 L317.1,76.3 L317.4,78.9 L317.7,81.4 L317.9,83.9 L318.1,86.5 L320.6,86.0 L323.0,85.4 L325.5,85.5 L328.1,85.7 L330.6,85.6 L333.0,85.0 L335.5,84.7 L338.1,84.9 L340.6,85.5 M295.5,17.1 L295.6,19.6 L295.8,22.2 L296.0,24.7 L296.3,27.2 L296.4,29.8 L296.3,32.3 L296.0,34.9 L295.6,37.4 L295.1,39.9 L294.6,42.4 L294.2,45.0 L293.8,47.5 L293.7,50.0 L293.8,52.6 L294.0,55.1 L294.3,57.7 L294.7,60.2 L294.9,62.8 L295.1,65.3 L295.1,67.8 L294.9,70.4 L294.5,72.9 L294.1,75.4 L293.7,78.0 L293.4,80.5 L293.2,83.0 L293.3,85.6 L293.5,88.1 L293.8,90.7 L294.2,93.2 L294.7,95.8 M219.9,86.2 L219.5,83.6 L219.6,81.0 L220.2,78.4 L220.8,75.7 L221.0,73.1 L220.7,70.5 L220.0,67.9 L219.4,65.3 L219.4,62.7 L219.8,60.1 L220.5,57.5 L220.9,54.9 L220.8,52.2 L220.3,49.6 L219.7,47.0 L219.3,44.4 L219.6,41.8 L222.2,41.6 L224.8,41.4 L227.4,41.4 L230.0,41.6 L232.6,41.8 L235.2,41.8 L237.8,41.3 L240.4,40.6 M265.6,39.7 L265.5,42.2 L265.5,44.7 L265.5,47.2 L265.5,49.7 L265.5,52.2 L265.5,54.7 L265.6,57.2 L265.6,59.7 L265.5,62.2 L265.4,64.7 L265.3,67.2 L265.2,69.7 L265.1,72.2 L265.1,74.7 L265.0,77.2 L265.0,79.7 L265.0,82.2 L264.9,84.7 L264.9,87.2 L264.8,89.7 L264.6,92.2 L264.5,94.7 L261.2,94.3 L258.0,93.2 M298.6,34.7 L298.5,37.3 L298.3,40.0 L298.0,42.7 L297.8,45.4 L297.8,48.1 L297.7,50.7 L297.5,53.4 L297.3,56.1 L297.2,58.8 L297.2,61.5 L297.2,64.2 L297.0,66.8 M237.1,83.1 L237.2,80.6 L237.3,78.0 L237.3,75.5 L237.3,73.0 L237.3,70.4 L237.1,67.9 L237.0,65.4 L236.8,62.8 L236.6,60.3 L236.5,57.7 L236.6,55.2 L236.7,52.7 L236.8,50.1 L237.0,47.6 L237.1,45.1 L237.2,42.6 L237.3,40.0 L237.3,37.5 L237.2,35.0 L237.1,32.4 L237.1,29.9 L237.1,27.3 L237.2,24.8 L237.4,22.3 L234.5,20.8 L231.5,20.8 L228.4,21.5 M322.0,59.0 L322.7,56.5 L323.3,53.9 L323.3,51.3 L322.9,48.8 L322.7,46.2 L322.9,43.6 L323.5,41.1 L324.0,38.5 L324.0,35.9 L323.5,33.4 L323.0,30.8 L323.0,28.2 L323.4,25.6 L323.8,23.1 L320.8,20.7 L317.0,21.3 M321.8,93.0 L321.8,90.5 L321.8,88.0 L321.7,85.5 L321.7,82.9 L321.7,80.4 L321.7,77.9 L321.7,75.4 L321.6,72.9 L321.6,70.3 L321.6,67.8 L321.6,65.3 L321.5,62.8 L321.5,60.3 L321.4,57.8 L321.3,55.2 L321.2,52.7 L321.1,50.2 L321.0,47.7 L320.9,45.2 L320.8,42.6 L320.7,40.1 L320.6,37.6 L320.5,35.1 L320.4,32.6 L320.3,30.1 L320.2,27.5 L320.1,25.0 L320.0,22.5 L319.8,20.0 L319.7,17.5 M292.6,89.1 L292.7,86.6 L293.0,84.0 L293.3,81.4 L293.7,78.8 L294.1,76.2 L294.4,73.6 L294.6,71.1 L294.7,68.5 L294.8,65.9 L294.7,63.3 L294.6,60.6 L294.6,58.0 L294.7,55.4 L294.9,52.9 L295.2,50.3 L295.6,47.7 L295.9,45.1 L296.3,42.5 L293.6,42.6 L290.9,41.7 L288.2,41.1 L285.5,41.6 L282.8,42.6 L280.1,43.0 M314.0,93.9 L314.0,91.4 L314.0,88.8 L314.0,86.2 L313.9,83.7 L313.8,81.1 L313.7,78.5 L313.5,76.0 L313.3,73.4 L313.0,70.8 L312.8,68.3 L312.7,65.7 L312.6,63.1 L312.6,60.6 L312.6,58.0 L312.7,55.4 L312.9,52.9 L313.0,50.3 L313.2,47.7 L313.4,45.2 L313.5,42.6 L313.6,40.0 L313.6,37.5 L313.6,34.9 L313.6,32.3 L313.5,29.8 L313.5,27.2 L313.5,24.7 L313.5,22.1 L313.6,19.5 M323.3,52.9 L323.2,55.5 L323.3,58.1 L323.7,60.7 L324.1,63.2 L324.4,65.8 L324.3,68.4 L324.0,70.9 L323.5,73.5 L323.2,76.0 L323.1,78.6 L323.2,81.2 L323.3,83.7 L323.1,86.3 L322.7,88.8 L322.0,91.4 L321.3,93.9 L324.0,94.2 L326.6,94.4 L329.2,94.5 L331.9,94.5 L334.5,94.5 L337.1,94.3 L339.7,94.0 L342.3,93.5 L344.9,92.9 M286.4,18.3 L286.3,20.8 L286.4,23.4 L286.4,25.9 L286.5,28.4 L286.5,30.9 L286.5,33.4 L286.5,35.9 L286.4,38.4 L286.2,40.9 L285.9,43.4 L285.7,45.8 L285.4,48.3 L285.0,50.8 L284.8,53.3 L284.5,55.8 L284.4,58.3 L284.3,60.8 L284.3,63.3 L284.4,65.8 L284.5,68.3 L284.7,70.8 L285.0,73.4 L285.2,75.9 M209.7,22.4 L209.7,25.0 L209.8,27.6 L209.8,30.1 L209.8,32.7 L209.8,35.2 L209.8,37.8 L209.9,40.4 L210.0,42.9 L210.0,45.5 L210.1,48.1 L210.2,50.6 L210.2,53.2 L210.3,55.8 L210.2,58.3 L210.1,60.9 L210.0,63.4 L209.9,66.0 L209.7,68.6 L209.5,71.1 L209.3,73.7 L209.1,76.3 L209.0,78.8 L209.0,81.4 L209.0,83.9 L209.0,86.5 L209.0,86.5 L209.0,86.3 L209.0,85.5 L209.0,85.2 L209.0,85.7 L209.0,86.0 L209.0,85.5 L209.0,85.3 M319.2,58.7 L319.0,56.0 L318.6,53.3 L318.3,50.6 L318.0,47.9 L317.8,45.2 L317.8,42.5 L317.7,39.8 L317.5,37.1 L317.3,34.4 L317.1,31.7 L317.0,29.0 L316.9,26.3 L319.7,26.6 L322.5,26.8 L325.2,26.0 L327.9,25.5 L330.7,25.5 L333.3,24.8 M246.1,56.1 L248.8,56.6 L251.4,57.0 L254.1,57.2 L256.9,57.3 L259.6,57.5 L262.2,57.9 L264.9,58.2 L267.6,58.3 L270.4,58.3 L273.1,58.5 L275.7,58.9 L276.7,61.4 L277.5,64.0 L277.4,66.5 L277.0,69.1 L276.9,71.7 L277.3,74.3 L277.9,76.8 L278.0,79.4 L277.3,82.0 M210.9,58.0 L213.4,58.1 L216.0,58.1 L218.5,58.2 L221.0,58.2 L223.5,58.2 L226.0,58.2 L228.6,58.2 L231.1,58.1 L233.6,58.0 L236.1,57.9 L238.6,57.8 L241.2,57.7 L243.7,57.7 L246.2,57.6 L248.7,57.5 L251.3,57.5 L253.8,57.5 L256.3,57.4 L258.8,57.4 L261.3,57.3 L263.9,57.2 L266.4,57.1 L268.9,57.0 M218.4,86.9 L220.9,86.7 L223.4,86.6 L226.0,86.5 L228.5,86.4 L231.0,86.4 L233.5,86.3 L236.1,86.3 L238.6,86.3 L241.1,86.3 L243.7,86.3 L246.2,86.4 L248.7,86.4 L251.3,86.5 L253.8,86.6 L256.3,86.8 L258.9,86.9 L261.4,87.0 L263.9,87.2 L266.5,87.3 L269.0,87.4 L271.5,87.5 L274.0,87.6 L276.6,87.6 L279.1,87.6 L281.6,87.6 L284.2,87.5 L286.7,87.4 L289.2,87.3 L291.8,87.1 L294.3,86.9 L296.8,86.7 L299.3,86.4 L301.9,86.2 L304.4,85.9 L306.9,85.6 L309.4,85.3 L312.0,85.1 L314.5,84.8 L317.0,84.5 M263.5,60.5 L266.0,60.5 L268.6,60.4 L271.1,60.4 L273.7,60.3 L276.3,60.3 L278.8,60.4 L281.4,60.5 L283.9,60.8 L286.4,61.1 L289.0,61.4 L291.5,61.8 L294.1,62.2 L296.6,62.5 L299.1,62.7 L301.7,62.9 L304.2,62.9 L306.8,62.9 L309.4,62.8 L311.9,62.6 L314.5,62.4 L317.0,62.3 L319.6,62.2 L322.1,62.1 L324.7,62.2 L327.2,62.3 L329.8,62.5 L332.3,62.7 L334.9,63.0 L337.4,63.3 L340.0,63.5 L342.5,63.7 L342.2,66.4 L341.3,69.2 L342.7,72.0 M314.3,59.0 L311.7,59.2 L309.2,59.5 L306.7,59.8 L304.2,60.0 L301.7,60.2 L299.2,60.3 L296.7,60.3 L294.2,60.3 L291.7,60.1 L289.2,59.9 L286.7,59.7 L284.2,59.4 L281.7,59.1 L279.2,58.9 L276.7,58.8 L274.2,58.7 L271.7,58.7 L269.2,58.8 L266.6,59.0 L264.1,59.2 L261.6,59.4 L259.1,59.6 L256.6,59.8 L254.1,60.0 L251.6,60.0 L249.1,60.0 L246.6,59.9 L244.1,59.7 L241.6,59.4 L239.1,59.1 L236.6,58.8 L234.1,58.5 L231.6,58.2 L229.1,58.1 L226.6,57.9 L224.1,57.9 L221.6,58.0 L219.0,58.1 L216.5,58.3 L214.0,58.5 L211.5,58.6 L209.0,58.8 L209.0,56.0 L209.0,52.8 L209.0,49.9 L209.0,46.6 M330.5,90.1 L328.0,89.9 L325.5,89.9 L323.0,89.8 L320.5,89.9 L318.0,90.0 L315.5,90.1 L313.0,90.2 L310.5,90.3 L308.0,90.4 L305.5,90.4 L303.0,90.3 L300.5,90.1 L298.0,89.9 L295.5,89.6 L293.0,89.3 L290.5,89.0 L288.0,88.7 L285.5,88.5 L283.0,88.3 L280.5,88.2 L278.0,88.2 L275.5,88.3 L273.0,88.5 L270.5,88.6 L268.0,88.9 L265.4,89.1 L262.9,89.3 L260.4,89.5 L257.9,89.6 L255.4,89.6 L252.9,89.6 L250.4,89.5 L247.9,89.3 L245.4,89.1 L242.9,88.9 L240.4,88.8 L237.9,88.6 L235.4,88.6 L232.9,88.6 L230.4,88.7 L227.9,88.8 L225.4,89.1 L222.9,89.3 L223.3,86.5 L223.7,83.6 L223.9,80.7 L223.6,77.8 L223.4,74.9 M335.7,92.2 L333.2,92.0 L330.7,91.8 L328.2,91.6 L325.7,91.5 L323.2,91.4 L320.7,91.3 L318.2,91.3 L315.7,91.3 L313.2,91.3 L310.7,91.4 L308.2,91.5 L305.7,91.6 L303.2,91.7 L300.7,91.8 L298.2,91.8 L295.7,91.8 L293.2,91.8 L290.7,91.7 L288.2,91.6 L285.7,91.5 L283.2,91.4 L280.7,91.3 L278.2,91.3 L275.6,91.3 L273.2,91.4 L270.7,91.5 L268.2,91.6 L265.7,91.8 L263.2,92.1 L260.7,92.3 L258.2,92.5 L255.7,92.8 L253.2,92.9 L250.7,93.1 L248.2,93.2 L245.7,93.2 L243.2,93.3 L240.7,93.3 L238.2,93.3 L235.7,93.3 L233.2,93.3 L230.7,93.4 L228.2,93.5 L227.9,96.0 L229.0,96.0 L229.5,96.0 L228.9,96.0 L228.3,96.0 L228.7,96.0 L229.2,96.0 L228.5,96.0 L227.3,96.0 M319.9,38.2 L317.4,38.1 L314.8,37.9 L312.2,37.8 L309.7,37.7 L307.1,37.6 L304.5,37.5 L302.0,37.4 L299.4,37.3 L296.8,37.2 L294.3,37.1 L291.7,37.0 L289.1,37.0 L286.6,36.9 L284.0,36.8 L281.4,36.7 L278.9,36.7 L276.3,36.6 L273.7,36.6 L271.2,36.5 L268.6,36.5 L266.0,36.5 L263.5,36.5 L260.9,36.5 L258.3,36.5 L255.8,36.6 L253.2,36.6 L250.6,36.7 L248.1,36.7 L245.5,36.8 L242.9,36.8 L240.4,36.8 L237.8,36.9 L235.2,36.9 M268.3,87.4 L265.7,87.8 L263.1,88.3 L260.5,88.7 L257.9,88.9 L255.2,88.9 L252.6,88.8 L250.0,88.5 L247.4,88.2 L244.7,87.9 L242.1,87.8 L239.5,87.9 L236.9,88.1 L234.3,88.5 L231.7,88.9 M316.3,17.0 L313.8,17.0 L311.3,17.0 L308.8,17.1 L306.2,17.4 L303.7,17.7 L301.2,18.0 L298.7,18.3 L296.2,18.6 L293.7,19.0 L291.2,19.2 L288.7,19.4 L286.2,19.5 L283.7,19.6 L281.2,19.6 L278.6,19.5 L276.1,19.3 L273.6,19.1 L271.1,18.9 L268.6,18.6 L266.1,18.3 L263.6,18.1 L261.1,17.8 L258.6,17.7 L256.0,17.5 L253.5,17.5 L251.0,17.5 L248.5,17.5 L246.0,17.6 L243.5,17.7 M215.9,19.3 L218.5,19.5 L221.0,19.6 L223.5,19.8 L226.0,19.9 L228.6,20.0 L231.1,20.1 L233.6,20.2 L236.1,20.2 L238.7,20.3 L241.2,20.3 L243.7,20.4 L246.2,20.5 L248.8,20.5 L251.3,20.7 L253.8,20.8 L256.3,20.9 L258.9,21.0 L261.4,21.0 L263.9,21.1 L266.5,21.1 L269.0,21.0 L271.5,21.0 L274.0,20.9 L276.6,20.8 L279.1,20.7 L281.6,20.6 L284.1,20.6 L286.7,20.5 L289.2,20.5 L291.7,20.5 L294.2,20.4 L296.8,20.4 L299.3,20.4 L301.8,20.3 L304.3,20.2 L306.9,20.1 L307.0,23.3 L306.0,26.4 M230.5,66.9 L233.0,67.1 L235.5,67.4 L238.0,67.7 L240.5,67.9 L243.1,68.1 L245.6,68.2 L248.1,68.3 L250.6,68.4 L253.1,68.3 L255.6,68.2 L258.2,68.1 L260.7,68.0 L263.2,67.8 L265.7,67.7 L268.2,67.5 L270.7,67.5 L273.2,67.4 L275.8,67.5 L278.3,67.6 L280.8,67.7 L283.3,67.9 L285.8,68.1 L288.3,68.3 L290.8,68.5 L293.4,68.7 L295.9,68.8 L298.4,68.9 L300.9,68.9 L303.4,68.9 L305.9,68.8 L308.4,68.7 L311.0,68.5 L313.5,68.2 L316.0,68.0 L318.5,67.8 L321.0,67.6 L323.5,67.4 L326.0,67.3 L328.6,67.2 L331.1,67.2 L333.6,67.2 L336.1,67.3 L338.6,67.4 L338.3,64.9 L338.9,62.3 L337.5,59.9 L337.6,57.3 M317.6,33.1 L315.0,33.3 L312.5,33.4 L309.9,33.5 L307.4,33.5 L304.8,33.6 L302.3,33.6 L299.7,33.7 L297.2,33.7 L294.6,33.7 L292.1,33.8 L289.5,33.8 L287.0,33.9 L284.5,34.0 L281.9,34.1 L279.4,34.2 L276.8,34.3 L274.3,34.4 L271.7,34.6 L269.2,34.7 L266.6,34.8 L264.1,34.9 L261.5,34.9 L259.0,34.9 L256.4,35.0 L253.9,34.9 L251.3,34.9 L248.8,34.9 L246.2,34.9 L243.7,34.9 L241.1,34.9 L238.6,34.9 L236.1,34.9 L233.5,35.0 L231.0,35.0 L228.4,35.1 L225.9,35.2 L223.3,35.3 L220.8,35.3 L218.2,35.4 L215.7,35.4 L213.1,35.5 L210.6,35.5 L210.8,32.6 L211.2,29.8 L211.0,27.0 L210.7,24.2 L210.4,21.5 L209.7,18.7 L209.0,17.0 M274.7,35.8 L272.2,35.6 L269.6,35.5 L267.0,35.3 L264.4,35.2 L261.8,35.0 L259.3,34.9 L256.7,34.8 L254.1,34.8 L251.5,34.7 L248.9,34.7 L246.3,34.7 L243.8,34.7 L241.2,34.6 L240.8,32.0 L240.5,29.3 L240.3,26.6 L240.2,24.0 L240.2,21.3 L240.3,18.6 L240.5,17.0 L240.7,17.0 M250.2,53.6 L252.8,53.7 L255.3,53.7 L257.9,53.5 L260.5,53.5 L263.0,53.6 L265.6,53.9 L268.1,54.4 L270.7,55.0 L273.2,55.4 L275.8,55.6 L278.4,55.5 L280.9,55.1 L283.5,54.7 L286.1,54.3 L288.7,54.0 L291.2,54.1 L293.8,54.3 L296.3,54.5 L298.9,54.7 L298.5,51.9 L298.1,49.0 L297.7,46.2 L297.5,43.3 L297.3,40.5 L297.0,37.7 L296.9,34.8 M241.2,54.5 L243.7,54.6 L246.3,54.7 L248.8,54.8 L251.3,54.9 L253.9,55.0 L256.4,55.1 L258.9,55.2 L261.5,55.3 L264.0,55.4 L266.5,55.5 L269.1,55.6 L271.6,55.6 L274.1,55.7 L276.6,55.8 L279.2,55.9 L281.7,55.9 L284.2,56.0 L286.8,56.1 L289.3,56.1 L291.8,56.2 L294.4,56.3 L296.9,56.3 L299.4,56.4 L302.0,56.4 L304.5,56.4 L307.0,56.5 L309.6,56.5 L312.1,56.5 L314.6,56.5 L317.2,56.5 L319.7,56.4 L322.2,56.4 L324.8,56.4 L327.3,56.3 L329.9,56.2 L332.4,56.1 L334.9,56.0 L337.5,55.9 L340.0,55.8 L342.5,55.7 L345.1,55.6 M262.0,50.5 L259.4,50.4 L256.7,49.8 L254.1,49.4 L251.5,49.5 L249.0,50.1 L246.5,50.7 L243.9,51.0 L241.3,51.0 L238.7,51.1 L236.2,51.8 L233.7,52.8 M269.1,75.0 L271.7,75.2 L274.2,75.3 L276.7,75.5 L279.3,75.7 L281.8,75.8 L284.4,75.8 L286.9,75.9 L289.4,75.8 L292.0,75.8 L294.5,75.7 L297.1,75.5 L299.6,75.4 L302.2,75.3 L304.7,75.2 L307.3,75.2 L309.8,75.2 L312.3,75.2 L314.9,75.4 L317.4,75.6 L319.9,75.9 L322.5,76.2 L325.0,76.5 L327.5,76.9 L330.1,77.3 L332.6,77.6 L335.1,78.0 L337.6,78.2 L340.2,78.4 L340.9,81.5 L339.5,84.4 M294.2,33.3 L291.7,33.3 L289.1,33.5 L286.5,33.7 L283.9,34.0 L281.3,34.4 L278.7,34.7 L276.1,34.9 L273.6,35.1 L271.0,35.2 L268.4,35.2 L265.8,35.1 L263.2,34.9 L260.6,34.8 L257.9,34.7 L255.4,34.7 L252.8,34.8 L250.2,35.0 L247.6,35.4 L245.0,35.8 L242.4,36.2 L239.9,36.6 L237.3,37.0 L234.7,37.3 L232.1,37.5 L232.2,40.2 L232.3,43.0 L232.5,45.6 L232.8,48.3 L233.1,51.0 L233.5,53.7 L233.9,56.4 M300.1,61.4 L297.6,61.2 L295.1,61.0 L292.6,60.9 L290.0,60.8 L287.5,60.7 L285.0,60.6 L282.5,60.6 L279.9,60.6 L277.4,60.6 L274.9,60.6 L272.3,60.6 L269.8,60.6 L267.3,60.5 L264.7,60.4 L262.2,60.3 L259.7,60.2 L257.2,60.0 L254.6,59.8 L252.1,59.6 L249.6,59.4 L247.1,59.3 L244.5,59.1 L242.0,59.0 L239.5,58.9 L237.0,58.8 L234.4,58.8 L231.9,58.8 L229.4,58.8 L226.8,58.9 L224.3,59.0 L221.8,59.2 M341.5,26.1 L339.0,26.3 L336.5,26.5 L333.9,26.7 L331.4,26.9 L328.8,27.1 L326.3,27.2 L323.8,27.4 L321.2,27.5 L318.7,27.5 L316.1,27.5 L313.6,27.5 L311.0,27.5 L308.5,27.4 L305.9,27.3 L303.4,27.3 L300.8,27.2 L298.3,27.2 L295.7,27.2 L293.2,27.3 L290.7,27.4 L288.1,27.5 L285.6,27.6 L283.0,27.8 L280.5,27.9 L277.9,28.1 L275.4,28.3 L272.9,28.4 L270.3,28.5 L267.8,28.6 L265.2,28.6 L262.7,28.6 L260.1,28.6 L257.6,28.5 L255.0,28.4 L252.5,28.3 L249.9,28.2 L247.4,28.1 L244.9,28.1 L242.3,28.0 L239.8,28.0 L237.2,28.1 L234.7,28.1 L232.1,28.3 L232.2,31.1 L232.4,34.1 L232.4,37.0 L231.8,39.8 L230.9,42.6 L230.3,45.4 M218.3,50.7 L220.8,50.8 L223.4,50.8 L225.9,50.9 L228.5,50.8 L231.0,50.8 L233.6,50.7 L236.1,50.6 L238.7,50.6 L241.3,50.5 L243.8,50.4 L246.4,50.3 L248.9,50.2 L251.5,50.2 L254.0,50.2 L256.6,50.2 L259.1,50.2 L261.7,50.2 L264.3,50.2 L266.8,50.2 L269.4,50.1 L271.9,50.1 L274.5,50.0 L277.0,49.9 L279.6,49.7 L282.1,49.6 L284.7,49.4 L287.2,49.1 L287.2,51.9 L286.7,54.6 L286.3,57.4 L286.4,60.1 L286.4,62.9 L286.1,65.7 L285.6,68.4 M297.2,64.8 L299.7,64.6 L302.3,64.7 L304.8,64.7 L307.3,64.4 L309.9,63.9 L312.4,63.4 L315.0,63.3 L317.5,63.8 L320.1,64.3 L322.6,64.7 L325.1,64.7 L327.7,64.6 L330.2,64.7 L329.7,67.5 L330.1,70.2 L329.4,73.0 L328.5,75.8 L329.2,78.6 L330.4,81.3 L330.5,84.0 L330.3,86.8 M298.4,24.1 L295.8,24.1 L293.3,24.2 L290.7,24.2 L288.2,24.2 L285.6,24.3 L283.1,24.3 L280.5,24.3 L278.0,24.3 L275.4,24.3 L272.9,24.3 L270.3,24.3 L267.8,24.2 L265.2,24.2 L262.7,24.2 L260.1,24.1 L257.6,24.0 L255.0,24.0 L252.5,23.9 L249.9,23.8 L247.4,23.7 L244.8,23.6 L242.3,23.5 L239.8,23.4 L240.0,20.5 L240.1,17.6 L240.0,17.0 L239.6,17.0 L239.2,17.0 M228.0,81.0 L230.5,81.3 L233.1,81.4 L235.6,81.3 L238.1,81.0 L240.6,80.6 L243.1,80.4 L245.7,80.5 L248.2,80.7 L250.7,81.1 L253.3,81.5 L255.8,81.9 L258.3,81.9 L260.8,81.8 L263.4,81.4 L265.9,80.8 L268.4,80.4 L270.9,80.1 L273.5,80.0 L276.0,80.1 L278.5,80.4 L281.0,80.6 L283.6,80.7 L286.1,80.5 L288.6,80.0 L291.1,79.5 M333.3,38.7 L330.7,38.9 L328.2,39.0 L325.6,38.9 L323.0,38.8 L320.4,38.5 L317.8,38.2 L315.2,37.8 L312.6,37.5 L310.1,37.2 L307.5,37.2 L304.9,37.3 L302.3,37.6 L299.8,38.0 L297.2,38.5 L294.6,39.0 L292.1,39.4 L289.5,39.7 L286.9,39.8 L284.3,39.9 L281.7,39.8 L279.2,39.7 L278.8,36.9 L279.0,34.2 L279.6,31.5 L279.8,28.8 M256.2,73.2 L253.5,73.5 L250.9,73.5 L248.2,73.2 L245.5,72.6 L242.9,72.1 L240.2,71.9 L237.6,72.1 L234.9,72.5 L232.3,73.1 L229.6,73.5 L227.0,73.5 L224.3,73.2 L221.6,72.8 L219.0,72.4 L216.3,72.4 L216.5,75.1 L216.6,77.8 L216.7,80.5 L216.6,83.2 L216.4,85.9 L216.0,88.6 L215.6,91.3 L215.1,94.0 L214.5,96.0 M262.7,93.9 L260.1,93.7 L257.5,93.8 L254.9,94.5 L252.3,95.4 L249.7,96.0 L247.1,96.0 L244.5,96.0 L241.9,95.5 L239.3,94.9 L236.7,94.6 L234.1,94.9 L231.5,95.4 L228.9,95.9 L229.7,93.0 L229.0,90.0 L228.9,87.0 L229.9,84.1 L229.5,81.1 M220.8,43.6 L223.3,43.8 L225.9,44.0 L228.4,44.2 L231.0,44.4 L233.5,44.7 L236.1,44.9 L238.6,45.1 L241.2,45.4 L243.7,45.6 L246.3,45.7 L248.8,45.9 L251.4,46.0 L253.9,46.1 L256.5,46.1 L259.0,46.2 L261.6,46.1 L264.1,46.1 L266.7,46.0 L269.2,45.9 L271.8,45.8 L274.3,45.6 L276.9,45.5 L279.4,45.3 L282.0,45.2 L284.5,45.1 L287.1,45.0 L289.6,44.9 L292.2,44.8 L294.7,44.8 L297.3,44.8 L299.8,44.9 L302.4,44.9 L304.9,45.0 L307.5,45.2 L310.0,45.3 L312.6,45.4 L315.1,45.6 L317.7,45.7 L320.2,45.9 M304.2,56.2 L301.7,56.3 L299.2,56.2 L296.7,56.1 L294.1,56.0 L291.6,55.9 L289.1,55.8 L286.5,55.7 L284.0,55.7 L281.5,55.7 L279.0,55.7 L276.4,55.8 L273.9,56.0 L271.4,56.2 L268.9,56.4 L266.3,56.6 L263.8,56.8 L261.3,57.0 L258.8,57.1 L256.2,57.2 L253.7,57.2 L251.2,57.2 L248.6,57.1 L246.1,57.0 L243.6,56.9 L241.1,56.8 L238.5,56.8 L236.0,56.8 L233.5,56.8 L234.9,54.4 L235.6,51.9 L235.3,49.3 L235.3,46.7 L235.8,44.2 L235.4,41.6 M323.3,84.1 L320.7,84.1 L318.2,84.2 L315.6,84.2 L313.1,84.3 L310.6,84.3 L308.0,84.4 L305.5,84.4 L302.9,84.5 L300.4,84.5 L297.8,84.6 L295.3,84.6 L292.7,84.7 L290.2,84.7 L287.7,84.8 L285.1,84.8 L282.6,84.8 L280.0,84.8 L277.5,84.8 L274.9,84.8 L272.4,84.8 L269.8,84.8 L267.3,84.8 L264.7,84.8 L262.2,84.8 L259.7,84.8 L257.1,84.8 M311.7,71.2 L309.2,71.5 L306.6,72.0 L304.1,72.6 L301.6,73.2 L299.1,73.5 L296.5,73.6 L294.0,73.3 L291.4,73.0 L288.9,72.8 L286.4,72.7 L283.8,73.0 L281.3,73.4 L278.8,73.7 L276.3,73.8 L273.7,73.7 L271.2,73.2 L268.6,72.7 L269.5,70.0 L269.5,67.2 L269.2,64.5 L269.3,61.8 L269.9,59.0 L270.3,56.3 L270.1,53.5 L269.3,50.8 L268.6,48.0 M267.8,69.2 L265.2,68.8 L262.7,68.9 L260.1,69.3 L257.5,69.7 L255.0,69.8 L252.4,69.4 L249.8,68.7 L247.2,68.1 L244.7,68.0 L242.1,68.5 L239.5,69.3 L237.0,70.0 L234.4,70.4 L231.8,70.3 L229.3,69.9 L226.7,69.7 L226.3,72.2 L225.7,74.7 L226.6,77.2 L225.6,79.7 L225.7,82.2 L226.7,84.8 L225.7,87.3 M244.4,85.2 L246.9,85.8 L249.4,86.5 L251.9,86.7 L254.4,86.3 L257.0,85.7 L259.5,85.5 L262.0,85.9 L264.5,86.7 L267.0,87.3 L269.5,87.3 L272.1,86.9 L274.6,86.5 L277.2,86.6 L279.7,87.3 L282.1,88.1 L282.0,91.4 L283.7,94.4 M220.3,76.9 L222.8,76.9 L225.3,77.0 L227.9,77.0 L230.4,77.1 L232.9,77.2 L235.4,77.3 L237.9,77.5 L240.4,77.6 L242.9,77.8 L245.4,77.9 L247.9,78.1 L250.4,78.2 L252.9,78.4 L255.5,78.5 L258.0,78.7 L260.5,78.8 L263.0,78.9 L265.5,79.0 L268.0,79.1 L270.5,79.1 L273.0,79.1 L275.5,79.1 L278.0,79.1 L280.6,79.1 L283.1,79.0 L285.6,78.9 L288.1,78.8 L290.6,78.7 L293.1,78.6 L295.6,78.4 L298.1,78.3 L300.6,78.2 L303.1,78.0 L305.6,77.9 L308.2,77.8 L310.7,77.6 L313.2,77.5 L315.7,77.4 L318.2,77.3 L320.7,77.3 L323.2,77.2 L325.7,77.2 L328.2,77.2 M281.8,36.4 L279.3,36.1 L276.7,35.9 L274.2,35.8 L271.6,35.8 L269.0,35.8 L266.5,35.9 L263.9,36.0 L261.3,36.1 L258.7,36.1 L256.2,36.1 L253.6,36.0 L251.1,35.9 L248.5,35.7 L246.0,35.4 L243.4,35.1 L240.8,34.7 L238.3,34.4 L235.7,34.1 L233.2,33.9 L230.6,33.8 L228.1,33.7 L225.5,33.8 L222.9,33.9 L220.3,34.0 L217.8,34.1 L218.0,37.0 L217.2,40.0 L218.3,42.9 L217.2,45.8 L218.5,48.8 M269.0,70.0 L266.3,69.8 L263.6,69.4 L261.0,69.1 L258.4,69.2 L255.8,69.7 L253.2,70.4 L250.6,71.0 L248.0,71.6 L248.1,68.9 L248.6,66.2 L248.6,63.6 L248.4,60.9 L248.7,58.2 L248.0,55.5 M221.4,84.6 L223.9,84.5 L226.5,84.4 L229.0,84.3 L231.5,84.3 L234.1,84.3 L236.6,84.3 L239.1,84.4 L241.7,84.5 L244.2,84.6 L246.8,84.7 L249.3,84.8 L251.8,84.9 L254.4,85.1 L256.9,85.2 L259.4,85.3 L262.0,85.4 L264.5,85.6 L267.0,85.7 L269.6,85.7 L272.1,85.8 L274.6,85.8 L277.2,85.9 L279.7,85.9 L282.3,85.9 L284.8,85.8 L287.3,85.8 L289.9,85.7 L292.4,85.7 L295.0,85.6 L297.5,85.5 L300.0,85.4 L302.6,85.4 L305.1,85.3 L307.6,85.3 L310.2,85.3 L312.7,85.3 L315.3,85.3 L317.8,85.3 L320.3,85.4 L322.9,85.5 L325.4,85.6 L327.9,85.8 L330.5,86.0 L329.9,89.0 L330.3,92.1 L328.6,95.0 L329.2,96.0 M231.8,77.5 L234.4,77.4 L236.9,77.3 L239.5,77.3 L242.1,77.2 L244.7,77.2 L247.3,77.1 L249.9,77.0 L252.5,76.9 L255.1,76.9 L257.7,77.0 L260.3,77.1 L262.9,77.2 L265.5,77.2 L268.1,77.3 L270.7,77.3 L273.3,77.4 L275.9,77.5 M334.3,91.6 L331.7,91.8 L329.2,91.9 L326.6,91.9 L324.1,91.8 L321.5,91.6 L319.0,91.3 L316.4,91.0 L313.9,90.8 L311.3,90.7 L308.8,90.7 L306.3,90.8 L303.7,91.0 L301.2,91.4 L298.7,91.8 L296.1,92.2 L293.6,92.6 L291.1,93.0 L288.5,93.2 L286.0,93.4 L283.5,93.4 L280.9,93.4 L278.4,93.2 L275.8,93.0 L273.3,92.8 L270.7,92.7 M300.1,57.6 L302.6,57.7 L305.1,57.4 L307.6,56.8 L310.1,56.2 L312.6,55.8 L315.2,55.6 L317.7,55.8 L320.2,56.3 L322.7,56.7 L325.2,57.0 L327.7,57.0 L330.2,56.7 L332.7,56.2 L335.2,55.8 L337.8,55.7 L340.3,55.9 L342.8,56.3 L345.3,56.9 L345.6,53.7 L345.1,50.6 L344.1,47.6 M278.6,25.5 L276.1,25.2 L273.5,24.8 L271.0,24.5 L268.4,24.3 L265.8,24.2 L263.2,24.1 L260.7,23.9 L258.1,23.6 L255.6,23.2 L253.0,22.9 L250.5,22.7 L247.9,22.6 L245.3,22.5 M221.2,33.2 L223.7,33.2 L226.3,33.3 L228.8,33.3 L231.4,33.3 L233.9,33.3 L236.4,33.4 L239.0,33.4 L241.5,33.4 L244.1,33.5 L246.6,33.5 L249.1,33.5 L251.7,33.6 L254.2,33.6 L256.8,33.6 L259.3,33.6 L261.8,33.6 L264.4,33.6 L266.9,33.6 L269.5,33.6 L272.0,33.5 L274.5,33.5 L277.1,33.4 L279.6,33.3 L282.1,33.2 L284.7,33.1 L287.2,33.0 L289.7,32.8 L292.3,32.7 L294.8,32.5 L297.4,32.3 L299.9,32.2 L302.4,32.0 L305.0,31.8 L307.5,31.6 L310.0,31.4 L312.6,31.2 L315.1,31.1 L317.6,30.9 L320.2,30.7 L319.6,27.9 L319.6,25.2 L319.5,22.4 L319.4,19.7 L320.1,17.0 L320.8,17.0 L321.2,17.0 M209.7,79.0 L212.3,79.3 L214.9,79.6 L217.5,79.8 L220.0,79.8 L222.6,79.8 L225.2,79.6 L227.8,79.5 L230.4,79.4 L233.0,79.2 L235.6,79.2 L238.2,79.2 L240.8,79.4 L243.3,79.6 L245.9,79.9 L248.5,80.2 L251.1,80.4 L253.7,80.7 L256.3,80.8 L258.9,80.9 L261.5,80.8 L264.0,80.6 L266.6,80.3 L269.2,79.9 L271.8,79.5 L274.4,79.2 L277.0,78.8 L277.4,81.6 L277.2,84.3 L276.2,87.1 L276.8,89.8 L277.5,92.6 L276.6,95.4 L276.5,96.0 M312.8,52.8 L310.2,52.8 L307.6,52.7 L305.1,52.6 L302.5,52.6 L299.9,52.5 L297.3,52.4 L294.8,52.4 L292.2,52.3 L289.6,52.2 L287.1,52.1 L284.5,52.0 L281.9,52.0 L279.3,51.9 L276.8,51.8 L274.2,51.7 L271.6,51.6 L269.0,51.5 L266.5,51.5 L263.9,51.4 L261.3,51.4 L258.7,51.3 L256.2,51.3 L253.6,51.3 L251.0,51.2 L248.4,51.2 L245.9,51.2 L243.3,51.2 L240.7,51.2 L238.1,51.2 L235.6,51.2 L233.0,51.2 M246.8,51.4 L249.3,51.4 L251.9,51.4 L254.4,51.5 L256.9,51.6 L259.5,51.8 L262.0,52.0 L264.5,52.2 L267.1,52.3 L269.6,52.4 L272.2,52.4 L274.7,52.3 L277.2,52.1 L279.7,51.8 L282.3,51.5 L284.8,51.1 L287.3,50.8 L289.8,50.5 L292.4,50.2 L294.9,50.0 L297.4,49.9 L299.9,49.9 L302.5,49.9 L305.0,50.1 L307.5,50.3 L310.1,50.5 L312.6,50.7 L315.2,50.9 L317.7,51.0 L320.2,51.1 M335.3,94.8 L332.7,95.1 L330.2,95.5 L327.6,95.9 L325.1,96.0 L322.5,96.0 L320.0,96.0 L317.4,96.0 L314.8,96.0 L312.2,96.0 L309.7,96.0 L307.1,96.0 L304.6,96.0 L302.0,96.0 L299.5,96.0 L296.9,96.0 L294.4,96.0 L291.8,96.0 L289.2,96.0 L286.6,96.0 L284.1,96.0 L281.5,96.0 L278.9,96.0 M232.2,82.9 L234.8,82.9 L237.3,82.8 L239.9,82.7 L242.4,82.6 L245.0,82.5 L247.5,82.4 L250.1,82.3 L252.6,82.3 L255.1,82.3 L257.7,82.4 L260.2,82.5 L262.8,82.6 L265.3,82.7 L267.9,82.8 L270.4,82.8 L273.0,82.8 L275.5,82.8 L278.1,82.6 L280.6,82.4 L283.1,82.2 L285.7,82.0 L288.2,81.7 L290.8,81.5 L293.3,81.4 L295.9,81.2 L298.4,81.2 L300.9,81.1 L303.5,81.1 L306.0,81.1 L308.6,81.1 L311.1,81.0 L313.7,80.9 L316.2,80.8 L318.7,80.6 L321.3,80.3 L323.8,80.0 L323.8,82.6 L324.2,85.3 L323.9,87.9 L323.3,90.5 L323.3,93.1 L322.7,95.7 M226.6,79.1 L229.2,79.4 L231.7,79.6 L234.3,79.8 L236.9,80.0 L239.4,80.2 L242.0,80.3 L244.6,80.4 L247.1,80.5 L249.7,80.6 L252.3,80.7 L254.8,80.9 L257.4,81.0 L260.0,81.1 L262.5,81.2 L265.1,81.3 L267.7,81.4 L270.3,81.4 L272.8,81.4 L275.4,81.3 L278.0,81.3 L280.6,81.3 L283.1,81.3 L285.7,81.3 L288.3,81.3 L290.8,81.4 L291.2,78.3 L291.5,75.2 L292.0,72.0 L289.5,69.1 M210.9,50.5 L213.4,50.6 L215.9,50.6 L218.5,50.5 L221.0,50.3 L223.5,50.1 L226.0,49.8 L228.5,49.5 L231.0,49.3 L233.5,49.1 L236.0,49.0 L238.5,49.1 L241.0,49.2 L243.5,49.4 L246.0,49.7 L248.6,50.0 L251.1,50.2 L253.6,50.4 L256.1,50.4 L258.6,50.4 L261.1,50.3 L263.6,50.1 L266.1,49.8 L268.6,49.6 L271.1,49.3 L273.6,49.1 L276.1,49.0 L278.7,48.9 L281.2,49.0 L283.7,49.2 L286.2,49.4 L286.7,46.7 L287.0,44.1 L287.5,41.4 L288.0,38.7 L287.8,36.0 L287.4,33.3 L287.2,30.7 L287.1,28.0 L286.6,25.3 M335.0,83.4 L332.4,83.3 L329.9,83.1 L327.3,82.9 L324.8,82.8 L322.2,82.6 L319.7,82.5 L317.1,82.4 L314.6,82.4 L312.0,82.3 L309.5,82.2 L306.9,82.2 L304.3,82.2 L301.8,82.2 L299.2,82.2 L296.7,82.2 L294.1,82.3 L291.6,82.3 L289.0,82.3 L286.4,82.4 L283.9,82.4 L281.3,82.5 L278.8,82.5 L276.2,82.5 L273.7,82.5 L271.1,82.5 L268.5,82.5 L266.0,82.5 L263.4,82.4 L260.9,82.4 L258.3,82.3 L255.8,82.3 L253.2,82.2 L250.7,82.1 L248.1,82.0 L245.5,81.9 L243.0,81.9 L240.4,81.8 L237.9,81.7 L235.3,81.6 L232.8,81.6 L230.2,81.5 L230.6,84.1 L230.9,86.6 L230.8,89.1 L230.8,91.7 M287.8,75.0 L285.3,74.9 L282.8,74.8 L280.3,74.7 L277.8,74.6 L275.3,74.5 L272.8,74.4 L270.3,74.2 L267.8,74.0 L265.3,73.9 L262.8,73.7 L260.3,73.5 L257.8,73.4 L255.2,73.4 L252.7,73.3 L250.2,73.3 L247.7,73.3 L245.2,73.3 L242.7,73.3 L240.2,73.3 L237.7,73.2 L235.2,73.1 L235.8,70.5 L235.3,68.0 L235.0,65.5 L235.4,63.0 L235.4,60.5 L234.5,58.0 M286.7,86.1 L289.3,86.3 L291.8,86.4 L294.4,86.5 L296.9,86.5 L299.5,86.7 L302.1,86.8 L304.6,87.0 L307.2,87.2 L309.7,87.3 L312.3,87.3 L314.9,87.1 L317.4,86.9 L320.0,86.6 L322.5,86.4 L325.1,86.2 L327.7,86.1 L330.2,86.0 L332.8,85.8 L331.9,88.9 L331.8,92.1 M284.9,18.2 L282.3,18.1 L279.7,18.0 L277.1,17.8 L274.5,17.7 L271.9,17.6 L269.4,17.4 L266.8,17.3 L264.2,17.2 L261.6,17.1 L259.0,17.0 L256.4,17.0 L253.9,17.0 L251.3,17.0 L248.7,17.0 L246.1,17.1 L243.5,17.1 L240.9,17.2 L238.4,17.3 L235.8,17.4 L233.2,17.6 L230.6,17.7 L228.0,17.8 L225.4,18.0 L222.9,18.1 L220.3,18.2 L217.7,18.3 L215.1,18.4 L212.5,18.6 L209.9,18.6 M309.3,77.9 L306.5,78.2 L303.9,77.6 L301.2,76.4 L298.5,75.5 L295.8,75.5 L293.0,76.3 L290.3,76.7 L287.6,76.3 L284.9,75.5 L282.2,75.1 L279.5,75.6 M247.3,95.2 L249.8,95.2 L252.3,95.2 L254.8,95.2 L257.3,95.1 L259.8,95.0 L262.4,94.8 L264.9,94.6 L267.4,94.4 L269.9,94.1 L272.4,93.8 L274.9,93.5 L277.4,93.2 L280.0,93.0 L282.5,92.7 L285.0,92.6 L287.5,92.5 L290.0,92.4 L292.5,92.4 L295.1,92.5 L297.6,92.6 L300.1,92.7 L302.6,92.9 L305.2,93.0 L307.7,93.1 L310.2,93.2 L312.7,93.3 L315.2,93.3 L317.8,93.3 L320.3,93.2 L322.8,93.2 L325.3,93.0 L327.8,92.9 L330.4,92.8 L332.9,92.7 L335.4,92.6 L337.9,92.5 L340.4,92.5 M224.8,37.3 L224.2,38.4 L223.4,40.4 L221.9,40.6 L221.4,40.5 L221.4,39.8 L218.3,37.5 L218.6,35.9 L218.2,36.8 L218.8,37.4 L222.4,34.7 L220.8,33.8 L224.0,35.3 M290.3,26.7 L289.5,28.5 L289.4,30.2 L287.6,30.1 L283.4,30.9 L284.9,30.7 L280.7,29.0 L281.8,29.6 L282.6,23.4 L281.7,24.8 L282.6,22.6 L285.6,21.5 L285.8,22.5 M287.4,67.3 L286.8,70.3 L284.8,72.6 L284.9,72.1 L283.8,72.8 L278.7,71.3 L278.3,71.3 L277.0,69.8 L276.5,65.0 L275.6,65.2 L279.2,62.3 L282.7,61.0 L281.9,60.3 M305.8,80.0 L306.8,81.4 L304.3,83.8 L302.7,84.7 L302.1,84.6 L301.7,83.9 L300.0,83.1 L299.0,82.6 L299.9,76.3 L298.3,80.6 L301.8,75.2 L298.9,76.3 L303.2,75.4 M334.5,78.7 L334.0,80.8 L333.4,82.0 L330.5,82.6 L328.3,82.9 L328.2,82.7 L327.9,81.8 L326.8,80.9 L326.4,80.1 L329.1,75.0 L329.6,74.6 L332.3,75.2 L332.1,74.4 M263.5,23.0 L262.9,27.0 L261.8,28.5 L256.7,30.2 L254.3,31.2 L252.2,32.3 L247.5,24.9 L246.9,27.3 L247.1,25.9 L248.4,19.9 L252.6,17.0 L246.9,18.0 L250.7,17.0 M275.7,89.0 L276.2,92.0 L274.1,92.3 L274.0,93.5 L270.9,95.1 L266.4,93.1 L266.1,89.1 L265.8,92.7 L265.2,89.7 L266.3,90.0 L272.6,84.2 L274.1,85.2 L266.7,85.4 M315.9,70.5 L316.0,73.8 L314.5,75.4 L312.9,76.2 L306.9,76.1 L305.3,77.5 L303.1,72.3 L301.6,67.9 L302.6,70.6 L308.6,64.4 L305.3,64.2 L316.4,65.9 L312.1,63.5 M233.3,69.9 L230.9,72.6 L231.8,75.0 L229.5,75.5 L225.8,76.1 L220.4,75.2 L218.8,74.9 L216.4,68.3 L220.6,65.1 L222.3,62.2 L218.4,68.4 L230.9,66.6 L221.5,62.5 M315.6,68.3 L314.3,69.6 L313.9,71.0 L312.7,71.3 L310.3,71.5 L308.7,71.0 L309.7,71.3 L308.0,70.1 L308.1,66.5 L308.7,66.3 L309.0,66.1 L312.7,65.7 L310.4,64.6 M280.8,52.5 L280.6,53.7 L279.6,55.5 L279.8,55.1 L276.5,56.0 L277.7,56.3 L277.0,56.1 L275.2,53.3 L274.9,53.5 L275.2,51.7 L278.3,49.8 L275.6,50.2 L281.5,51.2 M271.5,72.2 L269.7,75.8 L267.7,78.1 L263.8,81.0 L257.6,79.6 L255.8,80.7 L249.5,72.5 L251.9,78.4 L252.2,76.9 L254.5,63.9 L256.6,65.2 L258.9,63.1 L265.5,64.7" fill="none" stroke="#f2a472" stroke-width="0.8" stroke-linejoin="round" stroke-linecap="round"/>
<line x1="167.40" y1="106.20" x2="192.00" y2="106.20" stroke="#222" stroke-width="0.9" />
<text transform="translate(182.00 111.86) scale(0.1)" x="0" y="0" font-size="60.0" text-anchor="middle" fill="#111" stroke="#111" stroke-width="1.50" textLength="157.0" lengthAdjust="spacingAndGlyphs">10 cm</text>
<line x1="24.90" y1="118.50" x2="39.50" y2="118.50" stroke="#2e78d2" stroke-width="1.0" />
<circle cx="32.20" cy="118.50" r="1.4" fill="#2e78d2"/>
<text transform="translate(40.60 120.93) scale(0.1)" x="0" y="0" font-size="62.0" text-anchor="start" fill="#222" stroke="#222" stroke-width="1.20" textLength="380.0" lengthAdjust="spacingAndGlyphs">hα-syn-/control</text>
<line x1="81.80" y1="118.50" x2="94.10" y2="118.50" stroke="#f57e2a" stroke-width="1.0" />
<circle cx="88.00" cy="118.50" r="1.4" fill="#f57e2a"/>
<text transform="translate(96.40 120.93) scale(0.1)" x="0" y="0" font-size="62.0" text-anchor="start" fill="#222" stroke="#222" stroke-width="1.20" textLength="390.0" lengthAdjust="spacingAndGlyphs">hα-syn+/control</text>
<line x1="33.80" y1="127.00" x2="33.80" y2="188.40" stroke="#555" stroke-width="1.0" />
<line x1="33.80" y1="188.40" x2="121.00" y2="188.40" stroke="#555" stroke-width="1.0" />
<line x1="32.60" y1="188.40" x2="33.80" y2="188.40" stroke="#444" stroke-width="0.6" />
<text transform="translate(28.40 190.42) scale(0.1)" x="0" y="0" font-size="56.0" text-anchor="end" fill="#222" stroke="#222" stroke-width="1.40" textLength="56.1" lengthAdjust="spacingAndGlyphs">20</text>
<line x1="32.60" y1="181.58" x2="33.80" y2="181.58" stroke="#444" stroke-width="0.6" />
<text transform="translate(28.40 183.59) scale(0.1)" x="0" y="0" font-size="56.0" text-anchor="end" fill="#222" stroke="#222" stroke-width="1.40" textLength="56.1" lengthAdjust="spacingAndGlyphs">25</text>
<line x1="32.60" y1="174.76" x2="33.80" y2="174.76" stroke="#444" stroke-width="0.6" />
<text transform="translate(28.40 176.77) scale(0.1)" x="0" y="0" font-size="56.0" text-anchor="end" fill="#222" stroke="#222" stroke-width="1.40" textLength="56.1" lengthAdjust="spacingAndGlyphs">30</text>
<line x1="32.60" y1="167.93" x2="33.80" y2="167.93" stroke="#444" stroke-width="0.6" />
<text transform="translate(28.40 169.95) scale(0.1)" x="0" y="0" font-size="56.0" text-anchor="end" fill="#222" stroke="#222" stroke-width="1.40" textLength="56.1" lengthAdjust="spacingAndGlyphs">35</text>
<line x1="32.60" y1="161.11" x2="33.80" y2="161.11" stroke="#444" stroke-width="0.6" />
<text transform="translate(28.40 163.13) scale(0.1)" x="0" y="0" font-size="56.0" text-anchor="end" fill="#222" stroke="#222" stroke-width="1.40" textLength="56.1" lengthAdjust="spacingAndGlyphs">40</text>
<line x1="32.60" y1="154.29" x2="33.80" y2="154.29" stroke="#444" stroke-width="0.6" />
<text transform="translate(28.40 156.30) scale(0.1)" x="0" y="0" font-size="56.0" text-anchor="end" fill="#222" stroke="#222" stroke-width="1.40" textLength="56.1" lengthAdjust="spacingAndGlyphs">45</text>
<line x1="32.60" y1="147.47" x2="33.80" y2="147.47" stroke="#444" stroke-width="0.6" />
<text transform="translate(28.40 149.48) scale(0.1)" x="0" y="0" font-size="56.0" text-anchor="end" fill="#222" stroke="#222" stroke-width="1.40" textLength="56.1" lengthAdjust="spacingAndGlyphs">50</text>
<line x1="32.60" y1="140.64" x2="33.80" y2="140.64" stroke="#444" stroke-width="0.6" />
<text transform="translate(28.40 142.66) scale(0.1)" x="0" y="0" font-size="56.0" text-anchor="end" fill="#222" stroke="#222" stroke-width="1.40" textLength="56.1" lengthAdjust="spacingAndGlyphs">55</text>
<line x1="32.60" y1="133.82" x2="33.80" y2="133.82" stroke="#444" stroke-width="0.6" />
<text transform="translate(28.40 135.84) scale(0.1)" x="0" y="0" font-size="56.0" text-anchor="end" fill="#222" stroke="#222" stroke-width="1.40" textLength="56.1" lengthAdjust="spacingAndGlyphs">60</text>
<line x1="32.60" y1="127.00" x2="33.80" y2="127.00" stroke="#444" stroke-width="0.6" />
<text transform="translate(28.40 129.02) scale(0.1)" x="0" y="0" font-size="56.0" text-anchor="end" fill="#222" stroke="#222" stroke-width="1.40" textLength="56.1" lengthAdjust="spacingAndGlyphs">65</text>
<line x1="44.70" y1="188.40" x2="44.70" y2="189.60" stroke="#444" stroke-width="0.6" />
<text transform="translate(44.70 198.02) scale(0.1)" x="0" y="0" font-size="56.0" text-anchor="middle" fill="#222" stroke="#222" stroke-width="1.20" textLength="100.9" lengthAdjust="spacingAndGlyphs">0-10</text>
<line x1="66.50" y1="188.40" x2="66.50" y2="189.60" stroke="#444" stroke-width="0.6" />
<text transform="translate(66.50 198.02) scale(0.1)" x="0" y="0" font-size="56.0" text-anchor="middle" fill="#222" stroke="#222" stroke-width="1.20" textLength="128.9" lengthAdjust="spacingAndGlyphs">10-20</text>
<line x1="88.40" y1="188.40" x2="88.40" y2="189.60" stroke="#444" stroke-width="0.6" />
<text transform="translate(88.40 198.02) scale(0.1)" x="0" y="0" font-size="56.0" text-anchor="middle" fill="#222" stroke="#222" stroke-width="1.20" textLength="128.9" lengthAdjust="spacingAndGlyphs">20-30</text>
<line x1="110.20" y1="188.40" x2="110.20" y2="189.60" stroke="#444" stroke-width="0.6" />
<text transform="translate(110.20 198.02) scale(0.1)" x="0" y="0" font-size="56.0" text-anchor="middle" fill="#222" stroke="#222" stroke-width="1.20" textLength="128.9" lengthAdjust="spacingAndGlyphs">30-40</text>
<line x1="44.70" y1="139.28" x2="44.70" y2="147.47" stroke="#666" stroke-width="0.6" />
<line x1="42.80" y1="139.28" x2="46.60" y2="139.28" stroke="#666" stroke-width="0.6" />
<line x1="42.80" y1="147.47" x2="46.60" y2="147.47" stroke="#666" stroke-width="0.6" />
<line x1="66.50" y1="161.79" x2="66.50" y2="165.89" stroke="#666" stroke-width="0.6" />
<line x1="64.60" y1="161.79" x2="68.40" y2="161.79" stroke="#666" stroke-width="0.6" />
<line x1="64.60" y1="165.89" x2="68.40" y2="165.89" stroke="#666" stroke-width="0.6" />
<line x1="88.40" y1="167.25" x2="88.40" y2="171.34" stroke="#666" stroke-width="0.6" />
<line x1="86.50" y1="167.25" x2="90.30" y2="167.25" stroke="#666" stroke-width="0.6" />
<line x1="86.50" y1="171.34" x2="90.30" y2="171.34" stroke="#666" stroke-width="0.6" />
<line x1="110.20" y1="169.98" x2="110.20" y2="174.07" stroke="#666" stroke-width="0.6" />
<line x1="108.30" y1="169.98" x2="112.10" y2="169.98" stroke="#666" stroke-width="0.6" />
<line x1="108.30" y1="174.07" x2="112.10" y2="174.07" stroke="#666" stroke-width="0.6" />
<line x1="44.70" y1="131.50" x2="44.70" y2="138.32" stroke="#666" stroke-width="0.6" />
<line x1="42.80" y1="131.50" x2="46.60" y2="131.50" stroke="#666" stroke-width="0.6" />
<line x1="42.80" y1="138.32" x2="46.60" y2="138.32" stroke="#666" stroke-width="0.6" />
<line x1="66.50" y1="149.10" x2="66.50" y2="154.56" stroke="#666" stroke-width="0.6" />
<line x1="64.60" y1="149.10" x2="68.40" y2="149.10" stroke="#666" stroke-width="0.6" />
<line x1="64.60" y1="154.56" x2="68.40" y2="154.56" stroke="#666" stroke-width="0.6" />
<line x1="88.40" y1="154.29" x2="88.40" y2="161.11" stroke="#666" stroke-width="0.6" />
<line x1="86.50" y1="154.29" x2="90.30" y2="154.29" stroke="#666" stroke-width="0.6" />
<line x1="86.50" y1="161.11" x2="90.30" y2="161.11" stroke="#666" stroke-width="0.6" />
<line x1="110.20" y1="156.34" x2="110.20" y2="163.16" stroke="#666" stroke-width="0.6" />
<line x1="108.30" y1="156.34" x2="112.10" y2="156.34" stroke="#666" stroke-width="0.6" />
<line x1="108.30" y1="163.16" x2="112.10" y2="163.16" stroke="#666" stroke-width="0.6" />
<path d="M44.70,143.37 L66.50,163.84 L88.40,169.30 L110.20,172.03" fill="none" stroke="#f57e2a" stroke-width="1.0" stroke-linejoin="round" />
<path d="M44.70,134.91 L66.50,151.83 L88.40,157.70 L110.20,159.75" fill="none" stroke="#2e78d2" stroke-width="1.0" stroke-linejoin="round" />
<circle cx="44.70" cy="143.37" r="1.35" fill="#f57e2a"/>
<circle cx="66.50" cy="163.84" r="1.35" fill="#f57e2a"/>
<circle cx="88.40" cy="169.30" r="1.35" fill="#f57e2a"/>
<circle cx="110.20" cy="172.03" r="1.35" fill="#f57e2a"/>
<circle cx="44.70" cy="134.91" r="1.35" fill="#2e78d2"/>
<circle cx="66.50" cy="151.83" r="1.35" fill="#2e78d2"/>
<circle cx="88.40" cy="157.70" r="1.35" fill="#2e78d2"/>
<circle cx="110.20" cy="159.75" r="1.35" fill="#2e78d2"/>
<text transform="translate(66.00 147.96) scale(0.1)" x="0" y="0" font-size="46.0" text-anchor="middle" fill="#333" font-weight="bold" stroke="#333" stroke-width="2.20">**</text>
<text transform="translate(87.80 153.76) scale(0.1)" x="0" y="0" font-size="46.0" text-anchor="middle" fill="#333" font-weight="bold" stroke="#333" stroke-width="2.20">*</text>
<text transform="translate(109.80 155.96) scale(0.1)" x="0" y="0" font-size="46.0" text-anchor="middle" fill="#333" font-weight="bold" stroke="#333" stroke-width="2.20">*</text>
<text transform="translate(17.10 157.60) rotate(-90) translate(0 2.16) scale(0.1)" x="0" y="0" font-size="60.0" text-anchor="middle" fill="#222" font-weight="bold" stroke="#222" stroke-width="1.20" textLength="508.0" lengthAdjust="spacingAndGlyphs">Distance traveled (m)</text>
<text transform="translate(77.40 207.22) scale(0.1)" x="0" y="0" font-size="56.0" text-anchor="middle" fill="#222" font-weight="bold" stroke="#222" stroke-width="1.20" textLength="265.0" lengthAdjust="spacingAndGlyphs">Time (min)</text>
<line x1="149.70" y1="126.30" x2="149.70" y2="188.20" stroke="#555" stroke-width="1.0" />
<line x1="149.70" y1="188.20" x2="242.00" y2="188.20" stroke="#555" stroke-width="1.0" />
<line x1="148.50" y1="188.20" x2="149.70" y2="188.20" stroke="#444" stroke-width="0.6" />
<text transform="translate(145.20 190.22) scale(0.1)" x="0" y="0" font-size="56.0" text-anchor="end" fill="#222" stroke="#222" stroke-width="1.40" textLength="84.1" lengthAdjust="spacingAndGlyphs">150</text>
<line x1="148.50" y1="177.88" x2="149.70" y2="177.88" stroke="#444" stroke-width="0.6" />
<text transform="translate(145.20 179.90) scale(0.1)" x="0" y="0" font-size="56.0" text-anchor="end" fill="#222" stroke="#222" stroke-width="1.40" textLength="84.1" lengthAdjust="spacingAndGlyphs">200</text>
<line x1="148.50" y1="167.57" x2="149.70" y2="167.57" stroke="#444" stroke-width="0.6" />
<text transform="translate(145.20 169.58) scale(0.1)" x="0" y="0" font-size="56.0" text-anchor="end" fill="#222" stroke="#222" stroke-width="1.40" textLength="84.1" lengthAdjust="spacingAndGlyphs">250</text>
<line x1="148.50" y1="157.25" x2="149.70" y2="157.25" stroke="#444" stroke-width="0.6" />
<text transform="translate(145.20 159.27) scale(0.1)" x="0" y="0" font-size="56.0" text-anchor="end" fill="#222" stroke="#222" stroke-width="1.40" textLength="84.1" lengthAdjust="spacingAndGlyphs">300</text>
<line x1="148.50" y1="146.93" x2="149.70" y2="146.93" stroke="#444" stroke-width="0.6" />
<text transform="translate(145.20 148.95) scale(0.1)" x="0" y="0" font-size="56.0" text-anchor="end" fill="#222" stroke="#222" stroke-width="1.40" textLength="84.1" lengthAdjust="spacingAndGlyphs">350</text>
<line x1="148.50" y1="136.62" x2="149.70" y2="136.62" stroke="#444" stroke-width="0.6" />
<text transform="translate(145.20 138.63) scale(0.1)" x="0" y="0" font-size="56.0" text-anchor="end" fill="#222" stroke="#222" stroke-width="1.40" textLength="84.1" lengthAdjust="spacingAndGlyphs">400</text>
<line x1="148.50" y1="126.30" x2="149.70" y2="126.30" stroke="#444" stroke-width="0.6" />
<text transform="translate(145.20 128.32) scale(0.1)" x="0" y="0" font-size="56.0" text-anchor="end" fill="#222" stroke="#222" stroke-width="1.40" textLength="84.1" lengthAdjust="spacingAndGlyphs">450</text>
<line x1="161.30" y1="188.20" x2="161.30" y2="189.40" stroke="#444" stroke-width="0.6" />
<text transform="translate(161.30 197.82) scale(0.1)" x="0" y="0" font-size="56.0" text-anchor="middle" fill="#222" stroke="#222" stroke-width="1.20" textLength="100.9" lengthAdjust="spacingAndGlyphs">0-10</text>
<line x1="184.30" y1="188.20" x2="184.30" y2="189.40" stroke="#444" stroke-width="0.6" />
<text transform="translate(184.30 197.82) scale(0.1)" x="0" y="0" font-size="56.0" text-anchor="middle" fill="#222" stroke="#222" stroke-width="1.20" textLength="128.9" lengthAdjust="spacingAndGlyphs">10-20</text>
<line x1="207.30" y1="188.20" x2="207.30" y2="189.40" stroke="#444" stroke-width="0.6" />
<text transform="translate(207.30 197.82) scale(0.1)" x="0" y="0" font-size="56.0" text-anchor="middle" fill="#222" stroke="#222" stroke-width="1.20" textLength="128.9" lengthAdjust="spacingAndGlyphs">20-30</text>
<line x1="230.30" y1="188.20" x2="230.30" y2="189.40" stroke="#444" stroke-width="0.6" />
<text transform="translate(230.30 197.82) scale(0.1)" x="0" y="0" font-size="56.0" text-anchor="middle" fill="#222" stroke="#222" stroke-width="1.20" textLength="128.9" lengthAdjust="spacingAndGlyphs">30-40</text>
<line x1="161.30" y1="139.51" x2="161.30" y2="151.06" stroke="#666" stroke-width="0.6" />
<line x1="159.40" y1="139.51" x2="163.20" y2="139.51" stroke="#666" stroke-width="0.6" />
<line x1="159.40" y1="151.06" x2="163.20" y2="151.06" stroke="#666" stroke-width="0.6" />
<line x1="184.30" y1="163.23" x2="184.30" y2="170.66" stroke="#666" stroke-width="0.6" />
<line x1="182.40" y1="163.23" x2="186.20" y2="163.23" stroke="#666" stroke-width="0.6" />
<line x1="182.40" y1="170.66" x2="186.20" y2="170.66" stroke="#666" stroke-width="0.6" />
<line x1="207.30" y1="168.80" x2="207.30" y2="174.58" stroke="#666" stroke-width="0.6" />
<line x1="205.40" y1="168.80" x2="209.20" y2="168.80" stroke="#666" stroke-width="0.6" />
<line x1="205.40" y1="174.58" x2="209.20" y2="174.58" stroke="#666" stroke-width="0.6" />
<line x1="230.30" y1="173.55" x2="230.30" y2="179.33" stroke="#666" stroke-width="0.6" />
<line x1="228.40" y1="173.55" x2="232.20" y2="173.55" stroke="#666" stroke-width="0.6" />
<line x1="228.40" y1="179.33" x2="232.20" y2="179.33" stroke="#666" stroke-width="0.6" />
<line x1="161.30" y1="131.87" x2="161.30" y2="139.30" stroke="#666" stroke-width="0.6" />
<line x1="159.40" y1="131.87" x2="163.20" y2="131.87" stroke="#666" stroke-width="0.6" />
<line x1="159.40" y1="139.30" x2="163.20" y2="139.30" stroke="#666" stroke-width="0.6" />
<line x1="184.30" y1="145.28" x2="184.30" y2="153.54" stroke="#666" stroke-width="0.6" />
<line x1="182.40" y1="145.28" x2="186.20" y2="145.28" stroke="#666" stroke-width="0.6" />
<line x1="182.40" y1="153.54" x2="186.20" y2="153.54" stroke="#666" stroke-width="0.6" />
<line x1="207.30" y1="153.95" x2="207.30" y2="161.38" stroke="#666" stroke-width="0.6" />
<line x1="205.40" y1="153.95" x2="209.20" y2="153.95" stroke="#666" stroke-width="0.6" />
<line x1="205.40" y1="161.38" x2="209.20" y2="161.38" stroke="#666" stroke-width="0.6" />
<line x1="230.30" y1="156.01" x2="230.30" y2="163.44" stroke="#666" stroke-width="0.6" />
<line x1="228.40" y1="156.01" x2="232.20" y2="156.01" stroke="#666" stroke-width="0.6" />
<line x1="228.40" y1="163.44" x2="232.20" y2="163.44" stroke="#666" stroke-width="0.6" />
<path d="M161.30,145.28 L184.30,166.95 L207.30,171.69 L230.30,176.44" fill="none" stroke="#f57e2a" stroke-width="1.0" stroke-linejoin="round" />
<path d="M161.30,135.58 L184.30,149.41 L207.30,157.66 L230.30,159.73" fill="none" stroke="#2e78d2" stroke-width="1.0" stroke-linejoin="round" />
<circle cx="161.30" cy="145.28" r="1.35" fill="#f57e2a"/>
<circle cx="184.30" cy="166.95" r="1.35" fill="#f57e2a"/>
<circle cx="207.30" cy="171.69" r="1.35" fill="#f57e2a"/>
<circle cx="230.30" cy="176.44" r="1.35" fill="#f57e2a"/>
<circle cx="161.30" cy="135.58" r="1.35" fill="#2e78d2"/>
<circle cx="184.30" cy="149.41" r="1.35" fill="#2e78d2"/>
<circle cx="207.30" cy="157.66" r="1.35" fill="#2e78d2"/>
<circle cx="230.30" cy="159.73" r="1.35" fill="#2e78d2"/>
<text transform="translate(183.90 144.66) scale(0.1)" x="0" y="0" font-size="46.0" text-anchor="middle" fill="#333" font-weight="bold" stroke="#333" stroke-width="2.20">**</text>
<text transform="translate(207.10 153.16) scale(0.1)" x="0" y="0" font-size="46.0" text-anchor="middle" fill="#333" font-weight="bold" stroke="#333" stroke-width="2.20">*</text>
<text transform="translate(230.30 155.06) scale(0.1)" x="0" y="0" font-size="46.0" text-anchor="middle" fill="#333" font-weight="bold" stroke="#333" stroke-width="2.20">*</text>
<text transform="translate(130.30 157.30) rotate(-90) translate(0 2.16) scale(0.1)" x="0" y="0" font-size="60.0" text-anchor="middle" fill="#222" font-weight="bold" stroke="#222" stroke-width="1.20" textLength="260.0" lengthAdjust="spacingAndGlyphs">Transitions</text>
<text transform="translate(196.20 207.02) scale(0.1)" x="0" y="0" font-size="56.0" text-anchor="middle" fill="#222" font-weight="bold" stroke="#222" stroke-width="1.20" textLength="265.0" lengthAdjust="spacingAndGlyphs">Time (min)</text>
<line x1="265.20" y1="127.80" x2="265.20" y2="187.50" stroke="#555" stroke-width="1.0" />
<line x1="265.20" y1="187.50" x2="358.00" y2="187.50" stroke="#555" stroke-width="1.0" />
<line x1="264.00" y1="187.50" x2="265.20" y2="187.50" stroke="#444" stroke-width="0.6" />
<text transform="translate(260.70 189.52) scale(0.1)" x="0" y="0" font-size="56.0" text-anchor="end" fill="#222" stroke="#222" stroke-width="1.40" textLength="56.1" lengthAdjust="spacingAndGlyphs">10</text>
<line x1="264.00" y1="175.56" x2="265.20" y2="175.56" stroke="#444" stroke-width="0.6" />
<text transform="translate(260.70 177.58) scale(0.1)" x="0" y="0" font-size="56.0" text-anchor="end" fill="#222" stroke="#222" stroke-width="1.40" textLength="56.1" lengthAdjust="spacingAndGlyphs">20</text>
<line x1="264.00" y1="163.62" x2="265.20" y2="163.62" stroke="#444" stroke-width="0.6" />
<text transform="translate(260.70 165.64) scale(0.1)" x="0" y="0" font-size="56.0" text-anchor="end" fill="#222" stroke="#222" stroke-width="1.40" textLength="56.1" lengthAdjust="spacingAndGlyphs">30</text>
<line x1="264.00" y1="151.68" x2="265.20" y2="151.68" stroke="#444" stroke-width="0.6" />
<text transform="translate(260.70 153.70) scale(0.1)" x="0" y="0" font-size="56.0" text-anchor="end" fill="#222" stroke="#222" stroke-width="1.40" textLength="56.1" lengthAdjust="spacingAndGlyphs">40</text>
<line x1="264.00" y1="139.74" x2="265.20" y2="139.74" stroke="#444" stroke-width="0.6" />
<text transform="translate(260.70 141.76) scale(0.1)" x="0" y="0" font-size="56.0" text-anchor="end" fill="#222" stroke="#222" stroke-width="1.40" textLength="56.1" lengthAdjust="spacingAndGlyphs">50</text>
<line x1="264.00" y1="127.80" x2="265.20" y2="127.80" stroke="#444" stroke-width="0.6" />
<text transform="translate(260.70 129.82) scale(0.1)" x="0" y="0" font-size="56.0" text-anchor="end" fill="#222" stroke="#222" stroke-width="1.40" textLength="56.1" lengthAdjust="spacingAndGlyphs">60</text>
<line x1="277.30" y1="187.50" x2="277.30" y2="188.70" stroke="#444" stroke-width="0.6" />
<text transform="translate(277.30 197.12) scale(0.1)" x="0" y="0" font-size="56.0" text-anchor="middle" fill="#222" stroke="#222" stroke-width="1.20" textLength="100.9" lengthAdjust="spacingAndGlyphs">0-10</text>
<line x1="300.30" y1="187.50" x2="300.30" y2="188.70" stroke="#444" stroke-width="0.6" />
<text transform="translate(300.30 197.12) scale(0.1)" x="0" y="0" font-size="56.0" text-anchor="middle" fill="#222" stroke="#222" stroke-width="1.20" textLength="128.9" lengthAdjust="spacingAndGlyphs">10-20</text>
<line x1="323.20" y1="187.50" x2="323.20" y2="188.70" stroke="#444" stroke-width="0.6" />
<text transform="translate(323.20 197.12) scale(0.1)" x="0" y="0" font-size="56.0" text-anchor="middle" fill="#222" stroke="#222" stroke-width="1.20" textLength="128.9" lengthAdjust="spacingAndGlyphs">20-30</text>
<line x1="346.30" y1="187.50" x2="346.30" y2="188.70" stroke="#444" stroke-width="0.6" />
<text transform="translate(346.30 197.12) scale(0.1)" x="0" y="0" font-size="56.0" text-anchor="middle" fill="#222" stroke="#222" stroke-width="1.20" textLength="128.9" lengthAdjust="spacingAndGlyphs">30-40</text>
<line x1="277.30" y1="141.53" x2="277.30" y2="147.50" stroke="#666" stroke-width="0.6" />
<line x1="275.40" y1="141.53" x2="279.20" y2="141.53" stroke="#666" stroke-width="0.6" />
<line x1="275.40" y1="147.50" x2="279.20" y2="147.50" stroke="#666" stroke-width="0.6" />
<line x1="300.30" y1="154.66" x2="300.30" y2="160.63" stroke="#666" stroke-width="0.6" />
<line x1="298.40" y1="154.66" x2="302.20" y2="154.66" stroke="#666" stroke-width="0.6" />
<line x1="298.40" y1="160.63" x2="302.20" y2="160.63" stroke="#666" stroke-width="0.6" />
<line x1="323.20" y1="158.25" x2="323.20" y2="164.22" stroke="#666" stroke-width="0.6" />
<line x1="321.30" y1="158.25" x2="325.10" y2="158.25" stroke="#666" stroke-width="0.6" />
<line x1="321.30" y1="164.22" x2="325.10" y2="164.22" stroke="#666" stroke-width="0.6" />
<line x1="346.30" y1="168.99" x2="346.30" y2="172.57" stroke="#666" stroke-width="0.6" />
<line x1="344.40" y1="168.99" x2="348.20" y2="168.99" stroke="#666" stroke-width="0.6" />
<line x1="344.40" y1="172.57" x2="348.20" y2="172.57" stroke="#666" stroke-width="0.6" />
<line x1="277.30" y1="139.74" x2="277.30" y2="146.90" stroke="#666" stroke-width="0.6" />
<line x1="275.40" y1="139.74" x2="279.20" y2="139.74" stroke="#666" stroke-width="0.6" />
<line x1="275.40" y1="146.90" x2="279.20" y2="146.90" stroke="#666" stroke-width="0.6" />
<line x1="300.30" y1="141.53" x2="300.30" y2="151.08" stroke="#666" stroke-width="0.6" />
<line x1="298.40" y1="141.53" x2="302.20" y2="141.53" stroke="#666" stroke-width="0.6" />
<line x1="298.40" y1="151.08" x2="302.20" y2="151.08" stroke="#666" stroke-width="0.6" />
<line x1="323.20" y1="142.13" x2="323.20" y2="151.68" stroke="#666" stroke-width="0.6" />
<line x1="321.30" y1="142.13" x2="325.10" y2="142.13" stroke="#666" stroke-width="0.6" />
<line x1="321.30" y1="151.68" x2="325.10" y2="151.68" stroke="#666" stroke-width="0.6" />
<line x1="346.30" y1="143.32" x2="346.30" y2="152.87" stroke="#666" stroke-width="0.6" />
<line x1="344.40" y1="143.32" x2="348.20" y2="143.32" stroke="#666" stroke-width="0.6" />
<line x1="344.40" y1="152.87" x2="348.20" y2="152.87" stroke="#666" stroke-width="0.6" />
<path d="M277.30,144.52 L300.30,157.65 L323.20,161.23 L346.30,170.78" fill="none" stroke="#f57e2a" stroke-width="1.0" stroke-linejoin="round" />
<path d="M277.30,143.32 L300.30,146.31 L323.20,146.90 L346.30,148.10" fill="none" stroke="#2e78d2" stroke-width="1.0" stroke-linejoin="round" />
<circle cx="277.30" cy="144.52" r="1.35" fill="#f57e2a"/>
<circle cx="300.30" cy="157.65" r="1.35" fill="#f57e2a"/>
<circle cx="323.20" cy="161.23" r="1.35" fill="#f57e2a"/>
<circle cx="346.30" cy="170.78" r="1.35" fill="#f57e2a"/>
<circle cx="277.30" cy="143.32" r="1.35" fill="#2e78d2"/>
<circle cx="300.30" cy="146.31" r="1.35" fill="#2e78d2"/>
<circle cx="323.20" cy="146.90" r="1.35" fill="#2e78d2"/>
<circle cx="346.30" cy="148.10" r="1.35" fill="#2e78d2"/>
<text transform="translate(346.10 143.06) scale(0.1)" x="0" y="0" font-size="46.0" text-anchor="middle" fill="#333" font-weight="bold" stroke="#333" stroke-width="2.20">**</text>
<text transform="translate(249.80 157.50) rotate(-90) translate(0 2.16) scale(0.1)" x="0" y="0" font-size="60.0" text-anchor="middle" fill="#222" font-weight="bold" stroke="#222" stroke-width="1.20" textLength="410.0" lengthAdjust="spacingAndGlyphs">Entries to center</text>
<text transform="translate(311.40 206.62) scale(0.1)" x="0" y="0" font-size="56.0" text-anchor="middle" fill="#222" font-weight="bold" stroke="#222" stroke-width="1.20" textLength="265.0" lengthAdjust="spacingAndGlyphs">Time (min)</text>
<line x1="29.60" y1="223.60" x2="127.50" y2="223.60" stroke="#bbb" stroke-width="0.8" />
<line x1="127.50" y1="223.60" x2="127.50" y2="288.60" stroke="#bbb" stroke-width="0.8" />
<line x1="29.60" y1="223.60" x2="29.60" y2="288.60" stroke="#888" stroke-width="0.9" />
<line x1="29.60" y1="288.60" x2="127.50" y2="288.60" stroke="#888" stroke-width="0.9" />
<line x1="78.40" y1="223.60" x2="78.40" y2="288.60" stroke="#999" stroke-width="0.7" />
<line x1="28.10" y1="288.60" x2="29.60" y2="288.60" stroke="#666" stroke-width="0.5" />
<text transform="translate(26.80 291.43) scale(0.1)" x="0" y="0" font-size="62.0" text-anchor="end" fill="#222" stroke="#222" stroke-width="1.20" textLength="29.3" lengthAdjust="spacingAndGlyphs">0</text>
<line x1="28.10" y1="272.35" x2="29.60" y2="272.35" stroke="#666" stroke-width="0.5" />
<text transform="translate(26.80 275.18) scale(0.1)" x="0" y="0" font-size="62.0" text-anchor="end" fill="#222" stroke="#222" stroke-width="1.20" textLength="58.6" lengthAdjust="spacingAndGlyphs">20</text>
<line x1="28.10" y1="256.10" x2="29.60" y2="256.10" stroke="#666" stroke-width="0.5" />
<text transform="translate(26.80 258.93) scale(0.1)" x="0" y="0" font-size="62.0" text-anchor="end" fill="#222" stroke="#222" stroke-width="1.20" textLength="58.6" lengthAdjust="spacingAndGlyphs">40</text>
<line x1="28.10" y1="239.85" x2="29.60" y2="239.85" stroke="#666" stroke-width="0.5" />
<text transform="translate(26.80 242.68) scale(0.1)" x="0" y="0" font-size="62.0" text-anchor="end" fill="#222" stroke="#222" stroke-width="1.20" textLength="58.6" lengthAdjust="spacingAndGlyphs">60</text>
<line x1="28.10" y1="223.60" x2="29.60" y2="223.60" stroke="#666" stroke-width="0.5" />
<text transform="translate(26.80 226.43) scale(0.1)" x="0" y="0" font-size="62.0" text-anchor="end" fill="#222" stroke="#222" stroke-width="1.20" textLength="58.6" lengthAdjust="spacingAndGlyphs">80</text>
<line x1="37.20" y1="288.60" x2="37.20" y2="289.60" stroke="#666" stroke-width="0.4" />
<text transform="translate(37.20 294.60) scale(0.1)" x="0" y="0" font-size="36.0" text-anchor="middle" fill="#111" stroke="#111" stroke-width="2.00">0-10</text>
<line x1="48.60" y1="288.60" x2="48.60" y2="289.60" stroke="#666" stroke-width="0.4" />
<text transform="translate(48.60 294.60) scale(0.1)" x="0" y="0" font-size="36.0" text-anchor="middle" fill="#111" stroke="#111" stroke-width="2.00">10-20</text>
<line x1="59.70" y1="288.60" x2="59.70" y2="289.60" stroke="#666" stroke-width="0.4" />
<text transform="translate(59.70 294.60) scale(0.1)" x="0" y="0" font-size="36.0" text-anchor="middle" fill="#111" stroke="#111" stroke-width="2.00">20-30</text>
<line x1="71.10" y1="288.60" x2="71.10" y2="289.60" stroke="#666" stroke-width="0.4" />
<text transform="translate(71.10 294.60) scale(0.1)" x="0" y="0" font-size="36.0" text-anchor="middle" fill="#111" stroke="#111" stroke-width="2.00">30-40</text>
<line x1="86.00" y1="288.60" x2="86.00" y2="289.60" stroke="#666" stroke-width="0.4" />
<text transform="translate(86.00 294.60) scale(0.1)" x="0" y="0" font-size="36.0" text-anchor="middle" fill="#111" stroke="#111" stroke-width="2.00">0-10</text>
<line x1="97.60" y1="288.60" x2="97.60" y2="289.60" stroke="#666" stroke-width="0.4" />
<text transform="translate(97.60 294.60) scale(0.1)" x="0" y="0" font-size="36.0" text-anchor="middle" fill="#111" stroke="#111" stroke-width="2.00">10-20</text>
<line x1="108.50" y1="288.60" x2="108.50" y2="289.60" stroke="#666" stroke-width="0.4" />
<text transform="translate(108.50 294.60) scale(0.1)" x="0" y="0" font-size="36.0" text-anchor="middle" fill="#111" stroke="#111" stroke-width="2.00">20-30</text>
<line x1="119.90" y1="288.60" x2="119.90" y2="289.60" stroke="#666" stroke-width="0.4" />
<text transform="translate(119.90 294.60) scale(0.1)" x="0" y="0" font-size="36.0" text-anchor="middle" fill="#111" stroke="#111" stroke-width="2.00">30-40</text>
<line x1="37.20" y1="247.16" x2="37.20" y2="243.91" stroke="#ff8a3c" stroke-width="0.5" />
<line x1="36.20" y1="247.16" x2="38.20" y2="247.16" stroke="#ff8a3c" stroke-width="0.5" />
<line x1="36.20" y1="243.91" x2="38.20" y2="243.91" stroke="#ff8a3c" stroke-width="0.5" />
<line x1="48.60" y1="258.54" x2="48.60" y2="256.91" stroke="#ff8a3c" stroke-width="0.5" />
<line x1="47.60" y1="258.54" x2="49.60" y2="258.54" stroke="#ff8a3c" stroke-width="0.5" />
<line x1="47.60" y1="256.91" x2="49.60" y2="256.91" stroke="#ff8a3c" stroke-width="0.5" />
<line x1="59.70" y1="261.79" x2="59.70" y2="260.16" stroke="#ff8a3c" stroke-width="0.5" />
<line x1="58.70" y1="261.79" x2="60.70" y2="261.79" stroke="#ff8a3c" stroke-width="0.5" />
<line x1="58.70" y1="260.16" x2="60.70" y2="260.16" stroke="#ff8a3c" stroke-width="0.5" />
<line x1="71.10" y1="262.60" x2="71.10" y2="260.98" stroke="#ff8a3c" stroke-width="0.5" />
<line x1="70.10" y1="262.60" x2="72.10" y2="262.60" stroke="#ff8a3c" stroke-width="0.5" />
<line x1="70.10" y1="260.98" x2="72.10" y2="260.98" stroke="#ff8a3c" stroke-width="0.5" />
<path d="M37.20,245.54 L48.60,257.73 L59.70,260.98 L71.10,261.79" fill="none" stroke="#ff8a3c" stroke-width="1.0" stroke-linejoin="round" />
<rect x="36.10" y="244.44" width="2.20" height="2.20" fill="#ff8a3c" stroke="none" stroke-width="0.6" />
<rect x="47.50" y="256.62" width="2.20" height="2.20" fill="#ff8a3c" stroke="none" stroke-width="0.6" />
<rect x="58.60" y="259.88" width="2.20" height="2.20" fill="#ff8a3c" stroke="none" stroke-width="0.6" />
<rect x="70.00" y="260.69" width="2.20" height="2.20" fill="#ff8a3c" stroke="none" stroke-width="0.6" />
<line x1="37.20" y1="241.47" x2="37.20" y2="238.22" stroke="#2a2ae6" stroke-width="0.5" />
<line x1="36.20" y1="241.47" x2="38.20" y2="241.47" stroke="#2a2ae6" stroke-width="0.5" />
<line x1="36.20" y1="238.22" x2="38.20" y2="238.22" stroke="#2a2ae6" stroke-width="0.5" />
<line x1="48.60" y1="252.04" x2="48.60" y2="248.79" stroke="#2a2ae6" stroke-width="0.5" />
<line x1="47.60" y1="252.04" x2="49.60" y2="252.04" stroke="#2a2ae6" stroke-width="0.5" />
<line x1="47.60" y1="248.79" x2="49.60" y2="248.79" stroke="#2a2ae6" stroke-width="0.5" />
<line x1="59.70" y1="255.69" x2="59.70" y2="252.44" stroke="#2a2ae6" stroke-width="0.5" />
<line x1="58.70" y1="255.69" x2="60.70" y2="255.69" stroke="#2a2ae6" stroke-width="0.5" />
<line x1="58.70" y1="252.44" x2="60.70" y2="252.44" stroke="#2a2ae6" stroke-width="0.5" />
<line x1="71.10" y1="256.91" x2="71.10" y2="253.66" stroke="#2a2ae6" stroke-width="0.5" />
<line x1="70.10" y1="256.91" x2="72.10" y2="256.91" stroke="#2a2ae6" stroke-width="0.5" />
<line x1="70.10" y1="253.66" x2="72.10" y2="253.66" stroke="#2a2ae6" stroke-width="0.5" />
<path d="M37.20,239.85 L48.60,250.41 L59.70,254.07 L71.10,255.29" fill="none" stroke="#2a2ae6" stroke-width="1.0" stroke-linejoin="round" />
<rect x="36.10" y="238.75" width="2.20" height="2.20" fill="#2a2ae6" stroke="none" stroke-width="0.6" />
<rect x="47.50" y="249.31" width="2.20" height="2.20" fill="#2a2ae6" stroke="none" stroke-width="0.6" />
<rect x="58.60" y="252.97" width="2.20" height="2.20" fill="#2a2ae6" stroke="none" stroke-width="0.6" />
<rect x="70.00" y="254.19" width="2.20" height="2.20" fill="#2a2ae6" stroke="none" stroke-width="0.6" />
<line x1="86.00" y1="245.13" x2="86.00" y2="242.69" stroke="#ff8a3c" stroke-width="0.5" />
<line x1="85.00" y1="245.13" x2="87.00" y2="245.13" stroke="#ff8a3c" stroke-width="0.5" />
<line x1="85.00" y1="242.69" x2="87.00" y2="242.69" stroke="#ff8a3c" stroke-width="0.5" />
<line x1="97.60" y1="254.07" x2="97.60" y2="251.63" stroke="#ff8a3c" stroke-width="0.5" />
<line x1="96.60" y1="254.07" x2="98.60" y2="254.07" stroke="#ff8a3c" stroke-width="0.5" />
<line x1="96.60" y1="251.63" x2="98.60" y2="251.63" stroke="#ff8a3c" stroke-width="0.5" />
<line x1="108.50" y1="257.73" x2="108.50" y2="255.29" stroke="#ff8a3c" stroke-width="0.5" />
<line x1="107.50" y1="257.73" x2="109.50" y2="257.73" stroke="#ff8a3c" stroke-width="0.5" />
<line x1="107.50" y1="255.29" x2="109.50" y2="255.29" stroke="#ff8a3c" stroke-width="0.5" />
<line x1="119.90" y1="260.57" x2="119.90" y2="258.13" stroke="#ff8a3c" stroke-width="0.5" />
<line x1="118.90" y1="260.57" x2="120.90" y2="260.57" stroke="#ff8a3c" stroke-width="0.5" />
<line x1="118.90" y1="258.13" x2="120.90" y2="258.13" stroke="#ff8a3c" stroke-width="0.5" />
<path d="M86.00,243.91 L97.60,252.85 L108.50,256.51 L119.90,259.35" fill="none" stroke="#ff8a3c" stroke-width="1.0" stroke-linejoin="round" />
<rect x="84.90" y="242.81" width="2.20" height="2.20" fill="#ff8a3c" stroke="none" stroke-width="0.6" />
<rect x="96.50" y="251.75" width="2.20" height="2.20" fill="#ff8a3c" stroke="none" stroke-width="0.6" />
<rect x="107.40" y="255.41" width="2.20" height="2.20" fill="#ff8a3c" stroke="none" stroke-width="0.6" />
<rect x="118.80" y="258.25" width="2.20" height="2.20" fill="#ff8a3c" stroke="none" stroke-width="0.6" />
<line x1="86.00" y1="241.07" x2="86.00" y2="238.63" stroke="#2a2ae6" stroke-width="0.5" />
<line x1="85.00" y1="241.07" x2="87.00" y2="241.07" stroke="#2a2ae6" stroke-width="0.5" />
<line x1="85.00" y1="238.63" x2="87.00" y2="238.63" stroke="#2a2ae6" stroke-width="0.5" />
<line x1="97.60" y1="252.85" x2="97.60" y2="250.41" stroke="#2a2ae6" stroke-width="0.5" />
<line x1="96.60" y1="252.85" x2="98.60" y2="252.85" stroke="#2a2ae6" stroke-width="0.5" />
<line x1="96.60" y1="250.41" x2="98.60" y2="250.41" stroke="#2a2ae6" stroke-width="0.5" />
<line x1="108.50" y1="255.69" x2="108.50" y2="253.26" stroke="#2a2ae6" stroke-width="0.5" />
<line x1="107.50" y1="255.69" x2="109.50" y2="255.69" stroke="#2a2ae6" stroke-width="0.5" />
<line x1="107.50" y1="253.26" x2="109.50" y2="253.26" stroke="#2a2ae6" stroke-width="0.5" />
<line x1="119.90" y1="258.54" x2="119.90" y2="255.29" stroke="#2a2ae6" stroke-width="0.5" />
<line x1="118.90" y1="258.54" x2="120.90" y2="258.54" stroke="#2a2ae6" stroke-width="0.5" />
<line x1="118.90" y1="255.29" x2="120.90" y2="255.29" stroke="#2a2ae6" stroke-width="0.5" />
<path d="M86.00,239.85 L97.60,251.63 L108.50,254.48 L119.90,256.91" fill="none" stroke="#2a2ae6" stroke-width="1.0" stroke-linejoin="round" />
<rect x="84.90" y="238.75" width="2.20" height="2.20" fill="#2a2ae6" stroke="none" stroke-width="0.6" />
<rect x="96.50" y="250.53" width="2.20" height="2.20" fill="#2a2ae6" stroke="none" stroke-width="0.6" />
<rect x="107.40" y="253.38" width="2.20" height="2.20" fill="#2a2ae6" stroke="none" stroke-width="0.6" />
<rect x="118.80" y="255.81" width="2.20" height="2.20" fill="#2a2ae6" stroke="none" stroke-width="0.6" />
<text transform="translate(15.80 254.20) rotate(-90) translate(0 2.02) scale(0.1)" x="0" y="0" font-size="56.0" text-anchor="middle" fill="#111" font-weight="bold" stroke="#111" stroke-width="2.20" textLength="576.0" lengthAdjust="spacingAndGlyphs">Distance traveled (m)</text>
<text transform="translate(53.50 220.00) scale(0.1)" x="0" y="0" font-size="61.0" text-anchor="middle" fill="#111" font-weight="bold" stroke="#111" stroke-width="1.00" textLength="209.0" lengthAdjust="spacingAndGlyphs">Control</text>
<text transform="translate(104.10 220.00) scale(0.1)" x="0" y="0" font-size="61.0" text-anchor="middle" fill="#111" font-weight="bold" stroke="#111" stroke-width="1.00" textLength="230.0" lengthAdjust="spacingAndGlyphs">Nicotine</text>
<text transform="translate(80.60 303.73) scale(0.1)" x="0" y="0" font-size="62.0" text-anchor="middle" fill="#111" font-weight="bold" stroke="#111" stroke-width="1.00" textLength="304.0" lengthAdjust="spacingAndGlyphs">Time (min)</text>
<line x1="31.70" y1="277.00" x2="38.20" y2="277.00" stroke="#2a2ae6" stroke-width="0.9" />
<rect x="33.85" y="275.90" width="2.20" height="2.20" fill="#2a2ae6" stroke="none" stroke-width="0.6" />
<line x1="31.70" y1="283.90" x2="38.20" y2="283.90" stroke="#ff8a3c" stroke-width="0.9" />
<rect x="33.85" y="282.80" width="2.20" height="2.20" fill="#ff8a3c" stroke="none" stroke-width="0.6" />
<text transform="translate(42.00 278.76) scale(0.1)" x="0" y="0" font-size="49.0" text-anchor="start" fill="#111" stroke="#111" stroke-width="1.20" textLength="170.0" lengthAdjust="spacingAndGlyphs">hα-syn-</text>
<text transform="translate(42.00 285.66) scale(0.1)" x="0" y="0" font-size="49.0" text-anchor="start" fill="#111" stroke="#111" stroke-width="1.20" textLength="180.0" lengthAdjust="spacingAndGlyphs">hα-syn+</text>
<line x1="150.00" y1="223.80" x2="247.50" y2="223.80" stroke="#bbb" stroke-width="0.8" />
<line x1="247.50" y1="223.80" x2="247.50" y2="288.40" stroke="#bbb" stroke-width="0.8" />
<line x1="150.00" y1="223.80" x2="150.00" y2="288.40" stroke="#888" stroke-width="0.9" />
<line x1="150.00" y1="288.40" x2="247.50" y2="288.40" stroke="#888" stroke-width="0.9" />
<line x1="198.80" y1="223.80" x2="198.80" y2="288.40" stroke="#999" stroke-width="0.7" />
<line x1="148.50" y1="288.40" x2="150.00" y2="288.40" stroke="#666" stroke-width="0.5" />
<text transform="translate(145.80 291.23) scale(0.1)" x="0" y="0" font-size="62.0" text-anchor="end" fill="#222" stroke="#222" stroke-width="1.20" textLength="29.3" lengthAdjust="spacingAndGlyphs">0</text>
<line x1="148.50" y1="275.48" x2="150.00" y2="275.48" stroke="#666" stroke-width="0.5" />
<text transform="translate(145.80 278.31) scale(0.1)" x="0" y="0" font-size="62.0" text-anchor="end" fill="#222" stroke="#222" stroke-width="1.20" textLength="87.9" lengthAdjust="spacingAndGlyphs">100</text>
<line x1="148.50" y1="262.56" x2="150.00" y2="262.56" stroke="#666" stroke-width="0.5" />
<text transform="translate(145.80 265.39) scale(0.1)" x="0" y="0" font-size="62.0" text-anchor="end" fill="#222" stroke="#222" stroke-width="1.20" textLength="87.9" lengthAdjust="spacingAndGlyphs">200</text>
<line x1="148.50" y1="249.64" x2="150.00" y2="249.64" stroke="#666" stroke-width="0.5" />
<text transform="translate(145.80 252.47) scale(0.1)" x="0" y="0" font-size="62.0" text-anchor="end" fill="#222" stroke="#222" stroke-width="1.20" textLength="87.9" lengthAdjust="spacingAndGlyphs">300</text>
<line x1="148.50" y1="236.72" x2="150.00" y2="236.72" stroke="#666" stroke-width="0.5" />
<text transform="translate(145.80 239.55) scale(0.1)" x="0" y="0" font-size="62.0" text-anchor="end" fill="#222" stroke="#222" stroke-width="1.20" textLength="87.9" lengthAdjust="spacingAndGlyphs">400</text>
<line x1="148.50" y1="223.80" x2="150.00" y2="223.80" stroke="#666" stroke-width="0.5" />
<text transform="translate(145.80 226.63) scale(0.1)" x="0" y="0" font-size="62.0" text-anchor="end" fill="#222" stroke="#222" stroke-width="1.20" textLength="87.9" lengthAdjust="spacingAndGlyphs">500</text>
<line x1="156.90" y1="288.40" x2="156.90" y2="289.40" stroke="#666" stroke-width="0.4" />
<text transform="translate(156.90 294.40) scale(0.1)" x="0" y="0" font-size="36.0" text-anchor="middle" fill="#111" stroke="#111" stroke-width="2.00">0-10</text>
<line x1="168.30" y1="288.40" x2="168.30" y2="289.40" stroke="#666" stroke-width="0.4" />
<text transform="translate(168.30 294.40) scale(0.1)" x="0" y="0" font-size="36.0" text-anchor="middle" fill="#111" stroke="#111" stroke-width="2.00">10-20</text>
<line x1="179.60" y1="288.40" x2="179.60" y2="289.40" stroke="#666" stroke-width="0.4" />
<text transform="translate(179.60 294.40) scale(0.1)" x="0" y="0" font-size="36.0" text-anchor="middle" fill="#111" stroke="#111" stroke-width="2.00">20-30</text>
<line x1="191.00" y1="288.40" x2="191.00" y2="289.40" stroke="#666" stroke-width="0.4" />
<text transform="translate(191.00 294.40) scale(0.1)" x="0" y="0" font-size="36.0" text-anchor="middle" fill="#111" stroke="#111" stroke-width="2.00">30-40</text>
<line x1="205.70" y1="288.40" x2="205.70" y2="289.40" stroke="#666" stroke-width="0.4" />
<text transform="translate(205.70 294.40) scale(0.1)" x="0" y="0" font-size="36.0" text-anchor="middle" fill="#111" stroke="#111" stroke-width="2.00">0-10</text>
<line x1="217.00" y1="288.40" x2="217.00" y2="289.40" stroke="#666" stroke-width="0.4" />
<text transform="translate(217.00 294.40) scale(0.1)" x="0" y="0" font-size="36.0" text-anchor="middle" fill="#111" stroke="#111" stroke-width="2.00">10-20</text>
<line x1="228.40" y1="288.40" x2="228.40" y2="289.40" stroke="#666" stroke-width="0.4" />
<text transform="translate(228.40 294.40) scale(0.1)" x="0" y="0" font-size="36.0" text-anchor="middle" fill="#111" stroke="#111" stroke-width="2.00">20-30</text>
<line x1="239.50" y1="288.40" x2="239.50" y2="289.40" stroke="#666" stroke-width="0.4" />
<text transform="translate(239.50 294.40) scale(0.1)" x="0" y="0" font-size="36.0" text-anchor="middle" fill="#111" stroke="#111" stroke-width="2.00">30-40</text>
<line x1="156.90" y1="246.02" x2="156.90" y2="240.85" stroke="#ff8a3c" stroke-width="0.5" />
<line x1="155.90" y1="246.02" x2="157.90" y2="246.02" stroke="#ff8a3c" stroke-width="0.5" />
<line x1="155.90" y1="240.85" x2="157.90" y2="240.85" stroke="#ff8a3c" stroke-width="0.5" />
<line x1="168.30" y1="258.43" x2="168.30" y2="255.84" stroke="#ff8a3c" stroke-width="0.5" />
<line x1="167.30" y1="258.43" x2="169.30" y2="258.43" stroke="#ff8a3c" stroke-width="0.5" />
<line x1="167.30" y1="255.84" x2="169.30" y2="255.84" stroke="#ff8a3c" stroke-width="0.5" />
<line x1="179.60" y1="261.27" x2="179.60" y2="258.68" stroke="#ff8a3c" stroke-width="0.5" />
<line x1="178.60" y1="261.27" x2="180.60" y2="261.27" stroke="#ff8a3c" stroke-width="0.5" />
<line x1="178.60" y1="258.68" x2="180.60" y2="258.68" stroke="#ff8a3c" stroke-width="0.5" />
<line x1="191.00" y1="263.46" x2="191.00" y2="260.36" stroke="#ff8a3c" stroke-width="0.5" />
<line x1="190.00" y1="263.46" x2="192.00" y2="263.46" stroke="#ff8a3c" stroke-width="0.5" />
<line x1="190.00" y1="260.36" x2="192.00" y2="260.36" stroke="#ff8a3c" stroke-width="0.5" />
<path d="M156.90,243.44 L168.30,257.13 L179.60,259.98 L191.00,261.91" fill="none" stroke="#ff8a3c" stroke-width="1.0" stroke-linejoin="round" />
<rect x="155.80" y="242.34" width="2.20" height="2.20" fill="#ff8a3c" stroke="none" stroke-width="0.6" />
<rect x="167.20" y="256.03" width="2.20" height="2.20" fill="#ff8a3c" stroke="none" stroke-width="0.6" />
<rect x="178.50" y="258.88" width="2.20" height="2.20" fill="#ff8a3c" stroke="none" stroke-width="0.6" />
<rect x="189.90" y="260.81" width="2.20" height="2.20" fill="#ff8a3c" stroke="none" stroke-width="0.6" />
<line x1="156.90" y1="238.66" x2="156.90" y2="233.49" stroke="#2a2ae6" stroke-width="0.5" />
<line x1="155.90" y1="238.66" x2="157.90" y2="238.66" stroke="#2a2ae6" stroke-width="0.5" />
<line x1="155.90" y1="233.49" x2="157.90" y2="233.49" stroke="#2a2ae6" stroke-width="0.5" />
<line x1="168.30" y1="247.06" x2="168.30" y2="241.89" stroke="#2a2ae6" stroke-width="0.5" />
<line x1="167.30" y1="247.06" x2="169.30" y2="247.06" stroke="#2a2ae6" stroke-width="0.5" />
<line x1="167.30" y1="241.89" x2="169.30" y2="241.89" stroke="#2a2ae6" stroke-width="0.5" />
<line x1="179.60" y1="252.87" x2="179.60" y2="247.70" stroke="#2a2ae6" stroke-width="0.5" />
<line x1="178.60" y1="252.87" x2="180.60" y2="252.87" stroke="#2a2ae6" stroke-width="0.5" />
<line x1="178.60" y1="247.70" x2="180.60" y2="247.70" stroke="#2a2ae6" stroke-width="0.5" />
<line x1="191.00" y1="254.16" x2="191.00" y2="248.99" stroke="#2a2ae6" stroke-width="0.5" />
<line x1="190.00" y1="254.16" x2="192.00" y2="254.16" stroke="#2a2ae6" stroke-width="0.5" />
<line x1="190.00" y1="248.99" x2="192.00" y2="248.99" stroke="#2a2ae6" stroke-width="0.5" />
<path d="M156.90,236.07 L168.30,244.47 L179.60,250.29 L191.00,251.58" fill="none" stroke="#2a2ae6" stroke-width="1.0" stroke-linejoin="round" />
<rect x="155.80" y="234.97" width="2.20" height="2.20" fill="#2a2ae6" stroke="none" stroke-width="0.6" />
<rect x="167.20" y="243.37" width="2.20" height="2.20" fill="#2a2ae6" stroke="none" stroke-width="0.6" />
<rect x="178.50" y="249.19" width="2.20" height="2.20" fill="#2a2ae6" stroke="none" stroke-width="0.6" />
<rect x="189.90" y="250.48" width="2.20" height="2.20" fill="#2a2ae6" stroke="none" stroke-width="0.6" />
<line x1="205.70" y1="241.89" x2="205.70" y2="236.72" stroke="#ff8a3c" stroke-width="0.5" />
<line x1="204.70" y1="241.89" x2="206.70" y2="241.89" stroke="#ff8a3c" stroke-width="0.5" />
<line x1="204.70" y1="236.72" x2="206.70" y2="236.72" stroke="#ff8a3c" stroke-width="0.5" />
<line x1="217.00" y1="252.22" x2="217.00" y2="248.35" stroke="#ff8a3c" stroke-width="0.5" />
<line x1="216.00" y1="252.22" x2="218.00" y2="252.22" stroke="#ff8a3c" stroke-width="0.5" />
<line x1="216.00" y1="248.35" x2="218.00" y2="248.35" stroke="#ff8a3c" stroke-width="0.5" />
<line x1="228.40" y1="255.71" x2="228.40" y2="252.61" stroke="#ff8a3c" stroke-width="0.5" />
<line x1="227.40" y1="255.71" x2="229.40" y2="255.71" stroke="#ff8a3c" stroke-width="0.5" />
<line x1="227.40" y1="252.61" x2="229.40" y2="252.61" stroke="#ff8a3c" stroke-width="0.5" />
<line x1="239.50" y1="259.20" x2="239.50" y2="256.10" stroke="#ff8a3c" stroke-width="0.5" />
<line x1="238.50" y1="259.20" x2="240.50" y2="259.20" stroke="#ff8a3c" stroke-width="0.5" />
<line x1="238.50" y1="256.10" x2="240.50" y2="256.10" stroke="#ff8a3c" stroke-width="0.5" />
<path d="M205.70,239.30 L217.00,250.29 L228.40,254.16 L239.50,257.65" fill="none" stroke="#ff8a3c" stroke-width="1.0" stroke-linejoin="round" />
<rect x="204.60" y="238.20" width="2.20" height="2.20" fill="#ff8a3c" stroke="none" stroke-width="0.6" />
<rect x="215.90" y="249.19" width="2.20" height="2.20" fill="#ff8a3c" stroke="none" stroke-width="0.6" />
<rect x="227.30" y="253.06" width="2.20" height="2.20" fill="#ff8a3c" stroke="none" stroke-width="0.6" />
<rect x="238.40" y="256.55" width="2.20" height="2.20" fill="#ff8a3c" stroke="none" stroke-width="0.6" />
<line x1="205.70" y1="239.95" x2="205.70" y2="236.07" stroke="#2a2ae6" stroke-width="0.5" />
<line x1="204.70" y1="239.95" x2="206.70" y2="239.95" stroke="#2a2ae6" stroke-width="0.5" />
<line x1="204.70" y1="236.07" x2="206.70" y2="236.07" stroke="#2a2ae6" stroke-width="0.5" />
<line x1="217.00" y1="253.52" x2="217.00" y2="249.64" stroke="#2a2ae6" stroke-width="0.5" />
<line x1="216.00" y1="253.52" x2="218.00" y2="253.52" stroke="#2a2ae6" stroke-width="0.5" />
<line x1="216.00" y1="249.64" x2="218.00" y2="249.64" stroke="#2a2ae6" stroke-width="0.5" />
<line x1="228.40" y1="255.32" x2="228.40" y2="252.22" stroke="#2a2ae6" stroke-width="0.5" />
<line x1="227.40" y1="255.32" x2="229.40" y2="255.32" stroke="#2a2ae6" stroke-width="0.5" />
<line x1="227.40" y1="252.22" x2="229.40" y2="252.22" stroke="#2a2ae6" stroke-width="0.5" />
<line x1="239.50" y1="258.30" x2="239.50" y2="255.20" stroke="#2a2ae6" stroke-width="0.5" />
<line x1="238.50" y1="258.30" x2="240.50" y2="258.30" stroke="#2a2ae6" stroke-width="0.5" />
<line x1="238.50" y1="255.20" x2="240.50" y2="255.20" stroke="#2a2ae6" stroke-width="0.5" />
<path d="M205.70,238.01 L217.00,251.58 L228.40,253.77 L239.50,256.75" fill="none" stroke="#2a2ae6" stroke-width="1.0" stroke-linejoin="round" />
<rect x="204.60" y="236.91" width="2.20" height="2.20" fill="#2a2ae6" stroke="none" stroke-width="0.6" />
<rect x="215.90" y="250.48" width="2.20" height="2.20" fill="#2a2ae6" stroke="none" stroke-width="0.6" />
<rect x="227.30" y="252.67" width="2.20" height="2.20" fill="#2a2ae6" stroke="none" stroke-width="0.6" />
<rect x="238.40" y="255.65" width="2.20" height="2.20" fill="#2a2ae6" stroke="none" stroke-width="0.6" />
<text transform="translate(131.50 255.50) rotate(-90) translate(0 2.02) scale(0.1)" x="0" y="0" font-size="56.0" text-anchor="middle" fill="#111" font-weight="bold" stroke="#111" stroke-width="2.20" textLength="293.0" lengthAdjust="spacingAndGlyphs">Transitions</text>
<text transform="translate(175.40 220.00) scale(0.1)" x="0" y="0" font-size="61.0" text-anchor="middle" fill="#111" font-weight="bold" stroke="#111" stroke-width="1.00" textLength="209.0" lengthAdjust="spacingAndGlyphs">Control</text>
<text transform="translate(222.60 220.00) scale(0.1)" x="0" y="0" font-size="61.0" text-anchor="middle" fill="#111" font-weight="bold" stroke="#111" stroke-width="1.00" textLength="230.0" lengthAdjust="spacingAndGlyphs">Nicotine</text>
<text transform="translate(199.10 303.73) scale(0.1)" x="0" y="0" font-size="62.0" text-anchor="middle" fill="#111" font-weight="bold" stroke="#111" stroke-width="1.00" textLength="304.0" lengthAdjust="spacingAndGlyphs">Time (min)</text>
<line x1="151.00" y1="277.60" x2="159.10" y2="277.60" stroke="#2a2ae6" stroke-width="0.9" />
<rect x="153.95" y="276.50" width="2.20" height="2.20" fill="#2a2ae6" stroke="none" stroke-width="0.6" />
<line x1="151.00" y1="283.80" x2="159.10" y2="283.80" stroke="#ff8a3c" stroke-width="0.9" />
<rect x="153.95" y="282.70" width="2.20" height="2.20" fill="#ff8a3c" stroke="none" stroke-width="0.6" />
<text transform="translate(161.70 279.36) scale(0.1)" x="0" y="0" font-size="49.0" text-anchor="start" fill="#111" stroke="#111" stroke-width="1.20" textLength="170.0" lengthAdjust="spacingAndGlyphs">hα-syn-</text>
<text transform="translate(161.70 285.56) scale(0.1)" x="0" y="0" font-size="49.0" text-anchor="start" fill="#111" stroke="#111" stroke-width="1.20" textLength="180.0" lengthAdjust="spacingAndGlyphs">hα-syn+</text>
<line x1="363.20" y1="223.00" x2="363.20" y2="288.00" stroke="#bbb" stroke-width="0.8" />
<line x1="264.50" y1="223.00" x2="264.50" y2="288.00" stroke="#888" stroke-width="0.9" />
<line x1="264.50" y1="288.00" x2="363.20" y2="288.00" stroke="#888" stroke-width="0.9" />
<line x1="313.30" y1="223.00" x2="313.30" y2="288.00" stroke="#999" stroke-width="0.7" />
<line x1="263.00" y1="288.00" x2="264.50" y2="288.00" stroke="#666" stroke-width="0.5" />
<text transform="translate(262.20 290.83) scale(0.1)" x="0" y="0" font-size="62.0" text-anchor="end" fill="#222" stroke="#222" stroke-width="1.20" textLength="29.3" lengthAdjust="spacingAndGlyphs">0</text>
<line x1="263.00" y1="266.33" x2="264.50" y2="266.33" stroke="#666" stroke-width="0.5" />
<text transform="translate(262.20 269.17) scale(0.1)" x="0" y="0" font-size="62.0" text-anchor="end" fill="#222" stroke="#222" stroke-width="1.20" textLength="58.6" lengthAdjust="spacingAndGlyphs">20</text>
<line x1="263.00" y1="244.67" x2="264.50" y2="244.67" stroke="#666" stroke-width="0.5" />
<text transform="translate(262.20 247.50) scale(0.1)" x="0" y="0" font-size="62.0" text-anchor="end" fill="#222" stroke="#222" stroke-width="1.20" textLength="58.6" lengthAdjust="spacingAndGlyphs">40</text>
<line x1="263.00" y1="223.00" x2="264.50" y2="223.00" stroke="#666" stroke-width="0.5" />
<text transform="translate(262.20 225.83) scale(0.1)" x="0" y="0" font-size="62.0" text-anchor="end" fill="#222" stroke="#222" stroke-width="1.20" textLength="58.6" lengthAdjust="spacingAndGlyphs">60</text>
<line x1="272.60" y1="288.00" x2="272.60" y2="289.00" stroke="#666" stroke-width="0.4" />
<text transform="translate(272.60 294.00) scale(0.1)" x="0" y="0" font-size="36.0" text-anchor="middle" fill="#111" stroke="#111" stroke-width="2.00">0-10</text>
<line x1="284.00" y1="288.00" x2="284.00" y2="289.00" stroke="#666" stroke-width="0.4" />
<text transform="translate(284.00 294.00) scale(0.1)" x="0" y="0" font-size="36.0" text-anchor="middle" fill="#111" stroke="#111" stroke-width="2.00">10-20</text>
<line x1="294.80" y1="288.00" x2="294.80" y2="289.00" stroke="#666" stroke-width="0.4" />
<text transform="translate(294.80 294.00) scale(0.1)" x="0" y="0" font-size="36.0" text-anchor="middle" fill="#111" stroke="#111" stroke-width="2.00">20-30</text>
<line x1="306.10" y1="288.00" x2="306.10" y2="289.00" stroke="#666" stroke-width="0.4" />
<text transform="translate(306.10 294.00) scale(0.1)" x="0" y="0" font-size="36.0" text-anchor="middle" fill="#111" stroke="#111" stroke-width="2.00">30-40</text>
<line x1="320.80" y1="288.00" x2="320.80" y2="289.00" stroke="#666" stroke-width="0.4" />
<text transform="translate(320.80 294.00) scale(0.1)" x="0" y="0" font-size="36.0" text-anchor="middle" fill="#111" stroke="#111" stroke-width="2.00">0-10</text>
<line x1="332.80" y1="288.00" x2="332.80" y2="289.00" stroke="#666" stroke-width="0.4" />
<text transform="translate(332.80 294.00) scale(0.1)" x="0" y="0" font-size="36.0" text-anchor="middle" fill="#111" stroke="#111" stroke-width="2.00">10-20</text>
<line x1="343.50" y1="288.00" x2="343.50" y2="289.00" stroke="#666" stroke-width="0.4" />
<text transform="translate(343.50 294.00) scale(0.1)" x="0" y="0" font-size="36.0" text-anchor="middle" fill="#111" stroke="#111" stroke-width="2.00">20-30</text>
<line x1="355.60" y1="288.00" x2="355.60" y2="289.00" stroke="#666" stroke-width="0.4" />
<text transform="translate(355.60 294.00) scale(0.1)" x="0" y="0" font-size="36.0" text-anchor="middle" fill="#111" stroke="#111" stroke-width="2.00">30-40</text>
<line x1="272.60" y1="240.33" x2="272.60" y2="236.00" stroke="#ff8a3c" stroke-width="0.5" />
<line x1="271.60" y1="240.33" x2="273.60" y2="240.33" stroke="#ff8a3c" stroke-width="0.5" />
<line x1="271.60" y1="236.00" x2="273.60" y2="236.00" stroke="#ff8a3c" stroke-width="0.5" />
<line x1="284.00" y1="252.25" x2="284.00" y2="247.92" stroke="#ff8a3c" stroke-width="0.5" />
<line x1="283.00" y1="252.25" x2="285.00" y2="252.25" stroke="#ff8a3c" stroke-width="0.5" />
<line x1="283.00" y1="247.92" x2="285.00" y2="247.92" stroke="#ff8a3c" stroke-width="0.5" />
<line x1="294.80" y1="254.96" x2="294.80" y2="251.71" stroke="#ff8a3c" stroke-width="0.5" />
<line x1="293.80" y1="254.96" x2="295.80" y2="254.96" stroke="#ff8a3c" stroke-width="0.5" />
<line x1="293.80" y1="251.71" x2="295.80" y2="251.71" stroke="#ff8a3c" stroke-width="0.5" />
<line x1="306.10" y1="263.08" x2="306.10" y2="260.92" stroke="#ff8a3c" stroke-width="0.5" />
<line x1="305.10" y1="263.08" x2="307.10" y2="263.08" stroke="#ff8a3c" stroke-width="0.5" />
<line x1="305.10" y1="260.92" x2="307.10" y2="260.92" stroke="#ff8a3c" stroke-width="0.5" />
<path d="M272.60,238.17 L284.00,250.08 L294.80,253.33 L306.10,262.00" fill="none" stroke="#ff8a3c" stroke-width="1.0" stroke-linejoin="round" />
<rect x="271.50" y="237.07" width="2.20" height="2.20" fill="#ff8a3c" stroke="none" stroke-width="0.6" />
<rect x="282.90" y="248.98" width="2.20" height="2.20" fill="#ff8a3c" stroke="none" stroke-width="0.6" />
<rect x="293.70" y="252.23" width="2.20" height="2.20" fill="#ff8a3c" stroke="none" stroke-width="0.6" />
<rect x="305.00" y="260.90" width="2.20" height="2.20" fill="#ff8a3c" stroke="none" stroke-width="0.6" />
<line x1="272.60" y1="240.33" x2="272.60" y2="233.83" stroke="#2a2ae6" stroke-width="0.5" />
<line x1="271.60" y1="240.33" x2="273.60" y2="240.33" stroke="#2a2ae6" stroke-width="0.5" />
<line x1="271.60" y1="233.83" x2="273.60" y2="233.83" stroke="#2a2ae6" stroke-width="0.5" />
<line x1="284.00" y1="243.04" x2="284.00" y2="236.54" stroke="#2a2ae6" stroke-width="0.5" />
<line x1="283.00" y1="243.04" x2="285.00" y2="243.04" stroke="#2a2ae6" stroke-width="0.5" />
<line x1="283.00" y1="236.54" x2="285.00" y2="236.54" stroke="#2a2ae6" stroke-width="0.5" />
<line x1="294.80" y1="243.58" x2="294.80" y2="237.08" stroke="#2a2ae6" stroke-width="0.5" />
<line x1="293.80" y1="243.58" x2="295.80" y2="243.58" stroke="#2a2ae6" stroke-width="0.5" />
<line x1="293.80" y1="237.08" x2="295.80" y2="237.08" stroke="#2a2ae6" stroke-width="0.5" />
<line x1="306.10" y1="245.21" x2="306.10" y2="237.62" stroke="#2a2ae6" stroke-width="0.5" />
<line x1="305.10" y1="245.21" x2="307.10" y2="245.21" stroke="#2a2ae6" stroke-width="0.5" />
<line x1="305.10" y1="237.62" x2="307.10" y2="237.62" stroke="#2a2ae6" stroke-width="0.5" />
<path d="M272.60,237.08 L284.00,239.79 L294.80,240.33 L306.10,241.42" fill="none" stroke="#2a2ae6" stroke-width="1.0" stroke-linejoin="round" />
<rect x="271.50" y="235.98" width="2.20" height="2.20" fill="#2a2ae6" stroke="none" stroke-width="0.6" />
<rect x="282.90" y="238.69" width="2.20" height="2.20" fill="#2a2ae6" stroke="none" stroke-width="0.6" />
<rect x="293.70" y="239.23" width="2.20" height="2.20" fill="#2a2ae6" stroke="none" stroke-width="0.6" />
<rect x="305.00" y="240.32" width="2.20" height="2.20" fill="#2a2ae6" stroke="none" stroke-width="0.6" />
<line x1="320.80" y1="236.54" x2="320.80" y2="231.12" stroke="#ff8a3c" stroke-width="0.5" />
<line x1="319.80" y1="236.54" x2="321.80" y2="236.54" stroke="#ff8a3c" stroke-width="0.5" />
<line x1="319.80" y1="231.12" x2="321.80" y2="231.12" stroke="#ff8a3c" stroke-width="0.5" />
<line x1="332.80" y1="247.92" x2="332.80" y2="243.58" stroke="#ff8a3c" stroke-width="0.5" />
<line x1="331.80" y1="247.92" x2="333.80" y2="247.92" stroke="#ff8a3c" stroke-width="0.5" />
<line x1="331.80" y1="243.58" x2="333.80" y2="243.58" stroke="#ff8a3c" stroke-width="0.5" />
<line x1="343.50" y1="251.17" x2="343.50" y2="246.83" stroke="#ff8a3c" stroke-width="0.5" />
<line x1="342.50" y1="251.17" x2="344.50" y2="251.17" stroke="#ff8a3c" stroke-width="0.5" />
<line x1="342.50" y1="246.83" x2="344.50" y2="246.83" stroke="#ff8a3c" stroke-width="0.5" />
<line x1="355.60" y1="252.25" x2="355.60" y2="247.92" stroke="#ff8a3c" stroke-width="0.5" />
<line x1="354.60" y1="252.25" x2="356.60" y2="252.25" stroke="#ff8a3c" stroke-width="0.5" />
<line x1="354.60" y1="247.92" x2="356.60" y2="247.92" stroke="#ff8a3c" stroke-width="0.5" />
<path d="M320.80,233.83 L332.80,245.75 L343.50,249.00 L355.60,250.08" fill="none" stroke="#ff8a3c" stroke-width="1.0" stroke-linejoin="round" />
<rect x="319.70" y="232.73" width="2.20" height="2.20" fill="#ff8a3c" stroke="none" stroke-width="0.6" />
<rect x="331.70" y="244.65" width="2.20" height="2.20" fill="#ff8a3c" stroke="none" stroke-width="0.6" />
<rect x="342.40" y="247.90" width="2.20" height="2.20" fill="#ff8a3c" stroke="none" stroke-width="0.6" />
<rect x="354.50" y="248.98" width="2.20" height="2.20" fill="#ff8a3c" stroke="none" stroke-width="0.6" />
<line x1="320.80" y1="239.79" x2="320.80" y2="234.38" stroke="#2a2ae6" stroke-width="0.5" />
<line x1="319.80" y1="239.79" x2="321.80" y2="239.79" stroke="#2a2ae6" stroke-width="0.5" />
<line x1="319.80" y1="234.38" x2="321.80" y2="234.38" stroke="#2a2ae6" stroke-width="0.5" />
<line x1="332.80" y1="250.08" x2="332.80" y2="243.58" stroke="#2a2ae6" stroke-width="0.5" />
<line x1="331.80" y1="250.08" x2="333.80" y2="250.08" stroke="#2a2ae6" stroke-width="0.5" />
<line x1="331.80" y1="243.58" x2="333.80" y2="243.58" stroke="#2a2ae6" stroke-width="0.5" />
<line x1="343.50" y1="252.25" x2="343.50" y2="246.83" stroke="#2a2ae6" stroke-width="0.5" />
<line x1="342.50" y1="252.25" x2="344.50" y2="252.25" stroke="#2a2ae6" stroke-width="0.5" />
<line x1="342.50" y1="246.83" x2="344.50" y2="246.83" stroke="#2a2ae6" stroke-width="0.5" />
<line x1="355.60" y1="257.12" x2="355.60" y2="250.62" stroke="#2a2ae6" stroke-width="0.5" />
<line x1="354.60" y1="257.12" x2="356.60" y2="257.12" stroke="#2a2ae6" stroke-width="0.5" />
<line x1="354.60" y1="250.62" x2="356.60" y2="250.62" stroke="#2a2ae6" stroke-width="0.5" />
<path d="M320.80,237.08 L332.80,246.83 L343.50,249.54 L355.60,253.88" fill="none" stroke="#2a2ae6" stroke-width="1.0" stroke-linejoin="round" />
<rect x="319.70" y="235.98" width="2.20" height="2.20" fill="#2a2ae6" stroke="none" stroke-width="0.6" />
<rect x="331.70" y="245.73" width="2.20" height="2.20" fill="#2a2ae6" stroke="none" stroke-width="0.6" />
<rect x="342.40" y="248.44" width="2.20" height="2.20" fill="#2a2ae6" stroke="none" stroke-width="0.6" />
<rect x="354.50" y="252.78" width="2.20" height="2.20" fill="#2a2ae6" stroke="none" stroke-width="0.6" />
<text transform="translate(249.90 255.20) rotate(-90) translate(0 2.02) scale(0.1)" x="0" y="0" font-size="56.0" text-anchor="middle" fill="#111" font-weight="bold" stroke="#111" stroke-width="2.20" textLength="463.0" lengthAdjust="spacingAndGlyphs">Entries to center</text>
<text transform="translate(290.50 220.00) scale(0.1)" x="0" y="0" font-size="61.0" text-anchor="middle" fill="#111" font-weight="bold" stroke="#111" stroke-width="1.00" textLength="209.0" lengthAdjust="spacingAndGlyphs">Control</text>
<text transform="translate(341.60 220.00) scale(0.1)" x="0" y="0" font-size="61.0" text-anchor="middle" fill="#111" font-weight="bold" stroke="#111" stroke-width="1.00" textLength="230.0" lengthAdjust="spacingAndGlyphs">Nicotine</text>
<text transform="translate(316.50 303.73) scale(0.1)" x="0" y="0" font-size="62.0" text-anchor="middle" fill="#111" font-weight="bold" stroke="#111" stroke-width="1.00" textLength="304.0" lengthAdjust="spacingAndGlyphs">Time (min)</text>
<line x1="267.10" y1="276.70" x2="274.90" y2="276.70" stroke="#2a2ae6" stroke-width="0.9" />
<rect x="269.90" y="275.60" width="2.20" height="2.20" fill="#2a2ae6" stroke="none" stroke-width="0.6" />
<line x1="267.10" y1="282.20" x2="274.90" y2="282.20" stroke="#ff8a3c" stroke-width="0.9" />
<rect x="269.90" y="281.10" width="2.20" height="2.20" fill="#ff8a3c" stroke="none" stroke-width="0.6" />
<text transform="translate(277.50 278.46) scale(0.1)" x="0" y="0" font-size="49.0" text-anchor="start" fill="#111" stroke="#111" stroke-width="1.20" textLength="170.0" lengthAdjust="spacingAndGlyphs">hα-syn-</text>
<text transform="translate(277.50 283.96) scale(0.1)" x="0" y="0" font-size="49.0" text-anchor="start" fill="#111" stroke="#111" stroke-width="1.20" textLength="180.0" lengthAdjust="spacingAndGlyphs">hα-syn+</text>
<line x1="264.50" y1="222.80" x2="276.50" y2="222.80" stroke="#bbb" stroke-width="0.8" />
<line x1="304.00" y1="222.80" x2="322.50" y2="222.80" stroke="#bbb" stroke-width="0.8" />
<line x1="355.00" y1="222.80" x2="363.20" y2="222.80" stroke="#bbb" stroke-width="0.8" />
<line x1="38.40" y1="328.80" x2="38.40" y2="398.60" stroke="#777" stroke-width="0.6" />
<line x1="38.40" y1="398.60" x2="131.50" y2="398.60" stroke="#777" stroke-width="0.6" />
<line x1="37.10" y1="398.60" x2="38.40" y2="398.60" stroke="#777" stroke-width="0.5" />
<text transform="translate(35.50 400.65) scale(0.1)" x="0" y="0" font-size="57.0" text-anchor="end" fill="#222" stroke="#222" stroke-width="1.20" textLength="27.9" lengthAdjust="spacingAndGlyphs">0</text>
<line x1="37.10" y1="375.33" x2="38.40" y2="375.33" stroke="#777" stroke-width="0.5" />
<text transform="translate(35.50 377.39) scale(0.1)" x="0" y="0" font-size="57.0" text-anchor="end" fill="#222" stroke="#222" stroke-width="1.20" textLength="55.8" lengthAdjust="spacingAndGlyphs">50</text>
<line x1="37.10" y1="352.07" x2="38.40" y2="352.07" stroke="#777" stroke-width="0.5" />
<text transform="translate(35.50 354.12) scale(0.1)" x="0" y="0" font-size="57.0" text-anchor="end" fill="#222" stroke="#222" stroke-width="1.20" textLength="83.7" lengthAdjust="spacingAndGlyphs">100</text>
<line x1="37.10" y1="328.80" x2="38.40" y2="328.80" stroke="#777" stroke-width="0.5" />
<text transform="translate(35.50 330.85) scale(0.1)" x="0" y="0" font-size="57.0" text-anchor="end" fill="#222" stroke="#222" stroke-width="1.20" textLength="83.7" lengthAdjust="spacingAndGlyphs">150</text>
<line x1="50.60" y1="339.50" x2="50.60" y2="352.07" stroke="#444" stroke-width="0.7" />
<line x1="50.60" y1="367.89" x2="50.60" y2="373.01" stroke="#444" stroke-width="0.7" />
<line x1="47.35" y1="339.50" x2="53.85" y2="339.50" stroke="#444" stroke-width="0.7" />
<line x1="47.35" y1="373.01" x2="53.85" y2="373.01" stroke="#444" stroke-width="0.7" />
<rect x="44.40" y="352.07" width="12.40" height="15.82" fill="none" stroke="#444" stroke-width="0.8" />
<line x1="44.40" y1="359.98" x2="56.80" y2="359.98" stroke="#444" stroke-width="0.8" />
<rect x="47.71" y="353.78" width="1.40" height="1.40" fill="#2424ee" stroke="none" stroke-width="0.6" />
<rect x="51.48" y="363.15" width="1.40" height="1.40" fill="#2424ee" stroke="none" stroke-width="0.6" />
<rect x="49.87" y="360.08" width="1.40" height="1.40" fill="#2424ee" stroke="none" stroke-width="0.6" />
<rect x="50.81" y="354.71" width="1.40" height="1.40" fill="#2424ee" stroke="none" stroke-width="0.6" />
<rect x="47.46" y="366.74" width="1.40" height="1.40" fill="#2424ee" stroke="none" stroke-width="0.6" />
<rect x="51.91" y="360.34" width="1.40" height="1.40" fill="#2424ee" stroke="none" stroke-width="0.6" />
<rect x="51.47" y="367.15" width="1.40" height="1.40" fill="#2424ee" stroke="none" stroke-width="0.6" />
<rect x="49.57" y="355.77" width="1.40" height="1.40" fill="#2424ee" stroke="none" stroke-width="0.6" />
<rect x="49.09" y="340.64" width="1.40" height="1.40" fill="#2424ee" stroke="none" stroke-width="0.6" />
<rect x="51.10" y="371.28" width="1.40" height="1.40" fill="#2424ee" stroke="none" stroke-width="0.6" />
<rect x="48.48" y="354.17" width="1.40" height="1.40" fill="#2424ee" stroke="none" stroke-width="0.6" />
<rect x="51.22" y="359.53" width="1.40" height="1.40" fill="#2424ee" stroke="none" stroke-width="0.6" />
<rect x="49.90" y="372.31" width="1.40" height="1.40" fill="#2424ee" stroke="none" stroke-width="0.6" />
<rect x="49.90" y="338.80" width="1.40" height="1.40" fill="#2424ee" stroke="none" stroke-width="0.6" />
<line x1="69.20" y1="348.34" x2="69.20" y2="366.03" stroke="#c35fd6" stroke-width="0.7" />
<line x1="69.20" y1="370.21" x2="69.20" y2="378.13" stroke="#c35fd6" stroke-width="0.7" />
<line x1="65.95" y1="348.34" x2="72.45" y2="348.34" stroke="#c35fd6" stroke-width="0.7" />
<line x1="65.95" y1="378.13" x2="72.45" y2="378.13" stroke="#c35fd6" stroke-width="0.7" />
<rect x="63.00" y="366.03" width="12.40" height="4.19" fill="none" stroke="#c35fd6" stroke-width="0.8" />
<line x1="63.00" y1="367.89" x2="75.40" y2="367.89" stroke="#c35fd6" stroke-width="0.8" />
<rect x="66.80" y="367.75" width="1.40" height="1.40" fill="#ff9a1a" stroke="none" stroke-width="0.6" />
<rect x="65.67" y="368.59" width="1.40" height="1.40" fill="#ff9a1a" stroke="none" stroke-width="0.6" />
<rect x="68.13" y="367.44" width="1.40" height="1.40" fill="#ff9a1a" stroke="none" stroke-width="0.6" />
<rect x="66.90" y="368.55" width="1.40" height="1.40" fill="#ff9a1a" stroke="none" stroke-width="0.6" />
<rect x="66.81" y="367.59" width="1.40" height="1.40" fill="#ff9a1a" stroke="none" stroke-width="0.6" />
<rect x="67.24" y="369.42" width="1.40" height="1.40" fill="#ff9a1a" stroke="none" stroke-width="0.6" />
<rect x="70.53" y="367.18" width="1.40" height="1.40" fill="#ff9a1a" stroke="none" stroke-width="0.6" />
<rect x="69.35" y="368.74" width="1.40" height="1.40" fill="#ff9a1a" stroke="none" stroke-width="0.6" />
<rect x="69.98" y="351.81" width="1.40" height="1.40" fill="#ff9a1a" stroke="none" stroke-width="0.6" />
<rect x="67.36" y="367.52" width="1.40" height="1.40" fill="#ff9a1a" stroke="none" stroke-width="0.6" />
<rect x="69.16" y="356.25" width="1.40" height="1.40" fill="#ff9a1a" stroke="none" stroke-width="0.6" />
<rect x="69.81" y="364.85" width="1.40" height="1.40" fill="#ff9a1a" stroke="none" stroke-width="0.6" />
<rect x="68.50" y="377.43" width="1.40" height="1.40" fill="#ff9a1a" stroke="none" stroke-width="0.6" />
<rect x="68.50" y="347.64" width="1.40" height="1.40" fill="#ff9a1a" stroke="none" stroke-width="0.6" />
<line x1="100.50" y1="350.67" x2="100.50" y2="355.79" stroke="#444" stroke-width="0.7" />
<line x1="100.50" y1="363.70" x2="100.50" y2="372.08" stroke="#444" stroke-width="0.7" />
<line x1="97.25" y1="350.67" x2="103.75" y2="350.67" stroke="#444" stroke-width="0.7" />
<line x1="97.25" y1="372.08" x2="103.75" y2="372.08" stroke="#444" stroke-width="0.7" />
<rect x="94.30" y="355.79" width="12.40" height="7.91" fill="none" stroke="#444" stroke-width="0.8" />
<line x1="94.30" y1="359.98" x2="106.70" y2="359.98" stroke="#444" stroke-width="0.8" />
<rect x="101.78" y="357.70" width="1.40" height="1.40" fill="#2424ee" stroke="none" stroke-width="0.6" />
<rect x="98.62" y="358.35" width="1.40" height="1.40" fill="#2424ee" stroke="none" stroke-width="0.6" />
<rect x="102.09" y="356.31" width="1.40" height="1.40" fill="#2424ee" stroke="none" stroke-width="0.6" />
<rect x="99.83" y="358.34" width="1.40" height="1.40" fill="#2424ee" stroke="none" stroke-width="0.6" />
<rect x="97.01" y="361.08" width="1.40" height="1.40" fill="#2424ee" stroke="none" stroke-width="0.6" />
<rect x="101.58" y="359.72" width="1.40" height="1.40" fill="#2424ee" stroke="none" stroke-width="0.6" />
<rect x="97.84" y="358.66" width="1.40" height="1.40" fill="#2424ee" stroke="none" stroke-width="0.6" />
<rect x="101.02" y="357.66" width="1.40" height="1.40" fill="#2424ee" stroke="none" stroke-width="0.6" />
<rect x="99.42" y="361.98" width="1.40" height="1.40" fill="#2424ee" stroke="none" stroke-width="0.6" />
<rect x="99.83" y="354.71" width="1.40" height="1.40" fill="#2424ee" stroke="none" stroke-width="0.6" />
<rect x="99.86" y="362.96" width="1.40" height="1.40" fill="#2424ee" stroke="none" stroke-width="0.6" />
<rect x="99.77" y="370.74" width="1.40" height="1.40" fill="#2424ee" stroke="none" stroke-width="0.6" />
<rect x="99.80" y="371.38" width="1.40" height="1.40" fill="#2424ee" stroke="none" stroke-width="0.6" />
<rect x="99.80" y="349.97" width="1.40" height="1.40" fill="#2424ee" stroke="none" stroke-width="0.6" />
<line x1="118.80" y1="350.21" x2="118.80" y2="357.19" stroke="#c35fd6" stroke-width="0.7" />
<line x1="118.80" y1="370.68" x2="118.80" y2="380.45" stroke="#c35fd6" stroke-width="0.7" />
<line x1="115.55" y1="350.21" x2="122.05" y2="350.21" stroke="#c35fd6" stroke-width="0.7" />
<line x1="115.55" y1="380.45" x2="122.05" y2="380.45" stroke="#c35fd6" stroke-width="0.7" />
<rect x="112.60" y="357.19" width="12.40" height="13.49" fill="none" stroke="#c35fd6" stroke-width="0.8" />
<line x1="112.60" y1="364.63" x2="125.00" y2="364.63" stroke="#c35fd6" stroke-width="0.8" />
<rect x="115.36" y="360.49" width="1.40" height="1.40" fill="#ff9a1a" stroke="none" stroke-width="0.6" />
<rect x="121.00" y="361.98" width="1.40" height="1.40" fill="#ff9a1a" stroke="none" stroke-width="0.6" />
<rect x="117.46" y="367.68" width="1.40" height="1.40" fill="#ff9a1a" stroke="none" stroke-width="0.6" />
<rect x="118.11" y="356.73" width="1.40" height="1.40" fill="#ff9a1a" stroke="none" stroke-width="0.6" />
<rect x="119.72" y="362.70" width="1.40" height="1.40" fill="#ff9a1a" stroke="none" stroke-width="0.6" />
<rect x="120.26" y="366.85" width="1.40" height="1.40" fill="#ff9a1a" stroke="none" stroke-width="0.6" />
<rect x="118.18" y="357.13" width="1.40" height="1.40" fill="#ff9a1a" stroke="none" stroke-width="0.6" />
<rect x="118.57" y="363.78" width="1.40" height="1.40" fill="#ff9a1a" stroke="none" stroke-width="0.6" />
<rect x="117.41" y="363.18" width="1.40" height="1.40" fill="#ff9a1a" stroke="none" stroke-width="0.6" />
<rect x="119.47" y="379.58" width="1.40" height="1.40" fill="#ff9a1a" stroke="none" stroke-width="0.6" />
<rect x="118.95" y="354.94" width="1.40" height="1.40" fill="#ff9a1a" stroke="none" stroke-width="0.6" />
<rect x="119.26" y="357.35" width="1.40" height="1.40" fill="#ff9a1a" stroke="none" stroke-width="0.6" />
<rect x="118.10" y="379.75" width="1.40" height="1.40" fill="#ff9a1a" stroke="none" stroke-width="0.6" />
<rect x="118.10" y="349.51" width="1.40" height="1.40" fill="#ff9a1a" stroke="none" stroke-width="0.6" />
<path d="M50.30,337.60 L50.30,332.50 L69.50,332.50 L69.50,344.10" fill="none" stroke="#888" stroke-width="0.6" stroke-linejoin="round" />
<text transform="translate(59.90 332.23) scale(0.1)" x="0" y="0" font-size="48.0" text-anchor="middle" fill="#333" font-weight="bold" stroke="#333" stroke-width="0.50">*</text>
<line x1="99.00" y1="344.80" x2="118.80" y2="344.80" stroke="#333" stroke-width="0.7" />
<text transform="translate(108.90 343.47) scale(0.1)" x="0" y="0" font-size="52.0" text-anchor="middle" fill="#222" stroke="#222" stroke-width="1.50" textLength="110.0" lengthAdjust="spacingAndGlyphs">N.S.</text>
<line x1="59.90" y1="398.60" x2="59.90" y2="399.80" stroke="#777" stroke-width="0.5" />
<line x1="109.65" y1="398.60" x2="109.65" y2="399.80" stroke="#777" stroke-width="0.5" />
<text transform="translate(61.10 406.25) scale(0.1)" x="0" y="0" font-size="57.0" text-anchor="middle" fill="#111" font-weight="bold" stroke="#111" stroke-width="2.20" textLength="201.0" lengthAdjust="spacingAndGlyphs">Control</text>
<text transform="translate(111.40 406.25) scale(0.1)" x="0" y="0" font-size="57.0" text-anchor="middle" fill="#111" font-weight="bold" stroke="#111" stroke-width="2.20" textLength="231.0" lengthAdjust="spacingAndGlyphs">Nicotine</text>
<text transform="translate(20.40 355.00) rotate(-90) translate(0 2.16) scale(0.1)" x="0" y="0" font-size="60.0" text-anchor="middle" fill="#111" font-weight="bold" stroke="#111" stroke-width="1.20" textLength="880.0" lengthAdjust="spacingAndGlyphs">Distance traveled 20-40 min (m)</text>
<rect x="47.60" y="313.60" width="9.10" height="8.10" fill="#eef2ff" stroke="#222" stroke-width="0.9" rx="0.8"/>
<rect x="49.00" y="315.00" width="2.40" height="2.40" fill="#2424ee" stroke="none" stroke-width="0.6" />
<rect x="53.00" y="315.40" width="2.00" height="2.00" fill="#2424ee" stroke="none" stroke-width="0.6" />
<rect x="50.90" y="317.10" width="2.20" height="2.20" fill="#2424ee" stroke="none" stroke-width="0.6" />
<rect x="49.40" y="318.80" width="2.00" height="2.00" fill="#2424ee" stroke="none" stroke-width="0.6" />
<rect x="53.00" y="318.50" width="2.20" height="2.20" fill="#2424ee" stroke="none" stroke-width="0.6" />
<text transform="translate(57.20 319.86) scale(0.1)" x="0" y="0" font-size="60.0" text-anchor="start" fill="#222" stroke="#222" stroke-width="1.50" textLength="203.0" lengthAdjust="spacingAndGlyphs">hα-syn-</text>
<rect x="92.20" y="313.60" width="9.10" height="8.10" fill="#fff4ea" stroke="#c35fd6" stroke-width="0.9" rx="0.8"/>
<rect x="93.90" y="315.10" width="2.20" height="2.20" fill="#ff9a1a" stroke="none" stroke-width="0.6" />
<rect x="97.20" y="315.20" width="2.40" height="2.40" fill="#ff9a1a" stroke="none" stroke-width="0.6" />
<rect x="95.40" y="317.20" width="2.20" height="2.20" fill="#ff9a1a" stroke="none" stroke-width="0.6" />
<rect x="94.10" y="318.90" width="2.00" height="2.00" fill="#ff9a1a" stroke="none" stroke-width="0.6" />
<rect x="97.40" y="318.50" width="2.20" height="2.20" fill="#ff9a1a" stroke="none" stroke-width="0.6" />
<text transform="translate(101.80 319.86) scale(0.1)" x="0" y="0" font-size="60.0" text-anchor="start" fill="#222" stroke="#222" stroke-width="1.50" textLength="215.0" lengthAdjust="spacingAndGlyphs">hα-syn+</text>
<line x1="154.50" y1="331.20" x2="154.50" y2="399.50" stroke="#777" stroke-width="0.6" />
<line x1="154.50" y1="399.50" x2="248.80" y2="399.50" stroke="#777" stroke-width="0.6" />
<line x1="153.20" y1="399.50" x2="154.50" y2="399.50" stroke="#777" stroke-width="0.5" />
<text transform="translate(151.80 401.55) scale(0.1)" x="0" y="0" font-size="57.0" text-anchor="end" fill="#222" stroke="#222" stroke-width="1.20" textLength="27.9" lengthAdjust="spacingAndGlyphs">0</text>
<line x1="153.20" y1="385.84" x2="154.50" y2="385.84" stroke="#777" stroke-width="0.5" />
<text transform="translate(151.80 387.89) scale(0.1)" x="0" y="0" font-size="57.0" text-anchor="end" fill="#222" stroke="#222" stroke-width="1.20" textLength="83.7" lengthAdjust="spacingAndGlyphs">200</text>
<line x1="153.20" y1="372.18" x2="154.50" y2="372.18" stroke="#777" stroke-width="0.5" />
<text transform="translate(151.80 374.23) scale(0.1)" x="0" y="0" font-size="57.0" text-anchor="end" fill="#222" stroke="#222" stroke-width="1.20" textLength="83.7" lengthAdjust="spacingAndGlyphs">400</text>
<line x1="153.20" y1="358.52" x2="154.50" y2="358.52" stroke="#777" stroke-width="0.5" />
<text transform="translate(151.80 360.57) scale(0.1)" x="0" y="0" font-size="57.0" text-anchor="end" fill="#222" stroke="#222" stroke-width="1.20" textLength="83.7" lengthAdjust="spacingAndGlyphs">600</text>
<line x1="153.20" y1="344.86" x2="154.50" y2="344.86" stroke="#777" stroke-width="0.5" />
<text transform="translate(151.80 346.91) scale(0.1)" x="0" y="0" font-size="57.0" text-anchor="end" fill="#222" stroke="#222" stroke-width="1.20" textLength="83.7" lengthAdjust="spacingAndGlyphs">800</text>
<line x1="153.20" y1="331.20" x2="154.50" y2="331.20" stroke="#777" stroke-width="0.5" />
<text transform="translate(151.80 333.25) scale(0.1)" x="0" y="0" font-size="57.0" text-anchor="end" fill="#222" stroke="#222" stroke-width="1.20" textLength="111.6" lengthAdjust="spacingAndGlyphs">1000</text>
<line x1="167.30" y1="335.30" x2="167.30" y2="351.69" stroke="#444" stroke-width="0.7" />
<line x1="167.30" y1="369.45" x2="167.30" y2="376.96" stroke="#444" stroke-width="0.7" />
<line x1="164.05" y1="335.30" x2="170.55" y2="335.30" stroke="#444" stroke-width="0.7" />
<line x1="164.05" y1="376.96" x2="170.55" y2="376.96" stroke="#444" stroke-width="0.7" />
<rect x="161.10" y="351.69" width="12.40" height="17.76" fill="none" stroke="#444" stroke-width="0.8" />
<line x1="161.10" y1="361.59" x2="173.50" y2="361.59" stroke="#444" stroke-width="0.8" />
<rect x="169.34" y="351.92" width="1.40" height="1.40" fill="#2424ee" stroke="none" stroke-width="0.6" />
<rect x="163.94" y="367.24" width="1.40" height="1.40" fill="#2424ee" stroke="none" stroke-width="0.6" />
<rect x="168.61" y="355.68" width="1.40" height="1.40" fill="#2424ee" stroke="none" stroke-width="0.6" />
<rect x="167.62" y="363.28" width="1.40" height="1.40" fill="#2424ee" stroke="none" stroke-width="0.6" />
<rect x="167.24" y="357.97" width="1.40" height="1.40" fill="#2424ee" stroke="none" stroke-width="0.6" />
<rect x="167.09" y="365.94" width="1.40" height="1.40" fill="#2424ee" stroke="none" stroke-width="0.6" />
<rect x="166.18" y="361.76" width="1.40" height="1.40" fill="#2424ee" stroke="none" stroke-width="0.6" />
<rect x="167.94" y="351.08" width="1.40" height="1.40" fill="#2424ee" stroke="none" stroke-width="0.6" />
<rect x="167.95" y="353.59" width="1.40" height="1.40" fill="#2424ee" stroke="none" stroke-width="0.6" />
<rect x="166.43" y="365.09" width="1.40" height="1.40" fill="#2424ee" stroke="none" stroke-width="0.6" />
<rect x="165.21" y="375.12" width="1.40" height="1.40" fill="#2424ee" stroke="none" stroke-width="0.6" />
<rect x="166.49" y="362.99" width="1.40" height="1.40" fill="#2424ee" stroke="none" stroke-width="0.6" />
<rect x="166.60" y="376.26" width="1.40" height="1.40" fill="#2424ee" stroke="none" stroke-width="0.6" />
<rect x="166.60" y="334.60" width="1.40" height="1.40" fill="#2424ee" stroke="none" stroke-width="0.6" />
<line x1="185.90" y1="356.47" x2="185.90" y2="369.45" stroke="#c35fd6" stroke-width="0.7" />
<line x1="185.90" y1="373.55" x2="185.90" y2="380.38" stroke="#c35fd6" stroke-width="0.7" />
<line x1="182.65" y1="356.47" x2="189.15" y2="356.47" stroke="#c35fd6" stroke-width="0.7" />
<line x1="182.65" y1="380.38" x2="189.15" y2="380.38" stroke="#c35fd6" stroke-width="0.7" />
<rect x="179.70" y="369.45" width="12.40" height="4.10" fill="none" stroke="#c35fd6" stroke-width="0.8" />
<line x1="179.70" y1="371.16" x2="192.10" y2="371.16" stroke="#c35fd6" stroke-width="0.8" />
<rect x="184.48" y="369.19" width="1.40" height="1.40" fill="#ff9a1a" stroke="none" stroke-width="0.6" />
<rect x="185.35" y="370.55" width="1.40" height="1.40" fill="#ff9a1a" stroke="none" stroke-width="0.6" />
<rect x="183.62" y="372.75" width="1.40" height="1.40" fill="#ff9a1a" stroke="none" stroke-width="0.6" />
<rect x="184.15" y="372.29" width="1.40" height="1.40" fill="#ff9a1a" stroke="none" stroke-width="0.6" />
<rect x="185.26" y="368.75" width="1.40" height="1.40" fill="#ff9a1a" stroke="none" stroke-width="0.6" />
<rect x="186.25" y="372.10" width="1.40" height="1.40" fill="#ff9a1a" stroke="none" stroke-width="0.6" />
<rect x="187.56" y="369.58" width="1.40" height="1.40" fill="#ff9a1a" stroke="none" stroke-width="0.6" />
<rect x="186.61" y="369.13" width="1.40" height="1.40" fill="#ff9a1a" stroke="none" stroke-width="0.6" />
<rect x="185.99" y="360.80" width="1.40" height="1.40" fill="#ff9a1a" stroke="none" stroke-width="0.6" />
<rect x="184.76" y="356.23" width="1.40" height="1.40" fill="#ff9a1a" stroke="none" stroke-width="0.6" />
<rect x="186.59" y="375.82" width="1.40" height="1.40" fill="#ff9a1a" stroke="none" stroke-width="0.6" />
<rect x="185.96" y="362.58" width="1.40" height="1.40" fill="#ff9a1a" stroke="none" stroke-width="0.6" />
<rect x="185.20" y="379.68" width="1.40" height="1.40" fill="#ff9a1a" stroke="none" stroke-width="0.6" />
<rect x="185.20" y="355.77" width="1.40" height="1.40" fill="#ff9a1a" stroke="none" stroke-width="0.6" />
<line x1="217.50" y1="350.32" x2="217.50" y2="361.25" stroke="#444" stroke-width="0.7" />
<line x1="217.50" y1="367.40" x2="217.50" y2="374.91" stroke="#444" stroke-width="0.7" />
<line x1="214.25" y1="350.32" x2="220.75" y2="350.32" stroke="#444" stroke-width="0.7" />
<line x1="214.25" y1="374.91" x2="220.75" y2="374.91" stroke="#444" stroke-width="0.7" />
<rect x="211.30" y="361.25" width="12.40" height="6.15" fill="none" stroke="#444" stroke-width="0.8" />
<line x1="211.30" y1="363.98" x2="223.70" y2="363.98" stroke="#444" stroke-width="0.8" />
<rect x="216.57" y="363.44" width="1.40" height="1.40" fill="#2424ee" stroke="none" stroke-width="0.6" />
<rect x="216.74" y="361.01" width="1.40" height="1.40" fill="#2424ee" stroke="none" stroke-width="0.6" />
<rect x="216.81" y="361.59" width="1.40" height="1.40" fill="#2424ee" stroke="none" stroke-width="0.6" />
<rect x="215.92" y="361.27" width="1.40" height="1.40" fill="#2424ee" stroke="none" stroke-width="0.6" />
<rect x="219.20" y="363.87" width="1.40" height="1.40" fill="#2424ee" stroke="none" stroke-width="0.6" />
<rect x="217.21" y="361.04" width="1.40" height="1.40" fill="#2424ee" stroke="none" stroke-width="0.6" />
<rect x="218.14" y="363.71" width="1.40" height="1.40" fill="#2424ee" stroke="none" stroke-width="0.6" />
<rect x="215.13" y="364.70" width="1.40" height="1.40" fill="#2424ee" stroke="none" stroke-width="0.6" />
<rect x="217.40" y="370.13" width="1.40" height="1.40" fill="#2424ee" stroke="none" stroke-width="0.6" />
<rect x="218.02" y="367.62" width="1.40" height="1.40" fill="#2424ee" stroke="none" stroke-width="0.6" />
<rect x="218.03" y="366.60" width="1.40" height="1.40" fill="#2424ee" stroke="none" stroke-width="0.6" />
<rect x="218.17" y="356.85" width="1.40" height="1.40" fill="#2424ee" stroke="none" stroke-width="0.6" />
<rect x="216.80" y="374.21" width="1.40" height="1.40" fill="#2424ee" stroke="none" stroke-width="0.6" />
<rect x="216.80" y="349.62" width="1.40" height="1.40" fill="#2424ee" stroke="none" stroke-width="0.6" />
<line x1="234.00" y1="344.86" x2="234.00" y2="357.84" stroke="#c35fd6" stroke-width="0.7" />
<line x1="234.00" y1="370.13" x2="234.00" y2="383.79" stroke="#c35fd6" stroke-width="0.7" />
<line x1="230.75" y1="344.86" x2="237.25" y2="344.86" stroke="#c35fd6" stroke-width="0.7" />
<line x1="230.75" y1="383.79" x2="237.25" y2="383.79" stroke="#c35fd6" stroke-width="0.7" />
<rect x="227.80" y="357.84" width="12.40" height="12.29" fill="none" stroke="#c35fd6" stroke-width="0.8" />
<line x1="227.80" y1="366.03" x2="240.20" y2="366.03" stroke="#c35fd6" stroke-width="0.8" />
<rect x="233.33" y="363.07" width="1.40" height="1.40" fill="#ff9a1a" stroke="none" stroke-width="0.6" />
<rect x="234.21" y="362.20" width="1.40" height="1.40" fill="#ff9a1a" stroke="none" stroke-width="0.6" />
<rect x="232.17" y="366.88" width="1.40" height="1.40" fill="#ff9a1a" stroke="none" stroke-width="0.6" />
<rect x="233.37" y="357.95" width="1.40" height="1.40" fill="#ff9a1a" stroke="none" stroke-width="0.6" />
<rect x="234.04" y="368.50" width="1.40" height="1.40" fill="#ff9a1a" stroke="none" stroke-width="0.6" />
<rect x="235.22" y="360.51" width="1.40" height="1.40" fill="#ff9a1a" stroke="none" stroke-width="0.6" />
<rect x="235.75" y="367.08" width="1.40" height="1.40" fill="#ff9a1a" stroke="none" stroke-width="0.6" />
<rect x="234.77" y="368.71" width="1.40" height="1.40" fill="#ff9a1a" stroke="none" stroke-width="0.6" />
<rect x="233.76" y="372.46" width="1.40" height="1.40" fill="#ff9a1a" stroke="none" stroke-width="0.6" />
<rect x="232.48" y="349.01" width="1.40" height="1.40" fill="#ff9a1a" stroke="none" stroke-width="0.6" />
<rect x="232.12" y="362.75" width="1.40" height="1.40" fill="#ff9a1a" stroke="none" stroke-width="0.6" />
<rect x="234.36" y="373.56" width="1.40" height="1.40" fill="#ff9a1a" stroke="none" stroke-width="0.6" />
<rect x="233.30" y="383.09" width="1.40" height="1.40" fill="#ff9a1a" stroke="none" stroke-width="0.6" />
<rect x="233.30" y="344.16" width="1.40" height="1.40" fill="#ff9a1a" stroke="none" stroke-width="0.6" />
<path d="M166.30,332.30 L166.30,327.20 L186.90,327.20 L186.90,339.00" fill="none" stroke="#888" stroke-width="0.6" stroke-linejoin="round" />
<text transform="translate(176.60 327.23) scale(0.1)" x="0" y="0" font-size="48.0" text-anchor="middle" fill="#333" font-weight="bold" stroke="#333" stroke-width="0.50">**</text>
<line x1="217.20" y1="340.80" x2="237.30" y2="340.80" stroke="#333" stroke-width="0.7" />
<text transform="translate(227.25 339.47) scale(0.1)" x="0" y="0" font-size="52.0" text-anchor="middle" fill="#222" stroke="#222" stroke-width="1.50" textLength="110.0" lengthAdjust="spacingAndGlyphs">N.S.</text>
<line x1="176.60" y1="399.50" x2="176.60" y2="400.70" stroke="#777" stroke-width="0.5" />
<line x1="225.75" y1="399.50" x2="225.75" y2="400.70" stroke="#777" stroke-width="0.5" />
<text transform="translate(177.80 406.25) scale(0.1)" x="0" y="0" font-size="57.0" text-anchor="middle" fill="#111" font-weight="bold" stroke="#111" stroke-width="2.20" textLength="201.0" lengthAdjust="spacingAndGlyphs">Control</text>
<text transform="translate(227.90 406.25) scale(0.1)" x="0" y="0" font-size="57.0" text-anchor="middle" fill="#111" font-weight="bold" stroke="#111" stroke-width="2.20" textLength="231.0" lengthAdjust="spacingAndGlyphs">Nicotine</text>
<text transform="translate(137.40 355.50) rotate(-90) translate(0 2.16) scale(0.1)" x="0" y="0" font-size="60.0" text-anchor="middle" fill="#111" font-weight="bold" stroke="#111" stroke-width="1.20" textLength="597.0" lengthAdjust="spacingAndGlyphs">Transitions 20-40 min</text>
<rect x="165.10" y="313.60" width="9.10" height="8.10" fill="#eef2ff" stroke="#222" stroke-width="0.9" rx="0.8"/>
<rect x="166.50" y="315.00" width="2.40" height="2.40" fill="#2424ee" stroke="none" stroke-width="0.6" />
<rect x="170.50" y="315.40" width="2.00" height="2.00" fill="#2424ee" stroke="none" stroke-width="0.6" />
<rect x="168.40" y="317.10" width="2.20" height="2.20" fill="#2424ee" stroke="none" stroke-width="0.6" />
<rect x="166.90" y="318.80" width="2.00" height="2.00" fill="#2424ee" stroke="none" stroke-width="0.6" />
<rect x="170.50" y="318.50" width="2.20" height="2.20" fill="#2424ee" stroke="none" stroke-width="0.6" />
<text transform="translate(174.70 319.86) scale(0.1)" x="0" y="0" font-size="60.0" text-anchor="start" fill="#222" stroke="#222" stroke-width="1.50" textLength="203.0" lengthAdjust="spacingAndGlyphs">hα-syn-</text>
<rect x="209.00" y="313.60" width="9.10" height="8.10" fill="#fff4ea" stroke="#c35fd6" stroke-width="0.9" rx="0.8"/>
<rect x="210.70" y="315.10" width="2.20" height="2.20" fill="#ff9a1a" stroke="none" stroke-width="0.6" />
<rect x="214.00" y="315.20" width="2.40" height="2.40" fill="#ff9a1a" stroke="none" stroke-width="0.6" />
<rect x="212.20" y="317.20" width="2.20" height="2.20" fill="#ff9a1a" stroke="none" stroke-width="0.6" />
<rect x="210.90" y="318.90" width="2.00" height="2.00" fill="#ff9a1a" stroke="none" stroke-width="0.6" />
<rect x="214.20" y="318.50" width="2.20" height="2.20" fill="#ff9a1a" stroke="none" stroke-width="0.6" />
<text transform="translate(218.60 319.86) scale(0.1)" x="0" y="0" font-size="60.0" text-anchor="start" fill="#222" stroke="#222" stroke-width="1.50" textLength="215.0" lengthAdjust="spacingAndGlyphs">hα-syn+</text>
<line x1="269.40" y1="328.20" x2="269.40" y2="398.10" stroke="#777" stroke-width="0.6" />
<line x1="269.40" y1="398.10" x2="365.80" y2="398.10" stroke="#777" stroke-width="0.6" />
<line x1="268.10" y1="398.10" x2="269.40" y2="398.10" stroke="#777" stroke-width="0.5" />
<text transform="translate(266.50 400.15) scale(0.1)" x="0" y="0" font-size="57.0" text-anchor="end" fill="#222" stroke="#222" stroke-width="1.20" textLength="27.9" lengthAdjust="spacingAndGlyphs">0</text>
<line x1="268.10" y1="380.62" x2="269.40" y2="380.62" stroke="#777" stroke-width="0.5" />
<text transform="translate(266.50 382.68) scale(0.1)" x="0" y="0" font-size="57.0" text-anchor="end" fill="#222" stroke="#222" stroke-width="1.20" textLength="55.8" lengthAdjust="spacingAndGlyphs">50</text>
<line x1="268.10" y1="363.15" x2="269.40" y2="363.15" stroke="#777" stroke-width="0.5" />
<text transform="translate(266.50 365.20) scale(0.1)" x="0" y="0" font-size="57.0" text-anchor="end" fill="#222" stroke="#222" stroke-width="1.20" textLength="83.7" lengthAdjust="spacingAndGlyphs">100</text>
<line x1="268.10" y1="345.68" x2="269.40" y2="345.68" stroke="#777" stroke-width="0.5" />
<text transform="translate(266.50 347.73) scale(0.1)" x="0" y="0" font-size="57.0" text-anchor="end" fill="#222" stroke="#222" stroke-width="1.20" textLength="83.7" lengthAdjust="spacingAndGlyphs">150</text>
<line x1="268.10" y1="328.20" x2="269.40" y2="328.20" stroke="#777" stroke-width="0.5" />
<text transform="translate(266.50 330.25) scale(0.1)" x="0" y="0" font-size="57.0" text-anchor="end" fill="#222" stroke="#222" stroke-width="1.20" textLength="83.7" lengthAdjust="spacingAndGlyphs">200</text>
<line x1="282.40" y1="343.58" x2="282.40" y2="358.96" stroke="#444" stroke-width="0.7" />
<line x1="282.40" y1="377.83" x2="282.40" y2="382.37" stroke="#444" stroke-width="0.7" />
<line x1="279.15" y1="343.58" x2="285.65" y2="343.58" stroke="#444" stroke-width="0.7" />
<line x1="279.15" y1="382.37" x2="285.65" y2="382.37" stroke="#444" stroke-width="0.7" />
<rect x="276.20" y="358.96" width="12.40" height="18.87" fill="none" stroke="#444" stroke-width="0.8" />
<line x1="276.20" y1="370.84" x2="288.60" y2="370.84" stroke="#444" stroke-width="0.8" />
<rect x="280.13" y="366.86" width="1.40" height="1.40" fill="#2424ee" stroke="none" stroke-width="0.6" />
<rect x="280.92" y="365.73" width="1.40" height="1.40" fill="#2424ee" stroke="none" stroke-width="0.6" />
<rect x="282.45" y="375.89" width="1.40" height="1.40" fill="#2424ee" stroke="none" stroke-width="0.6" />
<rect x="278.78" y="361.32" width="1.40" height="1.40" fill="#2424ee" stroke="none" stroke-width="0.6" />
<rect x="280.26" y="372.71" width="1.40" height="1.40" fill="#2424ee" stroke="none" stroke-width="0.6" />
<rect x="284.67" y="368.25" width="1.40" height="1.40" fill="#2424ee" stroke="none" stroke-width="0.6" />
<rect x="283.72" y="368.14" width="1.40" height="1.40" fill="#2424ee" stroke="none" stroke-width="0.6" />
<rect x="282.53" y="374.29" width="1.40" height="1.40" fill="#2424ee" stroke="none" stroke-width="0.6" />
<rect x="282.10" y="348.00" width="1.40" height="1.40" fill="#2424ee" stroke="none" stroke-width="0.6" />
<rect x="281.77" y="352.92" width="1.40" height="1.40" fill="#2424ee" stroke="none" stroke-width="0.6" />
<rect x="282.21" y="379.19" width="1.40" height="1.40" fill="#2424ee" stroke="none" stroke-width="0.6" />
<rect x="282.47" y="358.74" width="1.40" height="1.40" fill="#2424ee" stroke="none" stroke-width="0.6" />
<rect x="281.70" y="381.67" width="1.40" height="1.40" fill="#2424ee" stroke="none" stroke-width="0.6" />
<rect x="281.70" y="342.88" width="1.40" height="1.40" fill="#2424ee" stroke="none" stroke-width="0.6" />
<line x1="300.60" y1="365.25" x2="300.60" y2="371.54" stroke="#c35fd6" stroke-width="0.7" />
<line x1="300.60" y1="382.02" x2="300.60" y2="382.37" stroke="#c35fd6" stroke-width="0.7" />
<line x1="297.35" y1="365.25" x2="303.85" y2="365.25" stroke="#c35fd6" stroke-width="0.7" />
<line x1="297.35" y1="382.37" x2="303.85" y2="382.37" stroke="#c35fd6" stroke-width="0.7" />
<rect x="294.40" y="371.54" width="12.40" height="10.49" fill="none" stroke="#c35fd6" stroke-width="0.8" />
<line x1="294.40" y1="380.62" x2="306.80" y2="380.62" stroke="#c35fd6" stroke-width="0.8" />
<rect x="298.71" y="381.00" width="1.40" height="1.40" fill="#ff9a1a" stroke="none" stroke-width="0.6" />
<rect x="302.09" y="376.37" width="1.40" height="1.40" fill="#ff9a1a" stroke="none" stroke-width="0.6" />
<rect x="301.21" y="372.11" width="1.40" height="1.40" fill="#ff9a1a" stroke="none" stroke-width="0.6" />
<rect x="301.18" y="371.67" width="1.40" height="1.40" fill="#ff9a1a" stroke="none" stroke-width="0.6" />
<rect x="299.27" y="372.93" width="1.40" height="1.40" fill="#ff9a1a" stroke="none" stroke-width="0.6" />
<rect x="299.57" y="371.51" width="1.40" height="1.40" fill="#ff9a1a" stroke="none" stroke-width="0.6" />
<rect x="302.17" y="380.30" width="1.40" height="1.40" fill="#ff9a1a" stroke="none" stroke-width="0.6" />
<rect x="297.72" y="379.05" width="1.40" height="1.40" fill="#ff9a1a" stroke="none" stroke-width="0.6" />
<rect x="301.30" y="374.20" width="1.40" height="1.40" fill="#ff9a1a" stroke="none" stroke-width="0.6" />
<rect x="300.28" y="376.52" width="1.40" height="1.40" fill="#ff9a1a" stroke="none" stroke-width="0.6" />
<rect x="299.92" y="375.06" width="1.40" height="1.40" fill="#ff9a1a" stroke="none" stroke-width="0.6" />
<rect x="299.45" y="371.65" width="1.40" height="1.40" fill="#ff9a1a" stroke="none" stroke-width="0.6" />
<rect x="299.90" y="381.67" width="1.40" height="1.40" fill="#ff9a1a" stroke="none" stroke-width="0.6" />
<rect x="299.90" y="364.55" width="1.40" height="1.40" fill="#ff9a1a" stroke="none" stroke-width="0.6" />
<line x1="333.10" y1="366.64" x2="333.10" y2="370.84" stroke="#444" stroke-width="0.7" />
<line x1="333.10" y1="378.88" x2="333.10" y2="385.52" stroke="#444" stroke-width="0.7" />
<line x1="329.85" y1="366.64" x2="336.35" y2="366.64" stroke="#444" stroke-width="0.7" />
<line x1="329.85" y1="385.52" x2="336.35" y2="385.52" stroke="#444" stroke-width="0.7" />
<rect x="326.90" y="370.84" width="12.40" height="8.04" fill="none" stroke="#444" stroke-width="0.8" />
<line x1="326.90" y1="375.38" x2="339.30" y2="375.38" stroke="#444" stroke-width="0.8" />
<rect x="332.91" y="370.91" width="1.40" height="1.40" fill="#2424ee" stroke="none" stroke-width="0.6" />
<rect x="333.49" y="370.71" width="1.40" height="1.40" fill="#2424ee" stroke="none" stroke-width="0.6" />
<rect x="334.54" y="370.21" width="1.40" height="1.40" fill="#2424ee" stroke="none" stroke-width="0.6" />
<rect x="333.43" y="376.87" width="1.40" height="1.40" fill="#2424ee" stroke="none" stroke-width="0.6" />
<rect x="334.56" y="370.42" width="1.40" height="1.40" fill="#2424ee" stroke="none" stroke-width="0.6" />
<rect x="334.83" y="373.60" width="1.40" height="1.40" fill="#2424ee" stroke="none" stroke-width="0.6" />
<rect x="333.68" y="376.48" width="1.40" height="1.40" fill="#2424ee" stroke="none" stroke-width="0.6" />
<rect x="334.39" y="373.57" width="1.40" height="1.40" fill="#2424ee" stroke="none" stroke-width="0.6" />
<rect x="331.75" y="383.62" width="1.40" height="1.40" fill="#2424ee" stroke="none" stroke-width="0.6" />
<rect x="333.46" y="366.14" width="1.40" height="1.40" fill="#2424ee" stroke="none" stroke-width="0.6" />
<rect x="331.17" y="369.71" width="1.40" height="1.40" fill="#2424ee" stroke="none" stroke-width="0.6" />
<rect x="332.13" y="381.97" width="1.40" height="1.40" fill="#2424ee" stroke="none" stroke-width="0.6" />
<rect x="332.40" y="384.82" width="1.40" height="1.40" fill="#2424ee" stroke="none" stroke-width="0.6" />
<rect x="332.40" y="365.94" width="1.40" height="1.40" fill="#2424ee" stroke="none" stroke-width="0.6" />
<line x1="352.30" y1="354.76" x2="352.30" y2="368.39" stroke="#c35fd6" stroke-width="0.7" />
<line x1="352.30" y1="380.62" x2="352.30" y2="388.31" stroke="#c35fd6" stroke-width="0.7" />
<line x1="349.05" y1="354.76" x2="355.55" y2="354.76" stroke="#c35fd6" stroke-width="0.7" />
<line x1="349.05" y1="388.31" x2="355.55" y2="388.31" stroke="#c35fd6" stroke-width="0.7" />
<rect x="346.10" y="368.39" width="12.40" height="12.23" fill="none" stroke="#c35fd6" stroke-width="0.8" />
<line x1="346.10" y1="372.94" x2="358.50" y2="372.94" stroke="#c35fd6" stroke-width="0.8" />
<rect x="350.36" y="370.52" width="1.40" height="1.40" fill="#ff9a1a" stroke="none" stroke-width="0.6" />
<rect x="353.84" y="379.38" width="1.40" height="1.40" fill="#ff9a1a" stroke="none" stroke-width="0.6" />
<rect x="352.29" y="379.38" width="1.40" height="1.40" fill="#ff9a1a" stroke="none" stroke-width="0.6" />
<rect x="352.91" y="375.88" width="1.40" height="1.40" fill="#ff9a1a" stroke="none" stroke-width="0.6" />
<rect x="353.89" y="367.93" width="1.40" height="1.40" fill="#ff9a1a" stroke="none" stroke-width="0.6" />
<rect x="351.63" y="367.71" width="1.40" height="1.40" fill="#ff9a1a" stroke="none" stroke-width="0.6" />
<rect x="350.46" y="378.98" width="1.40" height="1.40" fill="#ff9a1a" stroke="none" stroke-width="0.6" />
<rect x="352.20" y="379.54" width="1.40" height="1.40" fill="#ff9a1a" stroke="none" stroke-width="0.6" />
<rect x="350.69" y="373.93" width="1.40" height="1.40" fill="#ff9a1a" stroke="none" stroke-width="0.6" />
<rect x="351.93" y="382.37" width="1.40" height="1.40" fill="#ff9a1a" stroke="none" stroke-width="0.6" />
<rect x="350.23" y="358.50" width="1.40" height="1.40" fill="#ff9a1a" stroke="none" stroke-width="0.6" />
<rect x="351.04" y="355.45" width="1.40" height="1.40" fill="#ff9a1a" stroke="none" stroke-width="0.6" />
<rect x="351.60" y="387.61" width="1.40" height="1.40" fill="#ff9a1a" stroke="none" stroke-width="0.6" />
<rect x="351.60" y="354.06" width="1.40" height="1.40" fill="#ff9a1a" stroke="none" stroke-width="0.6" />
<path d="M282.80,342.90 L282.80,336.30 L301.90,336.30 L301.90,346.00" fill="none" stroke="#888" stroke-width="0.6" stroke-linejoin="round" />
<text transform="translate(292.35 335.73) scale(0.1)" x="0" y="0" font-size="48.0" text-anchor="middle" fill="#333" font-weight="bold" stroke="#333" stroke-width="0.50">**</text>
<line x1="332.20" y1="349.90" x2="352.30" y2="349.90" stroke="#333" stroke-width="0.7" />
<text transform="translate(342.25 348.57) scale(0.1)" x="0" y="0" font-size="52.0" text-anchor="middle" fill="#222" stroke="#222" stroke-width="1.50" textLength="110.0" lengthAdjust="spacingAndGlyphs">N.S.</text>
<line x1="291.50" y1="398.10" x2="291.50" y2="399.30" stroke="#777" stroke-width="0.5" />
<line x1="342.70" y1="398.10" x2="342.70" y2="399.30" stroke="#777" stroke-width="0.5" />
<text transform="translate(293.20 406.25) scale(0.1)" x="0" y="0" font-size="57.0" text-anchor="middle" fill="#111" font-weight="bold" stroke="#111" stroke-width="2.20" textLength="201.0" lengthAdjust="spacingAndGlyphs">Control</text>
<text transform="translate(343.20 406.25) scale(0.1)" x="0" y="0" font-size="57.0" text-anchor="middle" fill="#111" font-weight="bold" stroke="#111" stroke-width="2.20" textLength="231.0" lengthAdjust="spacingAndGlyphs">Nicotine</text>
<text transform="translate(251.40 355.00) rotate(-90) translate(0 2.16) scale(0.1)" x="0" y="0" font-size="60.0" text-anchor="middle" fill="#111" font-weight="bold" stroke="#111" stroke-width="1.20" textLength="790.0" lengthAdjust="spacingAndGlyphs">Entries to center 20-40 min</text>
<rect x="281.70" y="313.60" width="9.10" height="8.10" fill="#eef2ff" stroke="#222" stroke-width="0.9" rx="0.8"/>
<rect x="283.10" y="315.00" width="2.40" height="2.40" fill="#2424ee" stroke="none" stroke-width="0.6" />
<rect x="287.10" y="315.40" width="2.00" height="2.00" fill="#2424ee" stroke="none" stroke-width="0.6" />
<rect x="285.00" y="317.10" width="2.20" height="2.20" fill="#2424ee" stroke="none" stroke-width="0.6" />
<rect x="283.50" y="318.80" width="2.00" height="2.00" fill="#2424ee" stroke="none" stroke-width="0.6" />
<rect x="287.10" y="318.50" width="2.20" height="2.20" fill="#2424ee" stroke="none" stroke-width="0.6" />
<text transform="translate(291.30 319.86) scale(0.1)" x="0" y="0" font-size="60.0" text-anchor="start" fill="#222" stroke="#222" stroke-width="1.50" textLength="203.0" lengthAdjust="spacingAndGlyphs">hα-syn-</text>
<rect x="326.30" y="313.60" width="9.10" height="8.10" fill="#fff4ea" stroke="#c35fd6" stroke-width="0.9" rx="0.8"/>
<rect x="328.00" y="315.10" width="2.20" height="2.20" fill="#ff9a1a" stroke="none" stroke-width="0.6" />
<rect x="331.30" y="315.20" width="2.40" height="2.40" fill="#ff9a1a" stroke="none" stroke-width="0.6" />
<rect x="329.50" y="317.20" width="2.20" height="2.20" fill="#ff9a1a" stroke="none" stroke-width="0.6" />
<rect x="328.20" y="318.90" width="2.00" height="2.00" fill="#ff9a1a" stroke="none" stroke-width="0.6" />
<rect x="331.50" y="318.50" width="2.20" height="2.20" fill="#ff9a1a" stroke="none" stroke-width="0.6" />
<text transform="translate(335.90 319.86) scale(0.1)" x="0" y="0" font-size="60.0" text-anchor="start" fill="#222" stroke="#222" stroke-width="1.50" textLength="215.0" lengthAdjust="spacingAndGlyphs">hα-syn+</text>
<defs>
<linearGradient id="gb" x1="0" y1="0" x2="0" y2="1"><stop offset="0" stop-color="#1a7ec2"/><stop offset="0.5" stop-color="#15aed6"/><stop offset="1" stop-color="#2ee0ea"/></linearGradient>
<linearGradient id="go" x1="0" y1="0" x2="0" y2="1"><stop offset="0" stop-color="#ff8c00"/><stop offset="0.6" stop-color="#ffb000"/><stop offset="1" stop-color="#ffe060"/></linearGradient>
<linearGradient id="gbl" x1="0" y1="0" x2="0" y2="1"><stop offset="0" stop-color="#1a78c8"/><stop offset="1" stop-color="#18a0d8"/></linearGradient>
<linearGradient id="gol" x1="0" y1="0" x2="0" y2="1"><stop offset="0" stop-color="#ff9000"/><stop offset="1" stop-color="#ffb030"/></linearGradient>
</defs>
<rect x="82.40" y="465.01" width="16.60" height="68.59" fill="url(#gb)" stroke="#111" stroke-width="0.6" />
<line x1="90.70" y1="460.51" x2="90.70" y2="469.52" stroke="#555" stroke-width="0.5" />
<line x1="89.20" y1="460.51" x2="92.20" y2="460.51" stroke="#555" stroke-width="0.5" />
<line x1="89.20" y1="469.52" x2="92.20" y2="469.52" stroke="#555" stroke-width="0.5" />
<text transform="translate(90.70 532.14) scale(0.1)" x="0" y="0" font-size="54.0" text-anchor="middle" fill="#111" font-weight="bold" stroke="#111" stroke-width="1.50">(8)</text>
<rect x="102.40" y="468.23" width="16.60" height="65.37" fill="url(#go)" stroke="#111" stroke-width="0.6" />
<line x1="110.70" y1="464.05" x2="110.70" y2="472.42" stroke="#555" stroke-width="0.5" />
<line x1="109.20" y1="464.05" x2="112.20" y2="464.05" stroke="#555" stroke-width="0.5" />
<line x1="109.20" y1="472.42" x2="112.20" y2="472.42" stroke="#555" stroke-width="0.5" />
<text transform="translate(110.70 532.14) scale(0.1)" x="0" y="0" font-size="54.0" text-anchor="middle" fill="#111" font-weight="bold" stroke="#111" stroke-width="1.50">(16)</text>
<rect x="152.80" y="449.88" width="16.80" height="83.72" fill="url(#gb)" stroke="#111" stroke-width="0.6" />
<line x1="161.20" y1="444.73" x2="161.20" y2="455.03" stroke="#555" stroke-width="0.5" />
<line x1="159.70" y1="444.73" x2="162.70" y2="444.73" stroke="#555" stroke-width="0.5" />
<line x1="159.70" y1="455.03" x2="162.70" y2="455.03" stroke="#555" stroke-width="0.5" />
<text transform="translate(161.20 532.14) scale(0.1)" x="0" y="0" font-size="54.0" text-anchor="middle" fill="#111" font-weight="bold" stroke="#111" stroke-width="1.50">(12)</text>
<rect x="173.40" y="462.12" width="16.00" height="71.48" fill="url(#go)" stroke="#111" stroke-width="0.6" />
<line x1="181.40" y1="459.22" x2="181.40" y2="465.01" stroke="#555" stroke-width="0.5" />
<line x1="179.90" y1="459.22" x2="182.90" y2="459.22" stroke="#555" stroke-width="0.5" />
<line x1="179.90" y1="465.01" x2="182.90" y2="465.01" stroke="#555" stroke-width="0.5" />
<text transform="translate(181.40 532.14) scale(0.1)" x="0" y="0" font-size="54.0" text-anchor="middle" fill="#111" font-weight="bold" stroke="#111" stroke-width="1.50">(14)</text>
<line x1="65.00" y1="437.00" x2="65.00" y2="533.60" stroke="#444" stroke-width="0.7" />
<line x1="65.00" y1="533.60" x2="205.00" y2="533.60" stroke="#444" stroke-width="0.7" />
<line x1="63.70" y1="533.60" x2="65.00" y2="533.60" stroke="#444" stroke-width="0.5" />
<text transform="translate(60.50 535.62) scale(0.1)" x="0" y="0" font-size="56.0" text-anchor="end" fill="#222" stroke="#222" stroke-width="1.00" textLength="28.0" lengthAdjust="spacingAndGlyphs">0</text>
<line x1="63.70" y1="517.50" x2="65.00" y2="517.50" stroke="#444" stroke-width="0.5" />
<text transform="translate(60.50 519.52) scale(0.1)" x="0" y="0" font-size="56.0" text-anchor="end" fill="#222" stroke="#222" stroke-width="1.00" textLength="56.1" lengthAdjust="spacingAndGlyphs">50</text>
<line x1="63.70" y1="501.40" x2="65.00" y2="501.40" stroke="#444" stroke-width="0.5" />
<text transform="translate(60.50 503.42) scale(0.1)" x="0" y="0" font-size="56.0" text-anchor="end" fill="#222" stroke="#222" stroke-width="1.00" textLength="84.1" lengthAdjust="spacingAndGlyphs">100</text>
<line x1="63.70" y1="485.30" x2="65.00" y2="485.30" stroke="#444" stroke-width="0.5" />
<text transform="translate(60.50 487.32) scale(0.1)" x="0" y="0" font-size="56.0" text-anchor="end" fill="#222" stroke="#222" stroke-width="1.00" textLength="84.1" lengthAdjust="spacingAndGlyphs">150</text>
<line x1="63.70" y1="469.20" x2="65.00" y2="469.20" stroke="#444" stroke-width="0.5" />
<text transform="translate(60.50 471.22) scale(0.1)" x="0" y="0" font-size="56.0" text-anchor="end" fill="#222" stroke="#222" stroke-width="1.00" textLength="84.1" lengthAdjust="spacingAndGlyphs">200</text>
<line x1="63.70" y1="453.10" x2="65.00" y2="453.10" stroke="#444" stroke-width="0.5" />
<text transform="translate(60.50 455.12) scale(0.1)" x="0" y="0" font-size="56.0" text-anchor="end" fill="#222" stroke="#222" stroke-width="1.00" textLength="84.1" lengthAdjust="spacingAndGlyphs">250</text>
<line x1="63.70" y1="437.00" x2="65.00" y2="437.00" stroke="#444" stroke-width="0.5" />
<text transform="translate(60.50 439.02) scale(0.1)" x="0" y="0" font-size="56.0" text-anchor="end" fill="#222" stroke="#222" stroke-width="1.00" textLength="84.1" lengthAdjust="spacingAndGlyphs">300</text>
<text transform="translate(45.90 485.50) rotate(-90) translate(0 1.80) scale(0.1)" x="0" y="0" font-size="50.0" text-anchor="middle" fill="#111" font-weight="bold" stroke="#111" stroke-width="0.80" textLength="490.0" lengthAdjust="spacingAndGlyphs">Total TH+ cells (SNr)</text>
<line x1="136.00" y1="533.60" x2="136.00" y2="535.00" stroke="#444" stroke-width="0.5" />
<text transform="translate(100.70 543.22) scale(0.1)" x="0" y="0" font-size="56.0" text-anchor="middle" fill="#111" font-weight="bold" stroke="#111" stroke-width="2.20" textLength="195.0" lengthAdjust="spacingAndGlyphs">Control</text>
<text transform="translate(172.40 543.22) scale(0.1)" x="0" y="0" font-size="56.0" text-anchor="middle" fill="#111" font-weight="bold" stroke="#111" stroke-width="2.20" textLength="220.0" lengthAdjust="spacingAndGlyphs">Nicotine</text>
<path d="M90.50,443.30 L90.50,440.30 L161.40,440.30 L161.40,443.30" fill="none" stroke="#444" stroke-width="0.6" stroke-linejoin="round" />
<text transform="translate(127.20 439.40) scale(0.1)" x="0" y="0" font-size="50.0" text-anchor="middle" fill="#222" font-weight="bold" stroke="#222" stroke-width="2.20">*</text>
<rect x="100.30" y="421.00" width="8.10" height="8.90" fill="url(#gbl)" stroke="#111" stroke-width="0.6" />
<text transform="translate(110.20 428.25) scale(0.1)" x="0" y="0" font-size="57.0" text-anchor="start" fill="#111" font-weight="bold" stroke="#111" stroke-width="2.20" textLength="208.0" lengthAdjust="spacingAndGlyphs">hα-syn-</text>
<rect x="138.20" y="421.00" width="8.30" height="8.90" fill="url(#gol)" stroke="#111" stroke-width="0.6" />
<text transform="translate(148.00 428.25) scale(0.1)" x="0" y="0" font-size="57.0" text-anchor="start" fill="#111" font-weight="bold" stroke="#111" stroke-width="2.20" textLength="218.0" lengthAdjust="spacingAndGlyphs">hα-syn+</text>
<rect x="252.00" y="468.84" width="17.90" height="63.76" fill="url(#go)" stroke="#111" stroke-width="0.6" />
<line x1="260.95" y1="464.80" x2="260.95" y2="472.87" stroke="#555" stroke-width="0.5" />
<line x1="259.45" y1="464.80" x2="262.45" y2="464.80" stroke="#555" stroke-width="0.5" />
<line x1="259.45" y1="472.87" x2="262.45" y2="472.87" stroke="#555" stroke-width="0.5" />
<text transform="translate(260.95 531.14) scale(0.1)" x="0" y="0" font-size="54.0" text-anchor="middle" fill="#111" font-weight="bold" stroke="#111" stroke-width="1.50">(10)</text>
<rect x="305.20" y="446.05" width="17.40" height="86.55" fill="url(#go)" stroke="#111" stroke-width="0.6" />
<line x1="313.90" y1="439.40" x2="313.90" y2="452.70" stroke="#555" stroke-width="0.5" />
<line x1="312.40" y1="439.40" x2="315.40" y2="439.40" stroke="#555" stroke-width="0.5" />
<line x1="312.40" y1="452.70" x2="315.40" y2="452.70" stroke="#555" stroke-width="0.5" />
<text transform="translate(313.90 531.14) scale(0.1)" x="0" y="0" font-size="54.0" text-anchor="middle" fill="#111" font-weight="bold" stroke="#111" stroke-width="1.50">(10)</text>
<line x1="234.00" y1="434.50" x2="234.00" y2="532.60" stroke="#444" stroke-width="0.7" />
<line x1="234.00" y1="532.60" x2="339.20" y2="532.60" stroke="#444" stroke-width="0.7" />
<line x1="232.70" y1="532.60" x2="234.00" y2="532.60" stroke="#444" stroke-width="0.5" />
<text transform="translate(229.50 534.40) scale(0.1)" x="0" y="0" font-size="50.0" text-anchor="end" fill="#222" stroke="#222" stroke-width="1.00" textLength="25.0" lengthAdjust="spacingAndGlyphs">0</text>
<line x1="232.70" y1="521.70" x2="234.00" y2="521.70" stroke="#444" stroke-width="0.5" />
<text transform="translate(229.50 523.50) scale(0.1)" x="0" y="0" font-size="50.0" text-anchor="end" fill="#222" stroke="#222" stroke-width="1.00" textLength="50.0" lengthAdjust="spacingAndGlyphs">10</text>
<line x1="232.70" y1="510.80" x2="234.00" y2="510.80" stroke="#444" stroke-width="0.5" />
<text transform="translate(229.50 512.60) scale(0.1)" x="0" y="0" font-size="50.0" text-anchor="end" fill="#222" stroke="#222" stroke-width="1.00" textLength="50.0" lengthAdjust="spacingAndGlyphs">20</text>
<line x1="232.70" y1="499.90" x2="234.00" y2="499.90" stroke="#444" stroke-width="0.5" />
<text transform="translate(229.50 501.70) scale(0.1)" x="0" y="0" font-size="50.0" text-anchor="end" fill="#222" stroke="#222" stroke-width="1.00" textLength="50.0" lengthAdjust="spacingAndGlyphs">30</text>
<line x1="232.70" y1="489.00" x2="234.00" y2="489.00" stroke="#444" stroke-width="0.5" />
<text transform="translate(229.50 490.80) scale(0.1)" x="0" y="0" font-size="50.0" text-anchor="end" fill="#222" stroke="#222" stroke-width="1.00" textLength="50.0" lengthAdjust="spacingAndGlyphs">40</text>
<line x1="232.70" y1="478.10" x2="234.00" y2="478.10" stroke="#444" stroke-width="0.5" />
<text transform="translate(229.50 479.90) scale(0.1)" x="0" y="0" font-size="50.0" text-anchor="end" fill="#222" stroke="#222" stroke-width="1.00" textLength="50.0" lengthAdjust="spacingAndGlyphs">50</text>
<line x1="232.70" y1="467.20" x2="234.00" y2="467.20" stroke="#444" stroke-width="0.5" />
<text transform="translate(229.50 469.00) scale(0.1)" x="0" y="0" font-size="50.0" text-anchor="end" fill="#222" stroke="#222" stroke-width="1.00" textLength="50.0" lengthAdjust="spacingAndGlyphs">60</text>
<line x1="232.70" y1="456.30" x2="234.00" y2="456.30" stroke="#444" stroke-width="0.5" />
<text transform="translate(229.50 458.10) scale(0.1)" x="0" y="0" font-size="50.0" text-anchor="end" fill="#222" stroke="#222" stroke-width="1.00" textLength="50.0" lengthAdjust="spacingAndGlyphs">70</text>
<line x1="232.70" y1="445.40" x2="234.00" y2="445.40" stroke="#444" stroke-width="0.5" />
<text transform="translate(229.50 447.20) scale(0.1)" x="0" y="0" font-size="50.0" text-anchor="end" fill="#222" stroke="#222" stroke-width="1.00" textLength="50.0" lengthAdjust="spacingAndGlyphs">80</text>
<line x1="232.70" y1="434.50" x2="234.00" y2="434.50" stroke="#444" stroke-width="0.5" />
<text transform="translate(229.50 436.30) scale(0.1)" x="0" y="0" font-size="50.0" text-anchor="end" fill="#222" stroke="#222" stroke-width="1.00" textLength="50.0" lengthAdjust="spacingAndGlyphs">90</text>
<text transform="translate(212.50 480.00) rotate(-90) translate(0 1.87) scale(0.1)" x="0" y="0" font-size="52.0" text-anchor="middle" fill="#111" font-weight="bold" stroke="#111" stroke-width="0.80" textLength="620.0" lengthAdjust="spacingAndGlyphs">Nurr1+ cells (SNr) / 30µm</text>
<line x1="287.50" y1="532.60" x2="287.50" y2="534.00" stroke="#444" stroke-width="0.5" />
<text transform="translate(261.50 542.62) scale(0.1)" x="0" y="0" font-size="56.0" text-anchor="middle" fill="#111" font-weight="bold" stroke="#111" stroke-width="2.20" textLength="195.0" lengthAdjust="spacingAndGlyphs">Control</text>
<text transform="translate(314.10 542.62) scale(0.1)" x="0" y="0" font-size="56.0" text-anchor="middle" fill="#111" font-weight="bold" stroke="#111" stroke-width="2.20" textLength="220.0" lengthAdjust="spacingAndGlyphs">Nicotine</text>
<text transform="translate(313.20 439.00) scale(0.1)" x="0" y="0" font-size="50.0" text-anchor="middle" fill="#222" font-weight="bold" stroke="#222" stroke-width="2.20">**</text>
<rect x="271.20" y="422.40" width="7.40" height="7.40" fill="url(#gol)" stroke="#111" stroke-width="0.6" />
<text transform="translate(280.10 428.15) scale(0.1)" x="0" y="0" font-size="57.0" text-anchor="start" fill="#111" font-weight="bold" stroke="#111" stroke-width="2.20" textLength="227.0" lengthAdjust="spacingAndGlyphs">hα-syn+</text>
</svg></body></html>
